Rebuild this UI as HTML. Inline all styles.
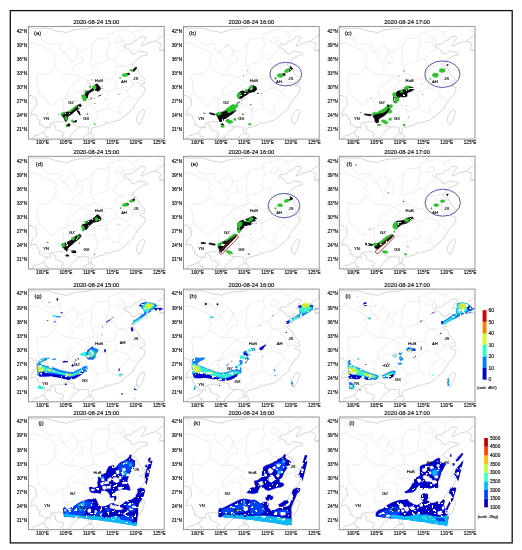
<!DOCTYPE html><html><head><meta charset="utf-8"><title>fig</title><style>
html,body{margin:0;padding:0;background:#fff;}svg{display:block;}
text{font-family:"Liberation Sans",sans-serif;fill:#111;stroke:#111;stroke-width:0.16px;}
</style></head><body>
<svg width="522" height="550" viewBox="0 0 522 550">
<rect width="522" height="550" fill="#fff"/>
<defs>
<clipPath id="dom"><polygon points="0.00,0.00 140.00,0.00 125.00,40.00 107.85,109.46 106.00,109.10 104.00,108.72 102.00,108.35 100.00,107.98 98.00,107.62 96.00,107.27 94.00,106.92 92.00,106.58 90.00,106.25 88.00,105.93 86.00,105.62 84.00,105.31 82.00,105.01 80.00,104.72 78.00,104.43 76.00,104.16 74.00,103.89 72.00,103.63 70.00,103.37 68.00,103.12 66.00,102.89 64.00,102.65 62.00,102.43 60.00,102.21 58.00,102.00 56.00,101.80 54.00,101.61 52.00,101.42 50.00,101.24 48.00,101.07 46.00,100.91 44.00,100.75 42.00,100.60 40.00,100.46 38.00,100.32 36.00,100.20 0.00,100.00"/></clipPath>
<mask id="ms9" maskUnits="userSpaceOnUse" x="-50" y="-50" width="300" height="300"><rect x="-50" y="-50" width="300" height="300" fill="#fff"/><rect x="-50" y="-50" width="300" height="300" fill="#000" filter="url(#spkl9)"/></mask>
<filter id="spkl9" x="-50" y="-50" width="300" height="300" filterUnits="userSpaceOnUse" color-interpolation-filters="sRGB"><feTurbulence type="fractalNoise" baseFrequency="0.28" numOctaves="2" seed="20"/><feColorMatrix type="matrix" values="0 0 0 0 0  0 0 0 0 0  0 0 0 0 0  -1 0 0 0 0.86"/><feComponentTransfer><feFuncA type="discrete" tableValues="0 1"/></feComponentTransfer></filter>
<mask id="ms10" maskUnits="userSpaceOnUse" x="-50" y="-50" width="300" height="300"><rect x="-50" y="-50" width="300" height="300" fill="#fff"/><rect x="-50" y="-50" width="300" height="300" fill="#000" filter="url(#spkl10)"/></mask>
<filter id="spkl10" x="-50" y="-50" width="300" height="300" filterUnits="userSpaceOnUse" color-interpolation-filters="sRGB"><feTurbulence type="fractalNoise" baseFrequency="0.28" numOctaves="2" seed="21"/><feColorMatrix type="matrix" values="0 0 0 0 0  0 0 0 0 0  0 0 0 0 0  -1 0 0 0 0.86"/><feComponentTransfer><feFuncA type="discrete" tableValues="0 1"/></feComponentTransfer></filter>
<mask id="ms11" maskUnits="userSpaceOnUse" x="-50" y="-50" width="300" height="300"><rect x="-50" y="-50" width="300" height="300" fill="#fff"/><rect x="-50" y="-50" width="300" height="300" fill="#000" filter="url(#spkl11)"/></mask>
<filter id="spkl11" x="-50" y="-50" width="300" height="300" filterUnits="userSpaceOnUse" color-interpolation-filters="sRGB"><feTurbulence type="fractalNoise" baseFrequency="0.28" numOctaves="2" seed="22"/><feColorMatrix type="matrix" values="0 0 0 0 0  0 0 0 0 0  0 0 0 0 0  -1 0 0 0 0.86"/><feComponentTransfer><feFuncA type="discrete" tableValues="0 1"/></feComponentTransfer></filter>
<clipPath id="cp"><rect x="0" y="0" width="135.70" height="112.70"/></clipPath>
<filter id="spk0" x="0" y="0" width="522" height="550" filterUnits="userSpaceOnUse" color-interpolation-filters="sRGB"><feTurbulence type="fractalNoise" baseFrequency="0.550" numOctaves="2" seed="3"/><feColorMatrix type="matrix" values="0 0 0 0 0  0 0 0 0 0  0 0 0 0 0  -1 0 0 0 0.800"/><feComponentTransfer><feFuncA type="discrete" tableValues="0 1"/></feComponentTransfer></filter>
<filter id="spk1" x="0" y="0" width="522" height="550" filterUnits="userSpaceOnUse" color-interpolation-filters="sRGB"><feTurbulence type="fractalNoise" baseFrequency="0.320" numOctaves="2" seed="5"/><feColorMatrix type="matrix" values="0 0 0 0 0  0 0 0 0 0  0 0 0 0 0  -1 0 0 0 0.830"/><feComponentTransfer><feFuncA type="discrete" tableValues="0 1"/></feComponentTransfer></filter>
<filter id="spk2" x="0" y="0" width="522" height="550" filterUnits="userSpaceOnUse" color-interpolation-filters="sRGB"><feTurbulence type="fractalNoise" baseFrequency="0.320" numOctaves="2" seed="7"/><feColorMatrix type="matrix" values="0 0 0 0 0  0 0 0 0 0  0 0 0 0 0  -1 0 0 0 0.870"/><feComponentTransfer><feFuncA type="discrete" tableValues="0 1"/></feComponentTransfer></filter>
</defs>
<rect x="10.3" y="10.6" width="501.9" height="532.3" fill="none" stroke="#111" stroke-width="1.3"/>
<g transform="translate(28.50 26.40)">
<g clip-path="url(#cp)">
<g fill="none" stroke-linejoin="round"><g stroke="#d0d0d0" stroke-width="0.9"><path d="M40.17 112.56 L41.57 109.75 L43.91 106.93 L45.78 104.59 L48.11 103.18 L50.45 101.30 L51.62 100.60 L53.72 100.13 L55.59 100.37 L56.99 101.07 L58.86 100.37 L60.26 101.30 L59.56 103.65 L60.26 105.99 L61.66 106.70 L63.06 106.46 L62.83 104.59 L62.59 102.71 L64.46 101.30 L68.20 100.60 L71.00 99.43 L74.27 98.96 L76.14 98.02 L77.54 95.68 L78.24 96.61 L80.35 97.08 L81.75 96.14 L84.08 95.21 L86.89 94.74 L90.16 94.03 L92.02 92.86 L93.89 91.45 L96.23 90.05 L98.10 87.23 L100.90 85.83 L102.77 83.48 L105.10 82.07 L105.57 79.26 L107.44 76.92 L109.31 74.10 L111.18 70.82 L113.51 69.41 L115.38 66.60 L116.31 64.25 L116.78 61.44 L113.98 60.03 L111.18 59.33 L113.51 57.69 L116.31 56.75 L115.38 54.40 L116.31 52.76 L113.98 50.65 L111.64 48.31 L110.24 45.96 L108.84 42.21 L105.57 39.86 L103.70 38.46 L104.64 36.58 L106.97 34.71 L109.31 32.36 L111.64 30.95 L114.91 29.08 L118.65 28.61 L119.12 26.73 L116.78 25.79 L113.51 25.33 L110.71 24.39 L107.91 26.26 L105.57 27.67 L102.77 26.73 L102.30 24.39 L99.50 22.51 L96.70 21.10 L96.23 18.76 L98.56 17.82 L102.30 17.82 L104.17 16.41 L106.50 14.54 L110.24 12.66 L112.11 10.32 L114.91 9.85 L117.72 11.26 L116.31 13.13 L114.91 15.95 L113.51 17.82 L112.58 19.70 L114.91 19.23 L117.25 17.82 L120.52 16.41 L123.79 15.48 L127.53 14.54 L128.93 15.95 L131.26 16.41 L132.66 17.82 L131.73 20.17 L130.80 22.04 L132.66 23.45 L136.40 24.86"/><path d="M107.91 93.80 L108.84 96.14 L110.71 98.49 L111.64 96.61 L113.04 94.74 L114.45 91.45 L114.91 89.11 L116.31 86.30 L116.31 84.42 L114.45 83.01 L112.11 84.42 L110.71 86.30 L108.37 90.05 L107.91 93.80 Z"/><path d="M54.19 113.03 L54.65 111.15 L56.99 109.28 L58.86 107.87 L61.66 107.40 L64.00 107.87 L65.40 109.51 L64.00 112.09 L63.06 113.50"/><path d="M51.62 100.60 L49.52 100.37 L47.65 99.66 L45.31 98.49 L45.54 96.61 L44.84 94.27 L42.04 94.03 L40.17 93.33 L38.77 92.39 L36.90 93.80 L35.03 94.74 L32.70 96.14 L30.83 94.74 L28.96 95.68 L27.09 95.68 L25.22 95.68 L24.06 96.61"/><path d="M24.06 96.61 L22.42 96.38 L21.49 98.02 L21.95 101.77 L19.62 100.83 L19.39 100.37"/><path d="M19.39 100.37 L16.82 101.07 L14.95 100.37 L13.78 98.25 L10.74 98.02 L11.68 94.27 L9.34 92.86 L8.88 90.05 L7.94 88.64 L4.67 87.70 L2.80 89.58 L2.34 87.70 L3.27 85.36 L3.74 83.01 L5.61 81.61 L7.94 79.26 L7.94 75.04 L7.01 72.23 L5.61 71.29 L2.80 68.94 L-0.47 69.41"/><path d="M24.06 96.61 L25.22 98.96 L27.56 99.90 L26.63 102.24 L28.96 104.12 L31.30 104.59 L34.57 105.99 L35.50 107.87 L32.70 109.75 L35.03 112.09 L36.90 113.50"/><path d="M19.39 100.37 L16.82 104.12 L14.48 105.99 L16.35 107.40 L16.82 110.21 L19.62 110.21 L19.15 113.50"/><path d="M14.48 105.99 L11.68 107.40 L8.88 108.81 L5.61 109.28 L3.74 111.62 L2.80 114.44"/><path d="M-0.93 1.17 L0.93 0.94 L4.67 1.88 L11.68 1.88 L17.75 1.64 L22.42 2.34 L26.63 4.22 L31.30 5.16 L35.03 5.39 L37.37 6.57 L42.04 4.69 L46.71 3.28 L51.38 2.58 L56.06 2.58 L60.73 1.88 L63.53 0.47 L64.93 -0.94"/><path d="M127.53 14.54 L130.33 11.72 L133.60 9.85 L136.40 7.50"/><path d="M130.33 23.92 L134.07 23.92 L136.40 24.39"/></g><g stroke="#e5e5e5" stroke-width="0.7"><path d="M7.94 72.69 L7.47 69.41 L9.34 66.13 L10.28 64.72 L11.21 68.47 L14.48 70.35 L15.88 72.69 L18.22 72.23 L19.62 76.45 L22.42 79.26 L26.16 77.85 L28.03 75.04 L30.36 72.23 L33.63 71.29 L35.03 72.23"/><path d="M35.03 72.23 L33.63 75.51 L35.50 77.38 L34.57 79.73 L35.03 82.54 L35.50 85.36"/><path d="M38.77 92.39 L40.17 88.64 L37.37 86.76 L35.50 85.36 L38.30 84.89 L42.04 85.36 L44.84 83.48 L48.11 82.54 L51.38 81.61 L54.19 82.54 L57.46 80.67 L58.86 79.73"/><path d="M58.86 79.73 L57.46 77.38 L58.39 74.10 L56.99 72.23 L57.92 68.94 L56.99 66.13 L54.19 67.54 L52.79 65.19 L50.45 64.72 L46.71 65.66 L43.91 68.00 L41.11 69.88 L38.30 69.41 L35.03 72.23"/><path d="M38.30 69.41 L39.71 64.25 L40.64 61.44 L42.04 59.56 L44.84 59.09 L47.65 55.34 L51.38 52.53 L54.19 51.12 L57.46 53.47"/><path d="M57.46 53.47 L61.19 54.40 L58.39 58.16 L56.99 60.97 L55.12 63.78 L56.99 66.13"/><path d="M58.39 62.85 L63.06 61.44 L66.80 60.97 L71.00 62.85 L74.74 63.31 L78.48 64.72 L79.41 66.13"/><path d="M58.86 79.73 L60.73 78.32 L64.46 79.73 L66.33 82.07 L68.20 84.42 L71.94 85.36 L74.74 83.01 L78.01 83.01 L80.35 81.61"/><path d="M80.35 81.61 L79.41 78.32 L78.48 75.04 L79.41 72.69 L77.54 70.35 L78.94 67.54 L79.41 66.13"/><path d="M68.20 84.42 L67.73 87.23 L70.07 89.58 L67.73 92.39 L66.33 95.21 L64.00 97.08 L62.13 98.96 L60.26 100.83"/><path d="M80.35 81.61 L83.15 83.48 L85.48 85.83 L88.75 85.36 L91.09 86.30 L92.49 88.17 L94.36 91.45"/><path d="M91.09 86.30 L90.16 83.01 L90.62 79.73 L92.96 76.92 L95.76 73.63 L99.03 70.82 L100.43 68.94"/><path d="M100.43 68.94 L102.77 70.82 L105.57 72.23 L109.31 74.10"/><path d="M100.43 68.94 L99.03 66.13 L98.10 64.72 L95.29 63.31 L92.02 62.85 L89.22 61.91"/><path d="M79.41 66.13 L83.15 64.25 L86.42 61.91 L89.22 61.91"/><path d="M98.10 64.72 L101.83 61.44 L104.17 58.62 L105.57 55.81 L109.77 56.28 L112.11 56.28 L113.51 57.69"/><path d="M111.64 56.28 L112.58 53.47 L115.38 54.40"/><path d="M104.17 58.62 L103.70 54.87 L101.83 53.47 L100.43 50.65 L102.77 49.24 L100.90 46.90 L98.10 45.49 L97.16 42.21 L91.56 39.86"/><path d="M89.22 61.91 L87.82 59.09 L88.29 56.28 L85.48 54.40 L83.62 52.06 L86.42 49.71 L87.35 46.90 L86.89 44.09 L88.75 41.27 L91.56 39.86"/><path d="M63.53 47.84 L66.80 46.90 L69.60 48.78 L72.87 49.71 L77.08 52.53 L80.35 52.53 L83.62 52.06"/><path d="M54.19 51.12 L57.46 48.78 L61.66 48.78 L63.53 47.84"/><path d="M54.19 51.12 L49.05 48.78 L44.38 48.31 L39.71 48.31 L42.04 45.96 L44.38 43.62 L44.38 40.80 L46.71 38.46 L49.05 37.05 L53.72 36.11 L54.65 31.42 L51.38 30.02 L49.05 27.67 L49.52 23.92"/><path d="M39.71 48.31 L34.57 46.90 L31.30 44.09 L27.09 41.27 L23.36 42.21 L21.95 45.96 L17.75 48.31 L13.08 47.37 L9.34 46.90 L7.94 51.59 L8.88 56.28 L9.34 60.97 L10.28 64.72"/><path d="M27.09 41.27 L25.69 38.46 L28.03 35.17 L26.63 32.83 L25.22 30.48 L28.03 28.14 L24.76 24.39 L19.62 22.51 L11.68 19.23 L7.01 16.41 L0.00 17.82"/><path d="M0.93 0.94 L6.07 7.03 L12.15 10.32 L14.48 14.07 L18.22 16.88 L22.42 18.29 L26.16 17.82 L29.43 16.88 L32.70 18.29 L30.83 22.51 L33.63 25.33"/><path d="M33.63 25.33 L35.50 26.26 L38.77 28.14 L39.71 31.42 L42.04 34.24 L44.38 36.11 L46.25 33.77 L46.25 31.89 L48.11 29.08 L49.52 23.92 L46.25 21.10 L45.78 18.29 L43.91 17.35 L42.04 19.70 L40.17 22.51 L37.37 24.86 L33.63 25.33"/><path d="M49.52 23.92 L53.72 25.33 L58.39 22.04 L62.59 18.76 L65.86 15.95 L63.53 20.17 L62.59 25.79 L63.06 30.48 L62.59 34.71 L61.66 37.99 L63.53 39.40"/><path d="M63.53 39.40 L65.40 43.15 L65.40 45.02 L63.53 47.84"/><path d="M63.53 39.40 L67.73 37.99 L72.40 36.58 L77.08 35.17 L79.88 32.83"/><path d="M79.88 32.83 L78.01 29.08 L78.94 24.86 L79.88 21.10 L81.75 16.41 L79.41 14.07 L80.81 11.26 L77.54 11.72 L74.74 12.19 L71.00 12.19 L67.27 13.13 L65.86 15.95"/><path d="M79.88 32.83 L82.21 32.36 L85.48 32.83 L86.89 35.64 L88.75 39.40 L91.56 39.86"/><path d="M91.56 39.86 L94.83 38.93 L98.10 39.40 L100.90 37.52 L103.70 38.46"/><path d="M85.48 32.83 L88.29 28.61 L91.09 25.79 L94.83 23.92 L96.70 21.10"/><path d="M80.81 11.26 L79.41 7.97 L85.95 5.63 L88.75 4.22 L92.96 3.75 L95.29 2.34 L98.10 1.88 L99.50 4.22 L103.70 6.10 L106.50 10.32 L105.10 13.13 L104.17 16.41"/><path d="M103.70 6.10 L107.44 5.16 L111.18 3.28 L115.38 2.34 L119.12 0.94 L121.45 -0.47"/><path d="M136.40 7.50 L132.66 4.22 L129.86 1.88 L127.53 -0.47"/><path d="M86.42 15.95 L88.75 13.13 L90.62 9.85 L95.29 11.26 L94.36 13.60 L92.96 15.95 L89.69 16.41 L86.42 15.95"/><path d="M94.36 13.60 L97.16 15.48 L96.23 18.76 L96.70 21.10 L93.43 20.17 L92.96 15.95"/></g></g>
<g transform="translate(-28.50 -26.40)"><mask id="m0" maskUnits="userSpaceOnUse" x="0" y="0" width="522" height="550"><rect width="522" height="550" fill="#fff"/><rect width="522" height="550" fill="#000" filter="url(#spk1)"/></mask><g mask="url(#m0)"><polygon points="61.45,114.38 63.75,113.06 66.05,112.37 69.49,111.79 72.94,109.78 75.24,107.48 77.54,105.18 80.41,104.03 81.45,105.36 79.95,107.66 77.54,109.49 75.24,110.76 73.52,112.25 71.79,114.09 69.49,115.24 67.89,116.51 67.31,118.69 66.74,120.99 65.59,121.56 64.61,119.38 63.52,117.08 62.14,115.93" fill="#0b070b" stroke="#0b070b" stroke-width="0.8" stroke-linejoin="round"/><polygon points="77.54,110.36 78.69,110.93 80.13,113.23 80.53,114.67 79.55,114.78 78.40,112.94 77.43,111.22" fill="#0b070b" stroke="#0b070b" stroke-width="0.8" stroke-linejoin="round"/><ellipse cx="74.90" cy="121.28" rx="2.30" ry="1.21" fill="#0b070b"/><polygon points="66.62,124.72 68.63,123.86 70.07,124.15 69.78,125.87 67.77,126.45 66.62,126.16" fill="#0b070b" stroke="#0b070b" stroke-width="0.8" stroke-linejoin="round"/><ellipse cx="58.69" cy="114.21" rx="0.34" ry="0.34" fill="#0b070b"/><ellipse cx="61.56" cy="116.51" rx="0.23" ry="0.23" fill="#0b070b"/><ellipse cx="66.05" cy="98.86" rx="0.29" ry="0.29" fill="#0b070b"/><ellipse cx="54.70" cy="113.19" rx="0.36" ry="0.36" fill="#0b070b"/><ellipse cx="58.61" cy="114.23" rx="0.29" ry="0.29" fill="#0b070b"/><ellipse cx="49.49" cy="124.52" rx="0.21" ry="0.21" fill="#0b070b"/><ellipse cx="65.78" cy="98.86" rx="0.21" ry="0.21" fill="#0b070b"/><ellipse cx="78.15" cy="113.45" rx="0.21" ry="0.21" fill="#0b070b"/><ellipse cx="79.46" cy="114.10" rx="0.21" ry="0.21" fill="#0b070b"/><polygon points="85.20,92.66 86.92,91.10 88.36,91.22 89.79,90.36 91.23,89.49 92.38,88.34 93.82,87.20 95.54,84.32 97.26,84.03 98.99,86.05 100.71,88.34 99.56,90.36 97.84,91.22 96.11,90.36 94.39,90.07 92.67,90.93 90.94,91.79 89.22,92.94 88.07,94.67 87.49,96.97 88.36,97.83 90.37,98.40 91.52,98.11 90.94,98.98 88.64,98.80 87.21,98.11 86.34,96.97 85.48,95.24" fill="#0b070b" stroke="#0b070b" stroke-width="0.8" stroke-linejoin="round"/><polygon points="81.75,94.38 84.05,95.24 86.34,96.39 86.92,97.83 85.20,98.11 82.90,96.97" fill="#0b070b" stroke="#0b070b" stroke-width="0.8" stroke-linejoin="round"/><ellipse cx="91.23" cy="80.01" rx="0.40" ry="0.40" fill="#0b070b"/><ellipse cx="101.86" cy="86.05" rx="0.34" ry="0.34" fill="#0b070b"/><ellipse cx="102.44" cy="88.63" rx="0.34" ry="0.34" fill="#0b070b"/><ellipse cx="94.97" cy="98.11" rx="0.29" ry="0.29" fill="#0b070b"/><ellipse cx="93.24" cy="98.40" rx="0.23" ry="0.23" fill="#0b070b"/><ellipse cx="94.97" cy="103.29" rx="0.40" ry="0.40" fill="#0b070b"/><ellipse cx="76.57" cy="100.70" rx="0.29" ry="0.29" fill="#0b070b"/><ellipse cx="89.79" cy="83.46" rx="0.34" ry="0.34" fill="#0b070b"/><polyline points="98.13,96.28 101.29,94.95" fill="none" stroke="#0b070b" stroke-width="0.57" stroke-linecap="round"/><ellipse cx="89.96" cy="97.62" rx="0.39" ry="0.39" fill="#0b070b"/><ellipse cx="92.31" cy="98.01" rx="0.33" ry="0.33" fill="#0b070b"/><ellipse cx="94.52" cy="98.40" rx="0.26" ry="0.26" fill="#0b070b"/><ellipse cx="96.48" cy="97.62" rx="0.26" ry="0.26" fill="#0b070b"/><ellipse cx="99.08" cy="95.66" rx="0.39" ry="0.39" fill="#0b070b"/><ellipse cx="100.38" cy="95.27" rx="0.26" ry="0.26" fill="#0b070b"/><ellipse cx="104.94" cy="99.31" rx="0.26" ry="0.26" fill="#0b070b"/><ellipse cx="119.27" cy="94.10" rx="0.33" ry="0.33" fill="#0b070b"/><ellipse cx="120.57" cy="93.71" rx="0.26" ry="0.26" fill="#0b070b"/><ellipse cx="91.92" cy="79.77" rx="0.26" ry="0.26" fill="#0b070b"/><ellipse cx="91.26" cy="83.68" rx="0.26" ry="0.26" fill="#0b070b"/><ellipse cx="102.34" cy="86.67" rx="0.26" ry="0.26" fill="#0b070b"/><ellipse cx="102.99" cy="88.89" rx="0.26" ry="0.26" fill="#0b070b"/><ellipse cx="87.36" cy="81.72" rx="0.20" ry="0.20" fill="#0b070b"/><ellipse cx="105.59" cy="81.72" rx="0.20" ry="0.20" fill="#0b070b"/><polygon points="132.87,69.77 134.82,67.95 136.64,67.16 135.86,69.25 134.43,70.94 133.00,71.59" fill="#0b070b" stroke="#0b070b" stroke-width="0.8" stroke-linejoin="round"/><polygon points="126.61,73.55 129.22,73.16 129.61,74.46 127.92,75.76" fill="#0b070b" stroke="#0b070b" stroke-width="0.8" stroke-linejoin="round"/><ellipse cx="116.84" cy="66.64" rx="0.20" ry="0.20" fill="#0b070b"/><ellipse cx="117.49" cy="94.38" rx="0.26" ry="0.26" fill="#0b070b"/><ellipse cx="119.45" cy="93.98" rx="0.26" ry="0.26" fill="#0b070b"/><ellipse cx="100.56" cy="95.68" rx="0.33" ry="0.33" fill="#0b070b"/><ellipse cx="105.12" cy="98.93" rx="0.26" ry="0.26" fill="#0b070b"/><ellipse cx="98.61" cy="87.21" rx="0.26" ry="0.26" fill="#0b070b"/></g><polygon points="60.59,113.80 62.60,112.37 64.32,112.08 65.47,112.66 63.75,114.09 62.02,115.24 60.87,114.95" fill="#2fc42f" stroke="#2fc42f" stroke-width="0.5" stroke-linejoin="round"/><polygon points="68.63,111.51 70.36,110.07 72.08,108.63 73.80,107.20 75.24,106.05 76.39,105.47 76.97,106.62 75.24,108.06 73.52,109.49 71.79,110.93 69.78,112.08" fill="#2fc42f" stroke="#2fc42f" stroke-width="0.5" stroke-linejoin="round"/><polygon points="64.90,116.39 66.33,116.10 67.20,118.11 66.62,120.41 65.47,120.13 64.78,118.11" fill="#2fc42f" stroke="#2fc42f" stroke-width="0.5" stroke-linejoin="round"/><polygon points="71.51,120.13 73.06,119.72 73.63,121.28 72.66,122.43 71.51,121.85" fill="#2fc42f" stroke="#2fc42f" stroke-width="0.5" stroke-linejoin="round"/><polygon points="65.76,125.01 67.20,124.72 67.48,126.45 66.05,126.74" fill="#2fc42f" stroke="#2fc42f" stroke-width="0.5" stroke-linejoin="round"/><ellipse cx="87.31" cy="114.21" rx="0.69" ry="0.69" fill="#2fc42f"/><ellipse cx="80.87" cy="118.40" rx="0.34" ry="0.34" fill="#2fc42f"/><ellipse cx="87.27" cy="114.10" rx="0.65" ry="0.65" fill="#2fc42f"/><ellipse cx="94.70" cy="124.13" rx="0.65" ry="0.65" fill="#2fc42f"/><ellipse cx="47.54" cy="113.45" rx="0.91" ry="0.39" fill="#2fc42f"/><polygon points="92.67,86.05 94.10,84.90 95.83,85.18 96.11,87.48 94.97,89.49 93.24,89.21" fill="#2fc42f" stroke="#2fc42f" stroke-width="0.5" stroke-linejoin="round"/><polygon points="89.10,86.05 90.37,85.59 91.06,87.20 89.79,87.89" fill="#2fc42f" stroke="#2fc42f" stroke-width="0.5" stroke-linejoin="round"/><polygon points="84.51,90.76 86.06,90.18 87.03,91.79 85.48,92.66" fill="#2fc42f" stroke="#2fc42f" stroke-width="0.5" stroke-linejoin="round"/><polygon points="81.46,95.24 83.47,94.67 85.77,96.39 86.63,98.69 85.48,100.99 83.47,100.99 82.03,98.11" fill="#2fc42f" stroke="#2fc42f" stroke-width="0.5" stroke-linejoin="round"/><polygon points="93.53,86.62 94.97,86.05 95.43,87.77 94.10,88.63" fill="#2fc42f" stroke="#2fc42f" stroke-width="0.5" stroke-linejoin="round"/><ellipse cx="87.36" cy="114.29" rx="0.78" ry="0.78" fill="#2fc42f"/><ellipse cx="94.52" cy="124.06" rx="0.78" ry="0.78" fill="#2fc42f"/><ellipse cx="94.91" cy="103.61" rx="0.52" ry="0.52" fill="#2fc42f"/><ellipse cx="131.17" cy="70.29" rx="1.43" ry="1.30" fill="#2fc42f"/><polygon points="122.05,74.20 124.66,73.16 127.26,73.94 127.92,75.76 125.31,76.80 122.70,76.15" fill="#2fc42f" stroke="#2fc42f" stroke-width="0.5" stroke-linejoin="round"/><ellipse cx="120.10" cy="77.85" rx="0.91" ry="0.91" fill="#2fc42f"/></g>
</g>
<text x="17.70" y="93.70" font-size="4.2" text-anchor="middle">YN</text>
<text x="42.70" y="77.60" font-size="4.2" text-anchor="middle">GZ</text>
<text x="57.70" y="93.80" font-size="4.2" text-anchor="middle">GX</text>
<text x="70.40" y="56.00" font-size="4.2" text-anchor="middle">HuB</text>
<text x="95.50" y="56.90" font-size="4.2" text-anchor="middle">AH</text>
<text x="107.30" y="53.60" font-size="4.2" text-anchor="middle">JS</text>
<text x="5.60" y="8.80" font-size="5.9">(a)</text>
<rect x="0" y="0" width="135.70" height="112.70" fill="none" stroke="#8a8a8a" stroke-width="0.9"/>
<text x="-1.4" y="6.39" font-size="4.7" text-anchor="end">42°N</text>
<text x="-1.4" y="20.46" font-size="4.7" text-anchor="end">39°N</text>
<text x="-1.4" y="34.53" font-size="4.7" text-anchor="end">36°N</text>
<text x="-1.4" y="48.60" font-size="4.7" text-anchor="end">33°N</text>
<text x="-1.4" y="62.67" font-size="4.7" text-anchor="end">30°N</text>
<text x="-1.4" y="76.74" font-size="4.7" text-anchor="end">27°N</text>
<text x="-1.4" y="90.81" font-size="4.7" text-anchor="end">24°N</text>
<text x="-1.4" y="104.88" font-size="4.7" text-anchor="end">21°N</text>
<text x="14.01" y="118.00" font-size="4.7" text-anchor="middle">100°E</text>
<text x="37.37" y="118.00" font-size="4.7" text-anchor="middle">105°E</text>
<text x="60.73" y="118.00" font-size="4.7" text-anchor="middle">110°E</text>
<text x="84.08" y="118.00" font-size="4.7" text-anchor="middle">115°E</text>
<text x="107.44" y="118.00" font-size="4.7" text-anchor="middle">120°E</text>
<text x="130.80" y="118.00" font-size="4.7" text-anchor="middle">125°E</text>
<text x="67.85" y="-2.0" font-size="5.8" text-anchor="middle">2020-08-24 15:00</text>

</g>
<g transform="translate(183.50 26.40)">
<g clip-path="url(#cp)">
<g fill="none" stroke-linejoin="round"><g stroke="#d0d0d0" stroke-width="0.9"><path d="M40.17 112.56 L41.57 109.75 L43.91 106.93 L45.78 104.59 L48.11 103.18 L50.45 101.30 L51.62 100.60 L53.72 100.13 L55.59 100.37 L56.99 101.07 L58.86 100.37 L60.26 101.30 L59.56 103.65 L60.26 105.99 L61.66 106.70 L63.06 106.46 L62.83 104.59 L62.59 102.71 L64.46 101.30 L68.20 100.60 L71.00 99.43 L74.27 98.96 L76.14 98.02 L77.54 95.68 L78.24 96.61 L80.35 97.08 L81.75 96.14 L84.08 95.21 L86.89 94.74 L90.16 94.03 L92.02 92.86 L93.89 91.45 L96.23 90.05 L98.10 87.23 L100.90 85.83 L102.77 83.48 L105.10 82.07 L105.57 79.26 L107.44 76.92 L109.31 74.10 L111.18 70.82 L113.51 69.41 L115.38 66.60 L116.31 64.25 L116.78 61.44 L113.98 60.03 L111.18 59.33 L113.51 57.69 L116.31 56.75 L115.38 54.40 L116.31 52.76 L113.98 50.65 L111.64 48.31 L110.24 45.96 L108.84 42.21 L105.57 39.86 L103.70 38.46 L104.64 36.58 L106.97 34.71 L109.31 32.36 L111.64 30.95 L114.91 29.08 L118.65 28.61 L119.12 26.73 L116.78 25.79 L113.51 25.33 L110.71 24.39 L107.91 26.26 L105.57 27.67 L102.77 26.73 L102.30 24.39 L99.50 22.51 L96.70 21.10 L96.23 18.76 L98.56 17.82 L102.30 17.82 L104.17 16.41 L106.50 14.54 L110.24 12.66 L112.11 10.32 L114.91 9.85 L117.72 11.26 L116.31 13.13 L114.91 15.95 L113.51 17.82 L112.58 19.70 L114.91 19.23 L117.25 17.82 L120.52 16.41 L123.79 15.48 L127.53 14.54 L128.93 15.95 L131.26 16.41 L132.66 17.82 L131.73 20.17 L130.80 22.04 L132.66 23.45 L136.40 24.86"/><path d="M107.91 93.80 L108.84 96.14 L110.71 98.49 L111.64 96.61 L113.04 94.74 L114.45 91.45 L114.91 89.11 L116.31 86.30 L116.31 84.42 L114.45 83.01 L112.11 84.42 L110.71 86.30 L108.37 90.05 L107.91 93.80 Z"/><path d="M54.19 113.03 L54.65 111.15 L56.99 109.28 L58.86 107.87 L61.66 107.40 L64.00 107.87 L65.40 109.51 L64.00 112.09 L63.06 113.50"/><path d="M51.62 100.60 L49.52 100.37 L47.65 99.66 L45.31 98.49 L45.54 96.61 L44.84 94.27 L42.04 94.03 L40.17 93.33 L38.77 92.39 L36.90 93.80 L35.03 94.74 L32.70 96.14 L30.83 94.74 L28.96 95.68 L27.09 95.68 L25.22 95.68 L24.06 96.61"/><path d="M24.06 96.61 L22.42 96.38 L21.49 98.02 L21.95 101.77 L19.62 100.83 L19.39 100.37"/><path d="M19.39 100.37 L16.82 101.07 L14.95 100.37 L13.78 98.25 L10.74 98.02 L11.68 94.27 L9.34 92.86 L8.88 90.05 L7.94 88.64 L4.67 87.70 L2.80 89.58 L2.34 87.70 L3.27 85.36 L3.74 83.01 L5.61 81.61 L7.94 79.26 L7.94 75.04 L7.01 72.23 L5.61 71.29 L2.80 68.94 L-0.47 69.41"/><path d="M24.06 96.61 L25.22 98.96 L27.56 99.90 L26.63 102.24 L28.96 104.12 L31.30 104.59 L34.57 105.99 L35.50 107.87 L32.70 109.75 L35.03 112.09 L36.90 113.50"/><path d="M19.39 100.37 L16.82 104.12 L14.48 105.99 L16.35 107.40 L16.82 110.21 L19.62 110.21 L19.15 113.50"/><path d="M14.48 105.99 L11.68 107.40 L8.88 108.81 L5.61 109.28 L3.74 111.62 L2.80 114.44"/><path d="M-0.93 1.17 L0.93 0.94 L4.67 1.88 L11.68 1.88 L17.75 1.64 L22.42 2.34 L26.63 4.22 L31.30 5.16 L35.03 5.39 L37.37 6.57 L42.04 4.69 L46.71 3.28 L51.38 2.58 L56.06 2.58 L60.73 1.88 L63.53 0.47 L64.93 -0.94"/><path d="M127.53 14.54 L130.33 11.72 L133.60 9.85 L136.40 7.50"/><path d="M130.33 23.92 L134.07 23.92 L136.40 24.39"/></g><g stroke="#e5e5e5" stroke-width="0.7"><path d="M7.94 72.69 L7.47 69.41 L9.34 66.13 L10.28 64.72 L11.21 68.47 L14.48 70.35 L15.88 72.69 L18.22 72.23 L19.62 76.45 L22.42 79.26 L26.16 77.85 L28.03 75.04 L30.36 72.23 L33.63 71.29 L35.03 72.23"/><path d="M35.03 72.23 L33.63 75.51 L35.50 77.38 L34.57 79.73 L35.03 82.54 L35.50 85.36"/><path d="M38.77 92.39 L40.17 88.64 L37.37 86.76 L35.50 85.36 L38.30 84.89 L42.04 85.36 L44.84 83.48 L48.11 82.54 L51.38 81.61 L54.19 82.54 L57.46 80.67 L58.86 79.73"/><path d="M58.86 79.73 L57.46 77.38 L58.39 74.10 L56.99 72.23 L57.92 68.94 L56.99 66.13 L54.19 67.54 L52.79 65.19 L50.45 64.72 L46.71 65.66 L43.91 68.00 L41.11 69.88 L38.30 69.41 L35.03 72.23"/><path d="M38.30 69.41 L39.71 64.25 L40.64 61.44 L42.04 59.56 L44.84 59.09 L47.65 55.34 L51.38 52.53 L54.19 51.12 L57.46 53.47"/><path d="M57.46 53.47 L61.19 54.40 L58.39 58.16 L56.99 60.97 L55.12 63.78 L56.99 66.13"/><path d="M58.39 62.85 L63.06 61.44 L66.80 60.97 L71.00 62.85 L74.74 63.31 L78.48 64.72 L79.41 66.13"/><path d="M58.86 79.73 L60.73 78.32 L64.46 79.73 L66.33 82.07 L68.20 84.42 L71.94 85.36 L74.74 83.01 L78.01 83.01 L80.35 81.61"/><path d="M80.35 81.61 L79.41 78.32 L78.48 75.04 L79.41 72.69 L77.54 70.35 L78.94 67.54 L79.41 66.13"/><path d="M68.20 84.42 L67.73 87.23 L70.07 89.58 L67.73 92.39 L66.33 95.21 L64.00 97.08 L62.13 98.96 L60.26 100.83"/><path d="M80.35 81.61 L83.15 83.48 L85.48 85.83 L88.75 85.36 L91.09 86.30 L92.49 88.17 L94.36 91.45"/><path d="M91.09 86.30 L90.16 83.01 L90.62 79.73 L92.96 76.92 L95.76 73.63 L99.03 70.82 L100.43 68.94"/><path d="M100.43 68.94 L102.77 70.82 L105.57 72.23 L109.31 74.10"/><path d="M100.43 68.94 L99.03 66.13 L98.10 64.72 L95.29 63.31 L92.02 62.85 L89.22 61.91"/><path d="M79.41 66.13 L83.15 64.25 L86.42 61.91 L89.22 61.91"/><path d="M98.10 64.72 L101.83 61.44 L104.17 58.62 L105.57 55.81 L109.77 56.28 L112.11 56.28 L113.51 57.69"/><path d="M111.64 56.28 L112.58 53.47 L115.38 54.40"/><path d="M104.17 58.62 L103.70 54.87 L101.83 53.47 L100.43 50.65 L102.77 49.24 L100.90 46.90 L98.10 45.49 L97.16 42.21 L91.56 39.86"/><path d="M89.22 61.91 L87.82 59.09 L88.29 56.28 L85.48 54.40 L83.62 52.06 L86.42 49.71 L87.35 46.90 L86.89 44.09 L88.75 41.27 L91.56 39.86"/><path d="M63.53 47.84 L66.80 46.90 L69.60 48.78 L72.87 49.71 L77.08 52.53 L80.35 52.53 L83.62 52.06"/><path d="M54.19 51.12 L57.46 48.78 L61.66 48.78 L63.53 47.84"/><path d="M54.19 51.12 L49.05 48.78 L44.38 48.31 L39.71 48.31 L42.04 45.96 L44.38 43.62 L44.38 40.80 L46.71 38.46 L49.05 37.05 L53.72 36.11 L54.65 31.42 L51.38 30.02 L49.05 27.67 L49.52 23.92"/><path d="M39.71 48.31 L34.57 46.90 L31.30 44.09 L27.09 41.27 L23.36 42.21 L21.95 45.96 L17.75 48.31 L13.08 47.37 L9.34 46.90 L7.94 51.59 L8.88 56.28 L9.34 60.97 L10.28 64.72"/><path d="M27.09 41.27 L25.69 38.46 L28.03 35.17 L26.63 32.83 L25.22 30.48 L28.03 28.14 L24.76 24.39 L19.62 22.51 L11.68 19.23 L7.01 16.41 L0.00 17.82"/><path d="M0.93 0.94 L6.07 7.03 L12.15 10.32 L14.48 14.07 L18.22 16.88 L22.42 18.29 L26.16 17.82 L29.43 16.88 L32.70 18.29 L30.83 22.51 L33.63 25.33"/><path d="M33.63 25.33 L35.50 26.26 L38.77 28.14 L39.71 31.42 L42.04 34.24 L44.38 36.11 L46.25 33.77 L46.25 31.89 L48.11 29.08 L49.52 23.92 L46.25 21.10 L45.78 18.29 L43.91 17.35 L42.04 19.70 L40.17 22.51 L37.37 24.86 L33.63 25.33"/><path d="M49.52 23.92 L53.72 25.33 L58.39 22.04 L62.59 18.76 L65.86 15.95 L63.53 20.17 L62.59 25.79 L63.06 30.48 L62.59 34.71 L61.66 37.99 L63.53 39.40"/><path d="M63.53 39.40 L65.40 43.15 L65.40 45.02 L63.53 47.84"/><path d="M63.53 39.40 L67.73 37.99 L72.40 36.58 L77.08 35.17 L79.88 32.83"/><path d="M79.88 32.83 L78.01 29.08 L78.94 24.86 L79.88 21.10 L81.75 16.41 L79.41 14.07 L80.81 11.26 L77.54 11.72 L74.74 12.19 L71.00 12.19 L67.27 13.13 L65.86 15.95"/><path d="M79.88 32.83 L82.21 32.36 L85.48 32.83 L86.89 35.64 L88.75 39.40 L91.56 39.86"/><path d="M91.56 39.86 L94.83 38.93 L98.10 39.40 L100.90 37.52 L103.70 38.46"/><path d="M85.48 32.83 L88.29 28.61 L91.09 25.79 L94.83 23.92 L96.70 21.10"/><path d="M80.81 11.26 L79.41 7.97 L85.95 5.63 L88.75 4.22 L92.96 3.75 L95.29 2.34 L98.10 1.88 L99.50 4.22 L103.70 6.10 L106.50 10.32 L105.10 13.13 L104.17 16.41"/><path d="M103.70 6.10 L107.44 5.16 L111.18 3.28 L115.38 2.34 L119.12 0.94 L121.45 -0.47"/><path d="M136.40 7.50 L132.66 4.22 L129.86 1.88 L127.53 -0.47"/><path d="M86.42 15.95 L88.75 13.13 L90.62 9.85 L95.29 11.26 L94.36 13.60 L92.96 15.95 L89.69 16.41 L86.42 15.95"/><path d="M94.36 13.60 L97.16 15.48 L96.23 18.76 L96.70 21.10 L93.43 20.17 L92.96 15.95"/></g></g>
<g transform="translate(-183.50 -26.40)"><mask id="m1" maskUnits="userSpaceOnUse" x="0" y="0" width="522" height="550"><rect width="522" height="550" fill="#fff"/><rect width="522" height="550" fill="#000" filter="url(#spk1)"/></mask><g mask="url(#m1)"><ellipse cx="226.25" cy="45.93" rx="0.33" ry="0.33" fill="#0b070b"/><ellipse cx="247.22" cy="70.94" rx="0.33" ry="0.33" fill="#0b070b"/><ellipse cx="243.57" cy="76.15" rx="0.33" ry="0.33" fill="#0b070b"/><ellipse cx="251.66" cy="104.47" rx="0.26" ry="0.26" fill="#0b070b"/><ellipse cx="252.59" cy="108.44" rx="0.26" ry="0.26" fill="#0b070b"/><polygon points="237.80,94.10 240.40,91.49 243.01,90.84 245.61,92.15 246.92,90.84 249.52,88.24 250.82,86.28 253.43,85.63 256.03,86.93 256.69,89.54 254.73,91.49 251.48,92.15 248.87,92.80 246.92,94.75 244.31,96.05 242.36,98.01 239.75,98.66 237.80,97.36" fill="#0b070b" stroke="#0b070b" stroke-width="0.8" stroke-linejoin="round"/><ellipse cx="257.99" cy="93.19" rx="1.04" ry="0.52" fill="#0b070b"/><ellipse cx="261.25" cy="93.45" rx="0.52" ry="0.39" fill="#0b070b"/><ellipse cx="239.10" cy="102.57" rx="0.52" ry="0.52" fill="#0b070b"/><ellipse cx="238.19" cy="101.79" rx="0.33" ry="0.33" fill="#0b070b"/><ellipse cx="250.17" cy="104.91" rx="0.52" ry="0.52" fill="#0b070b"/><ellipse cx="251.21" cy="104.39" rx="0.33" ry="0.33" fill="#0b070b"/><ellipse cx="252.78" cy="108.43" rx="0.26" ry="0.26" fill="#0b070b"/><ellipse cx="245.61" cy="112.34" rx="0.26" ry="0.26" fill="#0b070b"/><ellipse cx="239.10" cy="112.99" rx="0.26" ry="0.26" fill="#0b070b"/><ellipse cx="235.84" cy="114.94" rx="0.26" ry="0.26" fill="#0b070b"/><ellipse cx="246.92" cy="83.03" rx="0.26" ry="0.26" fill="#0b070b"/><ellipse cx="247.57" cy="98.01" rx="0.26" ry="0.26" fill="#0b070b"/><ellipse cx="243.66" cy="75.86" rx="0.26" ry="0.26" fill="#0b070b"/><ellipse cx="247.57" cy="70.65" rx="0.26" ry="0.26" fill="#0b070b"/><polygon points="216.22,114.10 218.82,112.80 222.08,112.15 224.69,111.49 227.29,109.54 229.90,106.93 232.50,104.98 234.46,105.63 235.11,108.24 233.15,110.84 230.55,112.80 228.59,115.40 226.64,117.36 224.69,119.31 222.08,121.26 220.13,121.92 218.82,119.31 217.52,116.70" fill="#0b070b" stroke="#0b070b" stroke-width="0.8" stroke-linejoin="round"/><polygon points="226.51,119.96 228.59,119.70 228.85,121.79 227.03,122.05" fill="#0b070b" stroke="#0b070b" stroke-width="0.8" stroke-linejoin="round"/><polygon points="221.04,124.13 223.38,123.61 223.64,125.17 221.56,125.43" fill="#0b070b" stroke="#0b070b" stroke-width="0.8" stroke-linejoin="round"/><polygon points="209.70,112.80 212.96,113.45 215.31,114.23 214.92,115.01 212.31,114.49 209.70,113.71" fill="#0b070b" stroke="#0b070b" stroke-width="0.8" stroke-linejoin="round"/><ellipse cx="204.49" cy="113.19" rx="1.30" ry="0.39" fill="#0b070b"/><ellipse cx="237.45" cy="103.03" rx="1.04" ry="0.52" fill="#0b070b"/><polygon points="288.41,70.28 289.99,68.56 290.66,66.32 291.45,68.03 293.03,68.56 291.32,69.62 289.60,71.60" fill="#0b070b" stroke="#0b070b" stroke-width="0.8" stroke-linejoin="round"/><polygon points="282.46,73.85 284.84,73.59 285.10,75.17 282.99,75.70" fill="#0b070b" stroke="#0b070b" stroke-width="0.8" stroke-linejoin="round"/><polygon points="220.21,113.64 224.12,112.34 228.03,111.43 231.93,110.12 234.54,109.08 235.84,110.64 233.24,113.25 229.33,115.85 225.42,118.46 221.51,120.15 218.91,118.20" fill="#0b070b" stroke="#0b070b" stroke-width="0.8" stroke-linejoin="round"/><ellipse cx="239.75" cy="101.92" rx="0.39" ry="0.39" fill="#0b070b"/><ellipse cx="241.70" cy="100.74" rx="0.39" ry="0.39" fill="#0b070b"/><ellipse cx="243.66" cy="99.70" rx="0.39" ry="0.39" fill="#0b070b"/><ellipse cx="245.22" cy="98.66" rx="0.33" ry="0.33" fill="#0b070b"/><ellipse cx="241.05" cy="103.22" rx="0.26" ry="0.26" fill="#0b070b"/></g><polygon points="236.89,94.75 238.45,92.80 241.05,92.80 240.40,96.05 239.10,98.01 237.41,97.36" fill="#2fc42f" stroke="#2fc42f" stroke-width="0.5" stroke-linejoin="round"/><polygon points="249.13,86.67 251.48,85.37 253.04,86.28 252.13,88.89 249.91,89.28" fill="#2fc42f" stroke="#2fc42f" stroke-width="0.5" stroke-linejoin="round"/><polygon points="244.96,89.54 247.57,89.28 247.57,91.49 245.22,91.62" fill="#2fc42f" stroke="#2fc42f" stroke-width="0.5" stroke-linejoin="round"/><ellipse cx="243.01" cy="114.29" rx="1.04" ry="0.91" fill="#2fc42f"/><ellipse cx="249.52" cy="124.06" rx="1.30" ry="1.04" fill="#2fc42f"/><ellipse cx="234.80" cy="119.50" rx="1.04" ry="1.30" fill="#2fc42f"/><polygon points="215.83,113.71 218.17,112.41 221.43,112.15 220.78,114.49 218.17,115.40" fill="#2fc42f" stroke="#2fc42f" stroke-width="0.5" stroke-linejoin="round"/><polygon points="224.03,110.84 227.29,108.24 230.55,105.63 233.15,104.59 232.50,106.28 229.25,108.24 226.64,110.58" fill="#2fc42f" stroke="#2fc42f" stroke-width="0.5" stroke-linejoin="round"/><polygon points="232.24,108.24 234.46,107.59 235.37,109.54 233.80,111.49 232.50,110.58" fill="#2fc42f" stroke="#2fc42f" stroke-width="0.5" stroke-linejoin="round"/><polygon points="225.99,120.61 228.59,119.70 231.85,120.61 233.15,122.31 230.55,123.61 227.29,122.57" fill="#2fc42f" stroke="#2fc42f" stroke-width="0.5" stroke-linejoin="round"/><ellipse cx="222.73" cy="126.21" rx="1.82" ry="1.56" fill="#2fc42f"/><ellipse cx="234.85" cy="119.31" rx="1.30" ry="1.30" fill="#2fc42f"/><ellipse cx="243.18" cy="114.10" rx="0.65" ry="0.65" fill="#2fc42f"/><ellipse cx="249.70" cy="124.52" rx="1.30" ry="1.04" fill="#2fc42f"/><ellipse cx="203.58" cy="112.93" rx="0.78" ry="0.33" fill="#2fc42f"/><polygon points="284.31,70.94 286.43,69.09 288.67,68.56 289.33,70.28 287.75,72.53 285.37,72.93" fill="#2fc42f" stroke="#2fc42f" stroke-width="0.5" stroke-linejoin="round"/><polygon points="276.78,75.17 279.02,73.59 282.06,73.85 283.39,75.57 281.67,77.55 278.76,77.29" fill="#2fc42f" stroke="#2fc42f" stroke-width="0.5" stroke-linejoin="round"/><ellipse cx="275.59" cy="78.34" rx="1.06" ry="1.32" fill="#2fc42f"/><polygon points="227.38,109.08 230.63,106.48 233.89,104.91 237.15,104.13 238.19,105.82 235.84,108.43 232.59,111.03 229.33,112.99 227.38,112.34" fill="#2fc42f" stroke="#2fc42f" stroke-width="0.5" stroke-linejoin="round"/></g>
</g>
<text x="17.70" y="93.70" font-size="4.2" text-anchor="middle">YN</text>
<text x="42.70" y="77.60" font-size="4.2" text-anchor="middle">GZ</text>
<text x="57.70" y="93.80" font-size="4.2" text-anchor="middle">GX</text>
<text x="70.40" y="56.00" font-size="4.2" text-anchor="middle">HuB</text>
<text x="95.50" y="56.90" font-size="4.2" text-anchor="middle">AH</text>
<text x="107.30" y="53.60" font-size="4.2" text-anchor="middle">JS</text>
<text x="5.60" y="8.80" font-size="5.9">(b)</text>
<rect x="0" y="0" width="135.70" height="112.70" fill="none" stroke="#8a8a8a" stroke-width="0.9"/>
<text x="-1.4" y="6.39" font-size="4.7" text-anchor="end">42°N</text>
<text x="-1.4" y="20.46" font-size="4.7" text-anchor="end">39°N</text>
<text x="-1.4" y="34.53" font-size="4.7" text-anchor="end">36°N</text>
<text x="-1.4" y="48.60" font-size="4.7" text-anchor="end">33°N</text>
<text x="-1.4" y="62.67" font-size="4.7" text-anchor="end">30°N</text>
<text x="-1.4" y="76.74" font-size="4.7" text-anchor="end">27°N</text>
<text x="-1.4" y="90.81" font-size="4.7" text-anchor="end">24°N</text>
<text x="-1.4" y="104.88" font-size="4.7" text-anchor="end">21°N</text>
<text x="14.01" y="118.00" font-size="4.7" text-anchor="middle">100°E</text>
<text x="37.37" y="118.00" font-size="4.7" text-anchor="middle">105°E</text>
<text x="60.73" y="118.00" font-size="4.7" text-anchor="middle">110°E</text>
<text x="84.08" y="118.00" font-size="4.7" text-anchor="middle">115°E</text>
<text x="107.44" y="118.00" font-size="4.7" text-anchor="middle">120°E</text>
<text x="130.80" y="118.00" font-size="4.7" text-anchor="middle">125°E</text>
<text x="67.85" y="-2.0" font-size="5.8" text-anchor="middle">2020-08-24 16:00</text>

</g>
<g transform="translate(339.30 26.40)">
<g clip-path="url(#cp)">
<g fill="none" stroke-linejoin="round"><g stroke="#d0d0d0" stroke-width="0.9"><path d="M40.17 112.56 L41.57 109.75 L43.91 106.93 L45.78 104.59 L48.11 103.18 L50.45 101.30 L51.62 100.60 L53.72 100.13 L55.59 100.37 L56.99 101.07 L58.86 100.37 L60.26 101.30 L59.56 103.65 L60.26 105.99 L61.66 106.70 L63.06 106.46 L62.83 104.59 L62.59 102.71 L64.46 101.30 L68.20 100.60 L71.00 99.43 L74.27 98.96 L76.14 98.02 L77.54 95.68 L78.24 96.61 L80.35 97.08 L81.75 96.14 L84.08 95.21 L86.89 94.74 L90.16 94.03 L92.02 92.86 L93.89 91.45 L96.23 90.05 L98.10 87.23 L100.90 85.83 L102.77 83.48 L105.10 82.07 L105.57 79.26 L107.44 76.92 L109.31 74.10 L111.18 70.82 L113.51 69.41 L115.38 66.60 L116.31 64.25 L116.78 61.44 L113.98 60.03 L111.18 59.33 L113.51 57.69 L116.31 56.75 L115.38 54.40 L116.31 52.76 L113.98 50.65 L111.64 48.31 L110.24 45.96 L108.84 42.21 L105.57 39.86 L103.70 38.46 L104.64 36.58 L106.97 34.71 L109.31 32.36 L111.64 30.95 L114.91 29.08 L118.65 28.61 L119.12 26.73 L116.78 25.79 L113.51 25.33 L110.71 24.39 L107.91 26.26 L105.57 27.67 L102.77 26.73 L102.30 24.39 L99.50 22.51 L96.70 21.10 L96.23 18.76 L98.56 17.82 L102.30 17.82 L104.17 16.41 L106.50 14.54 L110.24 12.66 L112.11 10.32 L114.91 9.85 L117.72 11.26 L116.31 13.13 L114.91 15.95 L113.51 17.82 L112.58 19.70 L114.91 19.23 L117.25 17.82 L120.52 16.41 L123.79 15.48 L127.53 14.54 L128.93 15.95 L131.26 16.41 L132.66 17.82 L131.73 20.17 L130.80 22.04 L132.66 23.45 L136.40 24.86"/><path d="M107.91 93.80 L108.84 96.14 L110.71 98.49 L111.64 96.61 L113.04 94.74 L114.45 91.45 L114.91 89.11 L116.31 86.30 L116.31 84.42 L114.45 83.01 L112.11 84.42 L110.71 86.30 L108.37 90.05 L107.91 93.80 Z"/><path d="M54.19 113.03 L54.65 111.15 L56.99 109.28 L58.86 107.87 L61.66 107.40 L64.00 107.87 L65.40 109.51 L64.00 112.09 L63.06 113.50"/><path d="M51.62 100.60 L49.52 100.37 L47.65 99.66 L45.31 98.49 L45.54 96.61 L44.84 94.27 L42.04 94.03 L40.17 93.33 L38.77 92.39 L36.90 93.80 L35.03 94.74 L32.70 96.14 L30.83 94.74 L28.96 95.68 L27.09 95.68 L25.22 95.68 L24.06 96.61"/><path d="M24.06 96.61 L22.42 96.38 L21.49 98.02 L21.95 101.77 L19.62 100.83 L19.39 100.37"/><path d="M19.39 100.37 L16.82 101.07 L14.95 100.37 L13.78 98.25 L10.74 98.02 L11.68 94.27 L9.34 92.86 L8.88 90.05 L7.94 88.64 L4.67 87.70 L2.80 89.58 L2.34 87.70 L3.27 85.36 L3.74 83.01 L5.61 81.61 L7.94 79.26 L7.94 75.04 L7.01 72.23 L5.61 71.29 L2.80 68.94 L-0.47 69.41"/><path d="M24.06 96.61 L25.22 98.96 L27.56 99.90 L26.63 102.24 L28.96 104.12 L31.30 104.59 L34.57 105.99 L35.50 107.87 L32.70 109.75 L35.03 112.09 L36.90 113.50"/><path d="M19.39 100.37 L16.82 104.12 L14.48 105.99 L16.35 107.40 L16.82 110.21 L19.62 110.21 L19.15 113.50"/><path d="M14.48 105.99 L11.68 107.40 L8.88 108.81 L5.61 109.28 L3.74 111.62 L2.80 114.44"/><path d="M-0.93 1.17 L0.93 0.94 L4.67 1.88 L11.68 1.88 L17.75 1.64 L22.42 2.34 L26.63 4.22 L31.30 5.16 L35.03 5.39 L37.37 6.57 L42.04 4.69 L46.71 3.28 L51.38 2.58 L56.06 2.58 L60.73 1.88 L63.53 0.47 L64.93 -0.94"/><path d="M127.53 14.54 L130.33 11.72 L133.60 9.85 L136.40 7.50"/><path d="M130.33 23.92 L134.07 23.92 L136.40 24.39"/></g><g stroke="#e5e5e5" stroke-width="0.7"><path d="M7.94 72.69 L7.47 69.41 L9.34 66.13 L10.28 64.72 L11.21 68.47 L14.48 70.35 L15.88 72.69 L18.22 72.23 L19.62 76.45 L22.42 79.26 L26.16 77.85 L28.03 75.04 L30.36 72.23 L33.63 71.29 L35.03 72.23"/><path d="M35.03 72.23 L33.63 75.51 L35.50 77.38 L34.57 79.73 L35.03 82.54 L35.50 85.36"/><path d="M38.77 92.39 L40.17 88.64 L37.37 86.76 L35.50 85.36 L38.30 84.89 L42.04 85.36 L44.84 83.48 L48.11 82.54 L51.38 81.61 L54.19 82.54 L57.46 80.67 L58.86 79.73"/><path d="M58.86 79.73 L57.46 77.38 L58.39 74.10 L56.99 72.23 L57.92 68.94 L56.99 66.13 L54.19 67.54 L52.79 65.19 L50.45 64.72 L46.71 65.66 L43.91 68.00 L41.11 69.88 L38.30 69.41 L35.03 72.23"/><path d="M38.30 69.41 L39.71 64.25 L40.64 61.44 L42.04 59.56 L44.84 59.09 L47.65 55.34 L51.38 52.53 L54.19 51.12 L57.46 53.47"/><path d="M57.46 53.47 L61.19 54.40 L58.39 58.16 L56.99 60.97 L55.12 63.78 L56.99 66.13"/><path d="M58.39 62.85 L63.06 61.44 L66.80 60.97 L71.00 62.85 L74.74 63.31 L78.48 64.72 L79.41 66.13"/><path d="M58.86 79.73 L60.73 78.32 L64.46 79.73 L66.33 82.07 L68.20 84.42 L71.94 85.36 L74.74 83.01 L78.01 83.01 L80.35 81.61"/><path d="M80.35 81.61 L79.41 78.32 L78.48 75.04 L79.41 72.69 L77.54 70.35 L78.94 67.54 L79.41 66.13"/><path d="M68.20 84.42 L67.73 87.23 L70.07 89.58 L67.73 92.39 L66.33 95.21 L64.00 97.08 L62.13 98.96 L60.26 100.83"/><path d="M80.35 81.61 L83.15 83.48 L85.48 85.83 L88.75 85.36 L91.09 86.30 L92.49 88.17 L94.36 91.45"/><path d="M91.09 86.30 L90.16 83.01 L90.62 79.73 L92.96 76.92 L95.76 73.63 L99.03 70.82 L100.43 68.94"/><path d="M100.43 68.94 L102.77 70.82 L105.57 72.23 L109.31 74.10"/><path d="M100.43 68.94 L99.03 66.13 L98.10 64.72 L95.29 63.31 L92.02 62.85 L89.22 61.91"/><path d="M79.41 66.13 L83.15 64.25 L86.42 61.91 L89.22 61.91"/><path d="M98.10 64.72 L101.83 61.44 L104.17 58.62 L105.57 55.81 L109.77 56.28 L112.11 56.28 L113.51 57.69"/><path d="M111.64 56.28 L112.58 53.47 L115.38 54.40"/><path d="M104.17 58.62 L103.70 54.87 L101.83 53.47 L100.43 50.65 L102.77 49.24 L100.90 46.90 L98.10 45.49 L97.16 42.21 L91.56 39.86"/><path d="M89.22 61.91 L87.82 59.09 L88.29 56.28 L85.48 54.40 L83.62 52.06 L86.42 49.71 L87.35 46.90 L86.89 44.09 L88.75 41.27 L91.56 39.86"/><path d="M63.53 47.84 L66.80 46.90 L69.60 48.78 L72.87 49.71 L77.08 52.53 L80.35 52.53 L83.62 52.06"/><path d="M54.19 51.12 L57.46 48.78 L61.66 48.78 L63.53 47.84"/><path d="M54.19 51.12 L49.05 48.78 L44.38 48.31 L39.71 48.31 L42.04 45.96 L44.38 43.62 L44.38 40.80 L46.71 38.46 L49.05 37.05 L53.72 36.11 L54.65 31.42 L51.38 30.02 L49.05 27.67 L49.52 23.92"/><path d="M39.71 48.31 L34.57 46.90 L31.30 44.09 L27.09 41.27 L23.36 42.21 L21.95 45.96 L17.75 48.31 L13.08 47.37 L9.34 46.90 L7.94 51.59 L8.88 56.28 L9.34 60.97 L10.28 64.72"/><path d="M27.09 41.27 L25.69 38.46 L28.03 35.17 L26.63 32.83 L25.22 30.48 L28.03 28.14 L24.76 24.39 L19.62 22.51 L11.68 19.23 L7.01 16.41 L0.00 17.82"/><path d="M0.93 0.94 L6.07 7.03 L12.15 10.32 L14.48 14.07 L18.22 16.88 L22.42 18.29 L26.16 17.82 L29.43 16.88 L32.70 18.29 L30.83 22.51 L33.63 25.33"/><path d="M33.63 25.33 L35.50 26.26 L38.77 28.14 L39.71 31.42 L42.04 34.24 L44.38 36.11 L46.25 33.77 L46.25 31.89 L48.11 29.08 L49.52 23.92 L46.25 21.10 L45.78 18.29 L43.91 17.35 L42.04 19.70 L40.17 22.51 L37.37 24.86 L33.63 25.33"/><path d="M49.52 23.92 L53.72 25.33 L58.39 22.04 L62.59 18.76 L65.86 15.95 L63.53 20.17 L62.59 25.79 L63.06 30.48 L62.59 34.71 L61.66 37.99 L63.53 39.40"/><path d="M63.53 39.40 L65.40 43.15 L65.40 45.02 L63.53 47.84"/><path d="M63.53 39.40 L67.73 37.99 L72.40 36.58 L77.08 35.17 L79.88 32.83"/><path d="M79.88 32.83 L78.01 29.08 L78.94 24.86 L79.88 21.10 L81.75 16.41 L79.41 14.07 L80.81 11.26 L77.54 11.72 L74.74 12.19 L71.00 12.19 L67.27 13.13 L65.86 15.95"/><path d="M79.88 32.83 L82.21 32.36 L85.48 32.83 L86.89 35.64 L88.75 39.40 L91.56 39.86"/><path d="M91.56 39.86 L94.83 38.93 L98.10 39.40 L100.90 37.52 L103.70 38.46"/><path d="M85.48 32.83 L88.29 28.61 L91.09 25.79 L94.83 23.92 L96.70 21.10"/><path d="M80.81 11.26 L79.41 7.97 L85.95 5.63 L88.75 4.22 L92.96 3.75 L95.29 2.34 L98.10 1.88 L99.50 4.22 L103.70 6.10 L106.50 10.32 L105.10 13.13 L104.17 16.41"/><path d="M103.70 6.10 L107.44 5.16 L111.18 3.28 L115.38 2.34 L119.12 0.94 L121.45 -0.47"/><path d="M136.40 7.50 L132.66 4.22 L129.86 1.88 L127.53 -0.47"/><path d="M86.42 15.95 L88.75 13.13 L90.62 9.85 L95.29 11.26 L94.36 13.60 L92.96 15.95 L89.69 16.41 L86.42 15.95"/><path d="M94.36 13.60 L97.16 15.48 L96.23 18.76 L96.70 21.10 L93.43 20.17 L92.96 15.95"/></g></g>
<g transform="translate(-339.30 -26.40)"><mask id="m2" maskUnits="userSpaceOnUse" x="0" y="0" width="522" height="550"><rect width="522" height="550" fill="#fff"/><rect width="522" height="550" fill="#000" filter="url(#spk1)"/></mask><g mask="url(#m2)"><ellipse cx="354.37" cy="37.72" rx="0.26" ry="0.26" fill="#0b070b"/><ellipse cx="388.24" cy="62.21" rx="0.33" ry="0.33" fill="#0b070b"/><ellipse cx="403.48" cy="70.94" rx="0.39" ry="0.39" fill="#0b070b"/><ellipse cx="398.92" cy="76.15" rx="0.33" ry="0.33" fill="#0b070b"/><ellipse cx="406.09" cy="79.41" rx="0.33" ry="0.33" fill="#0b070b"/><ellipse cx="422.63" cy="94.38" rx="0.33" ry="0.33" fill="#0b070b"/><ellipse cx="408.30" cy="117.17" rx="0.39" ry="0.39" fill="#0b070b"/><polyline points="368.00,114.34 372.14,114.90" fill="none" stroke="#0b070b" stroke-width="0.83" stroke-linecap="round"/><polygon points="364.40,113.92 367.66,114.31 370.92,115.22 370.26,115.87 367.01,115.22 364.40,114.57" fill="#0b070b" stroke="#0b070b" stroke-width="0.8" stroke-linejoin="round"/><ellipse cx="367.66" cy="98.93" rx="0.26" ry="0.26" fill="#0b070b"/><ellipse cx="370.92" cy="98.67" rx="0.39" ry="0.39" fill="#0b070b"/><polygon points="393.71,95.03 396.32,92.42 400.23,91.12 404.13,90.47 407.00,89.82 407.00,96.33 403.48,96.98 400.23,96.59 398.27,98.28 396.32,100.89 394.36,102.84 393.71,100.24" fill="#0b070b" stroke="#0b070b" stroke-width="0.8" stroke-linejoin="round"/><polygon points="395.00,91.92 397.61,91.26 400.86,90.61 404.12,89.31 406.72,88.01 409.33,86.70 411.93,87.36 414.54,88.66 412.59,90.61 409.33,91.92 406.72,92.57 404.12,94.52 401.51,95.82 398.91,95.43 396.30,94.52 395.00,94.13" fill="#0b070b" stroke="#0b070b" stroke-width="0.8" stroke-linejoin="round"/><ellipse cx="404.12" cy="71.07" rx="0.39" ry="0.39" fill="#0b070b"/><ellipse cx="403.60" cy="70.16" rx="0.26" ry="0.26" fill="#0b070b"/><ellipse cx="398.91" cy="76.28" rx="0.26" ry="0.26" fill="#0b070b"/><ellipse cx="406.07" cy="105.59" rx="0.39" ry="0.39" fill="#0b070b"/><ellipse cx="406.72" cy="109.50" rx="0.26" ry="0.26" fill="#0b070b"/><ellipse cx="423.01" cy="94.52" rx="0.26" ry="0.26" fill="#0b070b"/><polygon points="446.85,64.69 448.15,64.69 447.50,65.99" fill="#0b070b" stroke="#0b070b" stroke-width="0.8" stroke-linejoin="round"/></g><polygon points="372.14,113.24 374.21,112.21 376.97,112.55 379.72,110.83 382.48,109.45 385.24,107.38 388.00,105.31 390.76,104.62 392.83,105.31 392.14,107.03 390.07,108.41 391.79,110.83 392.14,112.55 390.07,113.24 388.00,112.90 385.93,114.28 383.86,116.00 381.79,117.03 379.03,118.07 376.28,118.76 374.21,118.07 372.83,116.00" fill="#2fc42f" stroke="#2fc42f" stroke-width="0.5" stroke-linejoin="round"/><polygon points="373.52,115.66 376.28,114.62 379.72,113.93 383.17,113.24 385.24,112.21 386.62,110.83 387.66,109.45 388.69,108.07 389.03,109.45 388.00,111.17 386.62,113.24 384.55,115.31 381.79,117.03 379.72,118.07 378.34,119.79 378.69,122.21 376.97,122.90 375.24,121.86 374.90,119.45 373.86,117.38" fill="#0b070c" stroke="#0b070c" stroke-width="0.8" stroke-linejoin="round"/><polygon points="387.52,104.83 388.69,105.10 388.55,106.48 387.66,106.34" fill="#0b070c" stroke="#0b070c" stroke-width="0.8" stroke-linejoin="round"/><polygon points="381.45,120.14 383.86,119.79 386.97,121.17 388.34,122.90 386.62,123.93 383.86,123.24 381.79,121.86" fill="#2fc42f" stroke="#2fc42f" stroke-width="0.5" stroke-linejoin="round"/><ellipse cx="390.21" cy="119.10" rx="1.66" ry="1.72" fill="#2fc42f"/><ellipse cx="379.03" cy="124.97" rx="2.07" ry="1.03" fill="#2fc42f"/><ellipse cx="404.13" cy="124.99" rx="1.30" ry="1.30" fill="#2fc42f"/><ellipse cx="360.49" cy="112.61" rx="0.78" ry="0.52" fill="#2fc42f"/><polygon points="392.41,93.72 394.36,92.68 396.32,93.72 395.67,96.07 393.06,96.33" fill="#2fc42f" stroke="#2fc42f" stroke-width="0.5" stroke-linejoin="round"/><polygon points="395.02,98.28 398.27,97.37 398.92,100.24 396.97,102.84 395.02,103.49" fill="#2fc42f" stroke="#2fc42f" stroke-width="0.5" stroke-linejoin="round"/><polygon points="404.13,87.21 407.00,86.56 407.00,89.56 404.79,89.82" fill="#2fc42f" stroke="#2fc42f" stroke-width="0.5" stroke-linejoin="round"/><polygon points="404.77,88.01 406.07,86.05 408.68,85.79 409.07,88.01 406.72,89.70" fill="#2fc42f" stroke="#2fc42f" stroke-width="0.5" stroke-linejoin="round"/><polygon points="395.00,95.17 396.95,96.48 397.61,99.08 396.30,102.34 395.00,102.99" fill="#2fc42f" stroke="#2fc42f" stroke-width="0.5" stroke-linejoin="round"/><polygon points="400.21,90.61 402.56,90.22 402.82,92.31 400.47,92.57" fill="#2fc42f" stroke="#2fc42f" stroke-width="0.5" stroke-linejoin="round"/><ellipse cx="398.26" cy="114.06" rx="0.39" ry="0.39" fill="#2fc42f"/><ellipse cx="421.70" cy="83.84" rx="0.52" ry="0.52" fill="#2fc42f"/><ellipse cx="442.16" cy="70.42" rx="3.13" ry="2.21" fill="#2fc42f"/><polygon points="432.00,74.85 434.34,73.03 437.47,73.29 438.77,75.37 436.69,77.46 433.30,76.93" fill="#2fc42f" stroke="#2fc42f" stroke-width="0.5" stroke-linejoin="round"/><ellipse cx="430.17" cy="78.89" rx="0.78" ry="0.78" fill="#2fc42f"/></g>
</g>
<text x="17.70" y="93.70" font-size="4.2" text-anchor="middle">YN</text>
<text x="42.70" y="77.60" font-size="4.2" text-anchor="middle">GZ</text>
<text x="57.70" y="93.80" font-size="4.2" text-anchor="middle">GX</text>
<text x="70.40" y="56.00" font-size="4.2" text-anchor="middle">HuB</text>
<text x="95.50" y="56.90" font-size="4.2" text-anchor="middle">AH</text>
<text x="107.30" y="53.60" font-size="4.2" text-anchor="middle">JS</text>
<text x="5.60" y="8.80" font-size="5.9">(c)</text>
<rect x="0" y="0" width="135.70" height="112.70" fill="none" stroke="#8a8a8a" stroke-width="0.9"/>
<text x="-1.4" y="6.39" font-size="4.7" text-anchor="end">42°N</text>
<text x="-1.4" y="20.46" font-size="4.7" text-anchor="end">39°N</text>
<text x="-1.4" y="34.53" font-size="4.7" text-anchor="end">36°N</text>
<text x="-1.4" y="48.60" font-size="4.7" text-anchor="end">33°N</text>
<text x="-1.4" y="62.67" font-size="4.7" text-anchor="end">30°N</text>
<text x="-1.4" y="76.74" font-size="4.7" text-anchor="end">27°N</text>
<text x="-1.4" y="90.81" font-size="4.7" text-anchor="end">24°N</text>
<text x="-1.4" y="104.88" font-size="4.7" text-anchor="end">21°N</text>
<text x="14.01" y="118.00" font-size="4.7" text-anchor="middle">100°E</text>
<text x="37.37" y="118.00" font-size="4.7" text-anchor="middle">105°E</text>
<text x="60.73" y="118.00" font-size="4.7" text-anchor="middle">110°E</text>
<text x="84.08" y="118.00" font-size="4.7" text-anchor="middle">115°E</text>
<text x="107.44" y="118.00" font-size="4.7" text-anchor="middle">120°E</text>
<text x="130.80" y="118.00" font-size="4.7" text-anchor="middle">125°E</text>
<text x="67.85" y="-2.0" font-size="5.8" text-anchor="middle">2020-08-24 17:00</text>

</g>
<g transform="translate(28.50 156.30)">
<g clip-path="url(#cp)">
<g fill="none" stroke-linejoin="round"><g stroke="#d0d0d0" stroke-width="0.9"><path d="M40.17 112.56 L41.57 109.75 L43.91 106.93 L45.78 104.59 L48.11 103.18 L50.45 101.30 L51.62 100.60 L53.72 100.13 L55.59 100.37 L56.99 101.07 L58.86 100.37 L60.26 101.30 L59.56 103.65 L60.26 105.99 L61.66 106.70 L63.06 106.46 L62.83 104.59 L62.59 102.71 L64.46 101.30 L68.20 100.60 L71.00 99.43 L74.27 98.96 L76.14 98.02 L77.54 95.68 L78.24 96.61 L80.35 97.08 L81.75 96.14 L84.08 95.21 L86.89 94.74 L90.16 94.03 L92.02 92.86 L93.89 91.45 L96.23 90.05 L98.10 87.23 L100.90 85.83 L102.77 83.48 L105.10 82.07 L105.57 79.26 L107.44 76.92 L109.31 74.10 L111.18 70.82 L113.51 69.41 L115.38 66.60 L116.31 64.25 L116.78 61.44 L113.98 60.03 L111.18 59.33 L113.51 57.69 L116.31 56.75 L115.38 54.40 L116.31 52.76 L113.98 50.65 L111.64 48.31 L110.24 45.96 L108.84 42.21 L105.57 39.86 L103.70 38.46 L104.64 36.58 L106.97 34.71 L109.31 32.36 L111.64 30.95 L114.91 29.08 L118.65 28.61 L119.12 26.73 L116.78 25.79 L113.51 25.33 L110.71 24.39 L107.91 26.26 L105.57 27.67 L102.77 26.73 L102.30 24.39 L99.50 22.51 L96.70 21.10 L96.23 18.76 L98.56 17.82 L102.30 17.82 L104.17 16.41 L106.50 14.54 L110.24 12.66 L112.11 10.32 L114.91 9.85 L117.72 11.26 L116.31 13.13 L114.91 15.95 L113.51 17.82 L112.58 19.70 L114.91 19.23 L117.25 17.82 L120.52 16.41 L123.79 15.48 L127.53 14.54 L128.93 15.95 L131.26 16.41 L132.66 17.82 L131.73 20.17 L130.80 22.04 L132.66 23.45 L136.40 24.86"/><path d="M107.91 93.80 L108.84 96.14 L110.71 98.49 L111.64 96.61 L113.04 94.74 L114.45 91.45 L114.91 89.11 L116.31 86.30 L116.31 84.42 L114.45 83.01 L112.11 84.42 L110.71 86.30 L108.37 90.05 L107.91 93.80 Z"/><path d="M54.19 113.03 L54.65 111.15 L56.99 109.28 L58.86 107.87 L61.66 107.40 L64.00 107.87 L65.40 109.51 L64.00 112.09 L63.06 113.50"/><path d="M51.62 100.60 L49.52 100.37 L47.65 99.66 L45.31 98.49 L45.54 96.61 L44.84 94.27 L42.04 94.03 L40.17 93.33 L38.77 92.39 L36.90 93.80 L35.03 94.74 L32.70 96.14 L30.83 94.74 L28.96 95.68 L27.09 95.68 L25.22 95.68 L24.06 96.61"/><path d="M24.06 96.61 L22.42 96.38 L21.49 98.02 L21.95 101.77 L19.62 100.83 L19.39 100.37"/><path d="M19.39 100.37 L16.82 101.07 L14.95 100.37 L13.78 98.25 L10.74 98.02 L11.68 94.27 L9.34 92.86 L8.88 90.05 L7.94 88.64 L4.67 87.70 L2.80 89.58 L2.34 87.70 L3.27 85.36 L3.74 83.01 L5.61 81.61 L7.94 79.26 L7.94 75.04 L7.01 72.23 L5.61 71.29 L2.80 68.94 L-0.47 69.41"/><path d="M24.06 96.61 L25.22 98.96 L27.56 99.90 L26.63 102.24 L28.96 104.12 L31.30 104.59 L34.57 105.99 L35.50 107.87 L32.70 109.75 L35.03 112.09 L36.90 113.50"/><path d="M19.39 100.37 L16.82 104.12 L14.48 105.99 L16.35 107.40 L16.82 110.21 L19.62 110.21 L19.15 113.50"/><path d="M14.48 105.99 L11.68 107.40 L8.88 108.81 L5.61 109.28 L3.74 111.62 L2.80 114.44"/><path d="M-0.93 1.17 L0.93 0.94 L4.67 1.88 L11.68 1.88 L17.75 1.64 L22.42 2.34 L26.63 4.22 L31.30 5.16 L35.03 5.39 L37.37 6.57 L42.04 4.69 L46.71 3.28 L51.38 2.58 L56.06 2.58 L60.73 1.88 L63.53 0.47 L64.93 -0.94"/><path d="M127.53 14.54 L130.33 11.72 L133.60 9.85 L136.40 7.50"/><path d="M130.33 23.92 L134.07 23.92 L136.40 24.39"/></g><g stroke="#e5e5e5" stroke-width="0.7"><path d="M7.94 72.69 L7.47 69.41 L9.34 66.13 L10.28 64.72 L11.21 68.47 L14.48 70.35 L15.88 72.69 L18.22 72.23 L19.62 76.45 L22.42 79.26 L26.16 77.85 L28.03 75.04 L30.36 72.23 L33.63 71.29 L35.03 72.23"/><path d="M35.03 72.23 L33.63 75.51 L35.50 77.38 L34.57 79.73 L35.03 82.54 L35.50 85.36"/><path d="M38.77 92.39 L40.17 88.64 L37.37 86.76 L35.50 85.36 L38.30 84.89 L42.04 85.36 L44.84 83.48 L48.11 82.54 L51.38 81.61 L54.19 82.54 L57.46 80.67 L58.86 79.73"/><path d="M58.86 79.73 L57.46 77.38 L58.39 74.10 L56.99 72.23 L57.92 68.94 L56.99 66.13 L54.19 67.54 L52.79 65.19 L50.45 64.72 L46.71 65.66 L43.91 68.00 L41.11 69.88 L38.30 69.41 L35.03 72.23"/><path d="M38.30 69.41 L39.71 64.25 L40.64 61.44 L42.04 59.56 L44.84 59.09 L47.65 55.34 L51.38 52.53 L54.19 51.12 L57.46 53.47"/><path d="M57.46 53.47 L61.19 54.40 L58.39 58.16 L56.99 60.97 L55.12 63.78 L56.99 66.13"/><path d="M58.39 62.85 L63.06 61.44 L66.80 60.97 L71.00 62.85 L74.74 63.31 L78.48 64.72 L79.41 66.13"/><path d="M58.86 79.73 L60.73 78.32 L64.46 79.73 L66.33 82.07 L68.20 84.42 L71.94 85.36 L74.74 83.01 L78.01 83.01 L80.35 81.61"/><path d="M80.35 81.61 L79.41 78.32 L78.48 75.04 L79.41 72.69 L77.54 70.35 L78.94 67.54 L79.41 66.13"/><path d="M68.20 84.42 L67.73 87.23 L70.07 89.58 L67.73 92.39 L66.33 95.21 L64.00 97.08 L62.13 98.96 L60.26 100.83"/><path d="M80.35 81.61 L83.15 83.48 L85.48 85.83 L88.75 85.36 L91.09 86.30 L92.49 88.17 L94.36 91.45"/><path d="M91.09 86.30 L90.16 83.01 L90.62 79.73 L92.96 76.92 L95.76 73.63 L99.03 70.82 L100.43 68.94"/><path d="M100.43 68.94 L102.77 70.82 L105.57 72.23 L109.31 74.10"/><path d="M100.43 68.94 L99.03 66.13 L98.10 64.72 L95.29 63.31 L92.02 62.85 L89.22 61.91"/><path d="M79.41 66.13 L83.15 64.25 L86.42 61.91 L89.22 61.91"/><path d="M98.10 64.72 L101.83 61.44 L104.17 58.62 L105.57 55.81 L109.77 56.28 L112.11 56.28 L113.51 57.69"/><path d="M111.64 56.28 L112.58 53.47 L115.38 54.40"/><path d="M104.17 58.62 L103.70 54.87 L101.83 53.47 L100.43 50.65 L102.77 49.24 L100.90 46.90 L98.10 45.49 L97.16 42.21 L91.56 39.86"/><path d="M89.22 61.91 L87.82 59.09 L88.29 56.28 L85.48 54.40 L83.62 52.06 L86.42 49.71 L87.35 46.90 L86.89 44.09 L88.75 41.27 L91.56 39.86"/><path d="M63.53 47.84 L66.80 46.90 L69.60 48.78 L72.87 49.71 L77.08 52.53 L80.35 52.53 L83.62 52.06"/><path d="M54.19 51.12 L57.46 48.78 L61.66 48.78 L63.53 47.84"/><path d="M54.19 51.12 L49.05 48.78 L44.38 48.31 L39.71 48.31 L42.04 45.96 L44.38 43.62 L44.38 40.80 L46.71 38.46 L49.05 37.05 L53.72 36.11 L54.65 31.42 L51.38 30.02 L49.05 27.67 L49.52 23.92"/><path d="M39.71 48.31 L34.57 46.90 L31.30 44.09 L27.09 41.27 L23.36 42.21 L21.95 45.96 L17.75 48.31 L13.08 47.37 L9.34 46.90 L7.94 51.59 L8.88 56.28 L9.34 60.97 L10.28 64.72"/><path d="M27.09 41.27 L25.69 38.46 L28.03 35.17 L26.63 32.83 L25.22 30.48 L28.03 28.14 L24.76 24.39 L19.62 22.51 L11.68 19.23 L7.01 16.41 L0.00 17.82"/><path d="M0.93 0.94 L6.07 7.03 L12.15 10.32 L14.48 14.07 L18.22 16.88 L22.42 18.29 L26.16 17.82 L29.43 16.88 L32.70 18.29 L30.83 22.51 L33.63 25.33"/><path d="M33.63 25.33 L35.50 26.26 L38.77 28.14 L39.71 31.42 L42.04 34.24 L44.38 36.11 L46.25 33.77 L46.25 31.89 L48.11 29.08 L49.52 23.92 L46.25 21.10 L45.78 18.29 L43.91 17.35 L42.04 19.70 L40.17 22.51 L37.37 24.86 L33.63 25.33"/><path d="M49.52 23.92 L53.72 25.33 L58.39 22.04 L62.59 18.76 L65.86 15.95 L63.53 20.17 L62.59 25.79 L63.06 30.48 L62.59 34.71 L61.66 37.99 L63.53 39.40"/><path d="M63.53 39.40 L65.40 43.15 L65.40 45.02 L63.53 47.84"/><path d="M63.53 39.40 L67.73 37.99 L72.40 36.58 L77.08 35.17 L79.88 32.83"/><path d="M79.88 32.83 L78.01 29.08 L78.94 24.86 L79.88 21.10 L81.75 16.41 L79.41 14.07 L80.81 11.26 L77.54 11.72 L74.74 12.19 L71.00 12.19 L67.27 13.13 L65.86 15.95"/><path d="M79.88 32.83 L82.21 32.36 L85.48 32.83 L86.89 35.64 L88.75 39.40 L91.56 39.86"/><path d="M91.56 39.86 L94.83 38.93 L98.10 39.40 L100.90 37.52 L103.70 38.46"/><path d="M85.48 32.83 L88.29 28.61 L91.09 25.79 L94.83 23.92 L96.70 21.10"/><path d="M80.81 11.26 L79.41 7.97 L85.95 5.63 L88.75 4.22 L92.96 3.75 L95.29 2.34 L98.10 1.88 L99.50 4.22 L103.70 6.10 L106.50 10.32 L105.10 13.13 L104.17 16.41"/><path d="M103.70 6.10 L107.44 5.16 L111.18 3.28 L115.38 2.34 L119.12 0.94 L121.45 -0.47"/><path d="M136.40 7.50 L132.66 4.22 L129.86 1.88 L127.53 -0.47"/><path d="M86.42 15.95 L88.75 13.13 L90.62 9.85 L95.29 11.26 L94.36 13.60 L92.96 15.95 L89.69 16.41 L86.42 15.95"/><path d="M94.36 13.60 L97.16 15.48 L96.23 18.76 L96.70 21.10 L93.43 20.17 L92.96 15.95"/></g></g>
<g transform="translate(-28.50 -156.30)"><mask id="m3" maskUnits="userSpaceOnUse" x="0" y="0" width="522" height="550"><rect width="522" height="550" fill="#fff"/><rect width="522" height="550" fill="#000" filter="url(#spk1)"/></mask><g mask="url(#m3)"><polygon points="61.87,244.31 65.13,243.01 68.38,241.70 71.64,239.75 74.25,237.15 77.50,235.19 80.11,234.54 81.15,235.84 79.46,238.45 76.85,240.40 74.25,242.36 72.29,244.31 69.69,246.26 67.73,248.22 67.08,250.82 65.78,251.48 64.48,248.87 62.52,246.92" fill="#0b070b" stroke="#0b070b" stroke-width="0.8" stroke-linejoin="round"/><ellipse cx="73.85" cy="251.74" rx="2.61" ry="1.56" fill="#0b070b"/><ellipse cx="67.34" cy="255.38" rx="1.82" ry="1.17" fill="#0b070b"/><ellipse cx="54.70" cy="242.62" rx="0.52" ry="0.52" fill="#0b070b"/><ellipse cx="58.61" cy="243.92" rx="0.39" ry="0.39" fill="#0b070b"/><ellipse cx="49.49" cy="254.08" rx="0.26" ry="0.26" fill="#0b070b"/><ellipse cx="79.46" cy="243.01" rx="0.52" ry="0.52" fill="#0b070b"/><ellipse cx="65.78" cy="228.03" rx="0.26" ry="0.26" fill="#0b070b"/><ellipse cx="76.85" cy="230.63" rx="0.26" ry="0.26" fill="#0b070b"/><polygon points="81.72,226.26 83.68,223.01 86.28,221.70 89.54,220.40 92.80,219.10 95.40,216.49 97.36,214.54 99.96,216.49 101.26,219.10 99.31,221.05 96.05,221.70 93.45,222.36 90.84,224.31 88.24,226.92 86.28,229.52 83.68,229.52" fill="#0b070b" stroke="#0b070b" stroke-width="0.8" stroke-linejoin="round"/><ellipse cx="90.84" cy="214.15" rx="0.33" ry="0.33" fill="#0b070b"/><ellipse cx="92.80" cy="214.54" rx="0.26" ry="0.26" fill="#0b070b"/><ellipse cx="101.92" cy="215.84" rx="0.39" ry="0.39" fill="#0b070b"/><ellipse cx="104.52" cy="211.67" rx="0.26" ry="0.26" fill="#0b070b"/><ellipse cx="101.26" cy="225.61" rx="0.39" ry="0.39" fill="#0b070b"/><ellipse cx="98.01" cy="226.26" rx="0.26" ry="0.26" fill="#0b070b"/><ellipse cx="94.10" cy="228.22" rx="0.26" ry="0.26" fill="#0b070b"/><ellipse cx="105.17" cy="229.52" rx="0.39" ry="0.39" fill="#0b070b"/><ellipse cx="94.75" cy="234.08" rx="0.39" ry="0.39" fill="#0b070b"/><ellipse cx="96.70" cy="235.38" rx="0.26" ry="0.26" fill="#0b070b"/><ellipse cx="96.05" cy="237.99" rx="0.26" ry="0.26" fill="#0b070b"/><ellipse cx="118.20" cy="224.31" rx="0.39" ry="0.39" fill="#0b070b"/><ellipse cx="120.15" cy="223.92" rx="0.26" ry="0.26" fill="#0b070b"/><ellipse cx="87.59" cy="244.50" rx="0.26" ry="0.26" fill="#0b070b"/><ellipse cx="103.22" cy="214.54" rx="0.26" ry="0.26" fill="#0b070b"/><polygon points="124.71,203.86 127.32,203.21 128.88,204.38 127.32,205.68" fill="#0b070b" stroke="#0b070b" stroke-width="0.8" stroke-linejoin="round"/><polygon points="132.27,200.21 133.83,198.26 135.13,197.87 134.48,200.21 133.18,201.51" fill="#0b070b" stroke="#0b070b" stroke-width="0.8" stroke-linejoin="round"/></g><polygon points="61.61,243.92 64.48,243.01 65.13,246.26 62.91,247.31" fill="#2fc42f" stroke="#2fc42f" stroke-width="0.5" stroke-linejoin="round"/><polygon points="70.99,238.19 73.59,236.89 75.16,238.45 72.94,240.40" fill="#2fc42f" stroke="#2fc42f" stroke-width="0.5" stroke-linejoin="round"/><polygon points="76.85,235.84 79.07,235.32 79.46,237.41 77.50,237.93" fill="#2fc42f" stroke="#2fc42f" stroke-width="0.5" stroke-linejoin="round"/><ellipse cx="71.77" cy="250.95" rx="0.91" ry="1.04" fill="#2fc42f"/><ellipse cx="66.43" cy="256.03" rx="0.65" ry="0.52" fill="#2fc42f"/><ellipse cx="47.54" cy="242.36" rx="1.04" ry="0.52" fill="#2fc42f"/><ellipse cx="94.44" cy="254.08" rx="1.04" ry="0.65" fill="#2fc42f"/><polygon points="94.75,218.45 96.70,217.15 98.66,219.10 97.36,221.05 95.40,220.79" fill="#2fc42f" stroke="#2fc42f" stroke-width="0.5" stroke-linejoin="round"/><polygon points="84.33,221.44 86.93,221.05 87.59,223.01 84.98,223.40" fill="#2fc42f" stroke="#2fc42f" stroke-width="0.5" stroke-linejoin="round"/><polygon points="81.72,226.26 83.68,225.61 84.59,228.87 83.29,231.48 81.98,230.17" fill="#2fc42f" stroke="#2fc42f" stroke-width="0.5" stroke-linejoin="round"/><polygon points="122.11,204.77 124.06,203.47 127.32,203.47 127.97,205.42 125.36,206.46 122.76,206.07" fill="#2fc42f" stroke="#2fc42f" stroke-width="0.5" stroke-linejoin="round"/><polygon points="129.27,200.86 131.23,199.56 133.18,199.95 132.27,202.16 129.92,202.16" fill="#2fc42f" stroke="#2fc42f" stroke-width="0.5" stroke-linejoin="round"/><ellipse cx="120.80" cy="208.03" rx="0.78" ry="0.91" fill="#2fc42f"/></g>
</g>
<text x="17.70" y="93.70" font-size="4.2" text-anchor="middle">YN</text>
<text x="43.50" y="78.10" font-size="4.2" text-anchor="middle">GZ</text>
<text x="58.10" y="94.40" font-size="4.2" text-anchor="middle">GX</text>
<text x="70.40" y="56.00" font-size="4.2" text-anchor="middle">HuB</text>
<text x="95.70" y="57.30" font-size="4.2" text-anchor="middle">AH</text>
<text x="107.50" y="53.30" font-size="4.2" text-anchor="middle">JS</text>
<text x="7.20" y="10.20" font-size="5.9">(d)</text>
<rect x="0" y="0" width="135.70" height="112.70" fill="none" stroke="#8a8a8a" stroke-width="0.9"/>
<text x="-1.4" y="6.39" font-size="4.7" text-anchor="end">42°N</text>
<text x="-1.4" y="20.46" font-size="4.7" text-anchor="end">39°N</text>
<text x="-1.4" y="34.53" font-size="4.7" text-anchor="end">36°N</text>
<text x="-1.4" y="48.60" font-size="4.7" text-anchor="end">33°N</text>
<text x="-1.4" y="62.67" font-size="4.7" text-anchor="end">30°N</text>
<text x="-1.4" y="76.74" font-size="4.7" text-anchor="end">27°N</text>
<text x="-1.4" y="90.81" font-size="4.7" text-anchor="end">24°N</text>
<text x="-1.4" y="104.88" font-size="4.7" text-anchor="end">21°N</text>
<text x="14.01" y="118.00" font-size="4.7" text-anchor="middle">100°E</text>
<text x="37.37" y="118.00" font-size="4.7" text-anchor="middle">105°E</text>
<text x="60.73" y="118.00" font-size="4.7" text-anchor="middle">110°E</text>
<text x="84.08" y="118.00" font-size="4.7" text-anchor="middle">115°E</text>
<text x="107.44" y="118.00" font-size="4.7" text-anchor="middle">120°E</text>
<text x="130.80" y="118.00" font-size="4.7" text-anchor="middle">125°E</text>
<text x="67.85" y="-2.0" font-size="5.8" text-anchor="middle">2020-08-24 15:00</text>

</g>
<g transform="translate(183.50 156.30)">
<g clip-path="url(#cp)">
<g fill="none" stroke-linejoin="round"><g stroke="#d0d0d0" stroke-width="0.9"><path d="M40.17 112.56 L41.57 109.75 L43.91 106.93 L45.78 104.59 L48.11 103.18 L50.45 101.30 L51.62 100.60 L53.72 100.13 L55.59 100.37 L56.99 101.07 L58.86 100.37 L60.26 101.30 L59.56 103.65 L60.26 105.99 L61.66 106.70 L63.06 106.46 L62.83 104.59 L62.59 102.71 L64.46 101.30 L68.20 100.60 L71.00 99.43 L74.27 98.96 L76.14 98.02 L77.54 95.68 L78.24 96.61 L80.35 97.08 L81.75 96.14 L84.08 95.21 L86.89 94.74 L90.16 94.03 L92.02 92.86 L93.89 91.45 L96.23 90.05 L98.10 87.23 L100.90 85.83 L102.77 83.48 L105.10 82.07 L105.57 79.26 L107.44 76.92 L109.31 74.10 L111.18 70.82 L113.51 69.41 L115.38 66.60 L116.31 64.25 L116.78 61.44 L113.98 60.03 L111.18 59.33 L113.51 57.69 L116.31 56.75 L115.38 54.40 L116.31 52.76 L113.98 50.65 L111.64 48.31 L110.24 45.96 L108.84 42.21 L105.57 39.86 L103.70 38.46 L104.64 36.58 L106.97 34.71 L109.31 32.36 L111.64 30.95 L114.91 29.08 L118.65 28.61 L119.12 26.73 L116.78 25.79 L113.51 25.33 L110.71 24.39 L107.91 26.26 L105.57 27.67 L102.77 26.73 L102.30 24.39 L99.50 22.51 L96.70 21.10 L96.23 18.76 L98.56 17.82 L102.30 17.82 L104.17 16.41 L106.50 14.54 L110.24 12.66 L112.11 10.32 L114.91 9.85 L117.72 11.26 L116.31 13.13 L114.91 15.95 L113.51 17.82 L112.58 19.70 L114.91 19.23 L117.25 17.82 L120.52 16.41 L123.79 15.48 L127.53 14.54 L128.93 15.95 L131.26 16.41 L132.66 17.82 L131.73 20.17 L130.80 22.04 L132.66 23.45 L136.40 24.86"/><path d="M107.91 93.80 L108.84 96.14 L110.71 98.49 L111.64 96.61 L113.04 94.74 L114.45 91.45 L114.91 89.11 L116.31 86.30 L116.31 84.42 L114.45 83.01 L112.11 84.42 L110.71 86.30 L108.37 90.05 L107.91 93.80 Z"/><path d="M54.19 113.03 L54.65 111.15 L56.99 109.28 L58.86 107.87 L61.66 107.40 L64.00 107.87 L65.40 109.51 L64.00 112.09 L63.06 113.50"/><path d="M51.62 100.60 L49.52 100.37 L47.65 99.66 L45.31 98.49 L45.54 96.61 L44.84 94.27 L42.04 94.03 L40.17 93.33 L38.77 92.39 L36.90 93.80 L35.03 94.74 L32.70 96.14 L30.83 94.74 L28.96 95.68 L27.09 95.68 L25.22 95.68 L24.06 96.61"/><path d="M24.06 96.61 L22.42 96.38 L21.49 98.02 L21.95 101.77 L19.62 100.83 L19.39 100.37"/><path d="M19.39 100.37 L16.82 101.07 L14.95 100.37 L13.78 98.25 L10.74 98.02 L11.68 94.27 L9.34 92.86 L8.88 90.05 L7.94 88.64 L4.67 87.70 L2.80 89.58 L2.34 87.70 L3.27 85.36 L3.74 83.01 L5.61 81.61 L7.94 79.26 L7.94 75.04 L7.01 72.23 L5.61 71.29 L2.80 68.94 L-0.47 69.41"/><path d="M24.06 96.61 L25.22 98.96 L27.56 99.90 L26.63 102.24 L28.96 104.12 L31.30 104.59 L34.57 105.99 L35.50 107.87 L32.70 109.75 L35.03 112.09 L36.90 113.50"/><path d="M19.39 100.37 L16.82 104.12 L14.48 105.99 L16.35 107.40 L16.82 110.21 L19.62 110.21 L19.15 113.50"/><path d="M14.48 105.99 L11.68 107.40 L8.88 108.81 L5.61 109.28 L3.74 111.62 L2.80 114.44"/><path d="M-0.93 1.17 L0.93 0.94 L4.67 1.88 L11.68 1.88 L17.75 1.64 L22.42 2.34 L26.63 4.22 L31.30 5.16 L35.03 5.39 L37.37 6.57 L42.04 4.69 L46.71 3.28 L51.38 2.58 L56.06 2.58 L60.73 1.88 L63.53 0.47 L64.93 -0.94"/><path d="M127.53 14.54 L130.33 11.72 L133.60 9.85 L136.40 7.50"/><path d="M130.33 23.92 L134.07 23.92 L136.40 24.39"/></g><g stroke="#e5e5e5" stroke-width="0.7"><path d="M7.94 72.69 L7.47 69.41 L9.34 66.13 L10.28 64.72 L11.21 68.47 L14.48 70.35 L15.88 72.69 L18.22 72.23 L19.62 76.45 L22.42 79.26 L26.16 77.85 L28.03 75.04 L30.36 72.23 L33.63 71.29 L35.03 72.23"/><path d="M35.03 72.23 L33.63 75.51 L35.50 77.38 L34.57 79.73 L35.03 82.54 L35.50 85.36"/><path d="M38.77 92.39 L40.17 88.64 L37.37 86.76 L35.50 85.36 L38.30 84.89 L42.04 85.36 L44.84 83.48 L48.11 82.54 L51.38 81.61 L54.19 82.54 L57.46 80.67 L58.86 79.73"/><path d="M58.86 79.73 L57.46 77.38 L58.39 74.10 L56.99 72.23 L57.92 68.94 L56.99 66.13 L54.19 67.54 L52.79 65.19 L50.45 64.72 L46.71 65.66 L43.91 68.00 L41.11 69.88 L38.30 69.41 L35.03 72.23"/><path d="M38.30 69.41 L39.71 64.25 L40.64 61.44 L42.04 59.56 L44.84 59.09 L47.65 55.34 L51.38 52.53 L54.19 51.12 L57.46 53.47"/><path d="M57.46 53.47 L61.19 54.40 L58.39 58.16 L56.99 60.97 L55.12 63.78 L56.99 66.13"/><path d="M58.39 62.85 L63.06 61.44 L66.80 60.97 L71.00 62.85 L74.74 63.31 L78.48 64.72 L79.41 66.13"/><path d="M58.86 79.73 L60.73 78.32 L64.46 79.73 L66.33 82.07 L68.20 84.42 L71.94 85.36 L74.74 83.01 L78.01 83.01 L80.35 81.61"/><path d="M80.35 81.61 L79.41 78.32 L78.48 75.04 L79.41 72.69 L77.54 70.35 L78.94 67.54 L79.41 66.13"/><path d="M68.20 84.42 L67.73 87.23 L70.07 89.58 L67.73 92.39 L66.33 95.21 L64.00 97.08 L62.13 98.96 L60.26 100.83"/><path d="M80.35 81.61 L83.15 83.48 L85.48 85.83 L88.75 85.36 L91.09 86.30 L92.49 88.17 L94.36 91.45"/><path d="M91.09 86.30 L90.16 83.01 L90.62 79.73 L92.96 76.92 L95.76 73.63 L99.03 70.82 L100.43 68.94"/><path d="M100.43 68.94 L102.77 70.82 L105.57 72.23 L109.31 74.10"/><path d="M100.43 68.94 L99.03 66.13 L98.10 64.72 L95.29 63.31 L92.02 62.85 L89.22 61.91"/><path d="M79.41 66.13 L83.15 64.25 L86.42 61.91 L89.22 61.91"/><path d="M98.10 64.72 L101.83 61.44 L104.17 58.62 L105.57 55.81 L109.77 56.28 L112.11 56.28 L113.51 57.69"/><path d="M111.64 56.28 L112.58 53.47 L115.38 54.40"/><path d="M104.17 58.62 L103.70 54.87 L101.83 53.47 L100.43 50.65 L102.77 49.24 L100.90 46.90 L98.10 45.49 L97.16 42.21 L91.56 39.86"/><path d="M89.22 61.91 L87.82 59.09 L88.29 56.28 L85.48 54.40 L83.62 52.06 L86.42 49.71 L87.35 46.90 L86.89 44.09 L88.75 41.27 L91.56 39.86"/><path d="M63.53 47.84 L66.80 46.90 L69.60 48.78 L72.87 49.71 L77.08 52.53 L80.35 52.53 L83.62 52.06"/><path d="M54.19 51.12 L57.46 48.78 L61.66 48.78 L63.53 47.84"/><path d="M54.19 51.12 L49.05 48.78 L44.38 48.31 L39.71 48.31 L42.04 45.96 L44.38 43.62 L44.38 40.80 L46.71 38.46 L49.05 37.05 L53.72 36.11 L54.65 31.42 L51.38 30.02 L49.05 27.67 L49.52 23.92"/><path d="M39.71 48.31 L34.57 46.90 L31.30 44.09 L27.09 41.27 L23.36 42.21 L21.95 45.96 L17.75 48.31 L13.08 47.37 L9.34 46.90 L7.94 51.59 L8.88 56.28 L9.34 60.97 L10.28 64.72"/><path d="M27.09 41.27 L25.69 38.46 L28.03 35.17 L26.63 32.83 L25.22 30.48 L28.03 28.14 L24.76 24.39 L19.62 22.51 L11.68 19.23 L7.01 16.41 L0.00 17.82"/><path d="M0.93 0.94 L6.07 7.03 L12.15 10.32 L14.48 14.07 L18.22 16.88 L22.42 18.29 L26.16 17.82 L29.43 16.88 L32.70 18.29 L30.83 22.51 L33.63 25.33"/><path d="M33.63 25.33 L35.50 26.26 L38.77 28.14 L39.71 31.42 L42.04 34.24 L44.38 36.11 L46.25 33.77 L46.25 31.89 L48.11 29.08 L49.52 23.92 L46.25 21.10 L45.78 18.29 L43.91 17.35 L42.04 19.70 L40.17 22.51 L37.37 24.86 L33.63 25.33"/><path d="M49.52 23.92 L53.72 25.33 L58.39 22.04 L62.59 18.76 L65.86 15.95 L63.53 20.17 L62.59 25.79 L63.06 30.48 L62.59 34.71 L61.66 37.99 L63.53 39.40"/><path d="M63.53 39.40 L65.40 43.15 L65.40 45.02 L63.53 47.84"/><path d="M63.53 39.40 L67.73 37.99 L72.40 36.58 L77.08 35.17 L79.88 32.83"/><path d="M79.88 32.83 L78.01 29.08 L78.94 24.86 L79.88 21.10 L81.75 16.41 L79.41 14.07 L80.81 11.26 L77.54 11.72 L74.74 12.19 L71.00 12.19 L67.27 13.13 L65.86 15.95"/><path d="M79.88 32.83 L82.21 32.36 L85.48 32.83 L86.89 35.64 L88.75 39.40 L91.56 39.86"/><path d="M91.56 39.86 L94.83 38.93 L98.10 39.40 L100.90 37.52 L103.70 38.46"/><path d="M85.48 32.83 L88.29 28.61 L91.09 25.79 L94.83 23.92 L96.70 21.10"/><path d="M80.81 11.26 L79.41 7.97 L85.95 5.63 L88.75 4.22 L92.96 3.75 L95.29 2.34 L98.10 1.88 L99.50 4.22 L103.70 6.10 L106.50 10.32 L105.10 13.13 L104.17 16.41"/><path d="M103.70 6.10 L107.44 5.16 L111.18 3.28 L115.38 2.34 L119.12 0.94 L121.45 -0.47"/><path d="M136.40 7.50 L132.66 4.22 L129.86 1.88 L127.53 -0.47"/><path d="M86.42 15.95 L88.75 13.13 L90.62 9.85 L95.29 11.26 L94.36 13.60 L92.96 15.95 L89.69 16.41 L86.42 15.95"/><path d="M94.36 13.60 L97.16 15.48 L96.23 18.76 L96.70 21.10 L93.43 20.17 L92.96 15.95"/></g></g>
<g transform="translate(-183.50 -156.30)"><mask id="m4" maskUnits="userSpaceOnUse" x="0" y="0" width="522" height="550"><rect width="522" height="550" fill="#fff"/><rect width="522" height="550" fill="#000" filter="url(#spk1)"/></mask><g mask="url(#m4)"><polygon points="218.17,244.31 220.78,243.01 224.69,241.05 227.94,239.10 231.20,236.49 234.46,234.54 236.67,234.80 235.76,237.15 233.15,239.75 230.55,242.36 227.94,244.96 225.34,247.57 223.38,250.17 221.43,252.13 219.74,251.48 219.21,248.87 218.17,246.92" fill="#0b070b" stroke="#0b070b" stroke-width="0.8" stroke-linejoin="round"/><polygon points="201.24,242.62 203.84,242.62 205.80,243.14 204.49,243.66 201.24,243.40" fill="#0b070b" stroke="#0b070b" stroke-width="0.8" stroke-linejoin="round"/><polygon points="209.05,243.01 212.31,243.40 215.31,244.31 214.92,245.22 211.92,244.70 209.05,243.92" fill="#0b070b" stroke="#0b070b" stroke-width="0.8" stroke-linejoin="round"/><ellipse cx="233.80" cy="244.31" rx="0.26" ry="0.26" fill="#0b070b"/><ellipse cx="238.36" cy="243.66" rx="0.26" ry="0.26" fill="#0b070b"/><ellipse cx="245.53" cy="242.36" rx="0.26" ry="0.26" fill="#0b070b"/><ellipse cx="239.02" cy="246.00" rx="0.26" ry="0.26" fill="#0b070b"/><polygon points="237.71,225.42 240.32,222.82 243.57,221.51 246.83,220.86 249.44,220.21 251.00,219.56 251.00,225.42 248.13,224.77 245.53,226.07 243.57,227.38 241.62,229.33 239.67,231.28 237.71,230.63" fill="#0b070b" stroke="#0b070b" stroke-width="0.8" stroke-linejoin="round"/><polygon points="237.82,223.01 240.42,221.05 243.03,220.40 245.63,219.75 248.24,218.45 250.84,217.15 253.45,216.49 256.05,217.80 256.70,219.75 254.10,221.05 250.84,221.70 248.24,223.01 245.63,224.96 243.03,226.92 240.42,228.22 238.47,227.57" fill="#0b070b" stroke="#0b070b" stroke-width="0.8" stroke-linejoin="round"/><ellipse cx="249.54" cy="223.01" rx="0.52" ry="0.39" fill="#0b070b"/><ellipse cx="252.80" cy="223.40" rx="0.52" ry="0.39" fill="#0b070b"/><ellipse cx="256.05" cy="223.01" rx="0.52" ry="0.39" fill="#0b070b"/><ellipse cx="259.31" cy="222.62" rx="0.39" ry="0.39" fill="#0b070b"/><ellipse cx="261.26" cy="223.66" rx="0.26" ry="0.26" fill="#0b070b"/><ellipse cx="246.93" cy="228.22" rx="0.26" ry="0.26" fill="#0b070b"/><ellipse cx="250.19" cy="234.08" rx="0.39" ry="0.39" fill="#0b070b"/><ellipse cx="243.68" cy="206.07" rx="0.26" ry="0.26" fill="#0b070b"/><ellipse cx="246.93" cy="200.86" rx="0.26" ry="0.26" fill="#0b070b"/><ellipse cx="252.80" cy="237.99" rx="0.26" ry="0.26" fill="#0b070b"/><ellipse cx="237.82" cy="243.20" rx="0.26" ry="0.26" fill="#0b070b"/><ellipse cx="245.63" cy="242.55" rx="0.26" ry="0.26" fill="#0b070b"/><ellipse cx="239.77" cy="244.50" rx="0.26" ry="0.26" fill="#0b070b"/><polygon points="288.80,199.49 290.24,198.22 290.66,196.54 291.50,197.80 293.02,198.64 291.08,199.66 289.82,200.33" fill="#0b070b" stroke="#0b070b" stroke-width="0.8" stroke-linejoin="round"/></g><polygon points="217.52,243.92 220.13,242.62 222.08,242.10 223.38,243.01 220.78,244.70 218.82,246.26 217.91,246.00" fill="#2fc42f" stroke="#2fc42f" stroke-width="0.5" stroke-linejoin="round"/><polygon points="224.69,240.40 227.94,238.45 231.20,235.84 234.46,234.28 236.41,234.54 235.11,235.84 231.85,237.41 228.59,239.75 225.99,241.31" fill="#2fc42f" stroke="#2fc42f" stroke-width="0.5" stroke-linejoin="round"/><polygon points="225.99,251.48 228.59,250.43 231.85,251.74 232.50,253.82 229.90,254.08 227.03,253.04" fill="#2fc42f" stroke="#2fc42f" stroke-width="0.5" stroke-linejoin="round"/><ellipse cx="248.79" cy="254.08" rx="1.30" ry="0.91" fill="#2fc42f"/><polygon points="237.06,224.12 239.02,223.08 240.58,224.77 239.67,227.38 237.45,227.77" fill="#2fc42f" stroke="#2fc42f" stroke-width="0.5" stroke-linejoin="round"/><polygon points="244.23,221.51 246.83,220.47 250.09,219.95 251.00,221.51 248.79,222.16" fill="#2fc42f" stroke="#2fc42f" stroke-width="0.5" stroke-linejoin="round"/><polygon points="237.71,229.98 239.28,229.33 240.32,231.28 239.28,233.24 237.97,232.59" fill="#2fc42f" stroke="#2fc42f" stroke-width="0.5" stroke-linejoin="round"/><polygon points="237.56,223.66 239.77,221.70 242.38,222.36 241.72,225.61 239.77,227.57 238.08,226.92" fill="#2fc42f" stroke="#2fc42f" stroke-width="0.5" stroke-linejoin="round"/><polygon points="248.89,218.45 250.84,217.15 253.19,218.19 252.15,220.40 249.54,220.40" fill="#2fc42f" stroke="#2fc42f" stroke-width="0.5" stroke-linejoin="round"/><polygon points="238.08,229.13 239.77,228.61 240.16,231.48 238.60,232.78" fill="#2fc42f" stroke="#2fc42f" stroke-width="0.5" stroke-linejoin="round"/><ellipse cx="275.49" cy="208.34" rx="0.93" ry="1.18" fill="#2fc42f"/><polygon points="277.17,204.97 278.86,203.70 281.39,203.70 282.65,204.97 281.81,206.65 279.28,206.65 277.59,206.06" fill="#2fc42f" stroke="#2fc42f" stroke-width="0.5" stroke-linejoin="round"/><polygon points="284.08,200.75 285.60,199.32 287.71,199.07 289.14,199.91 288.30,202.02 286.02,202.44 284.34,202.02" fill="#2fc42f" stroke="#2fc42f" stroke-width="0.5" stroke-linejoin="round"/></g>
</g>
<text x="17.70" y="93.70" font-size="4.2" text-anchor="middle">YN</text>
<text x="43.50" y="78.10" font-size="4.2" text-anchor="middle">GZ</text>
<text x="58.10" y="94.40" font-size="4.2" text-anchor="middle">GX</text>
<text x="70.40" y="56.00" font-size="4.2" text-anchor="middle">HuB</text>
<text x="95.70" y="57.30" font-size="4.2" text-anchor="middle">AH</text>
<text x="107.50" y="53.30" font-size="4.2" text-anchor="middle">JS</text>
<text x="7.20" y="10.20" font-size="5.9">(e)</text>
<rect x="0" y="0" width="135.70" height="112.70" fill="none" stroke="#8a8a8a" stroke-width="0.9"/>
<text x="-1.4" y="6.39" font-size="4.7" text-anchor="end">42°N</text>
<text x="-1.4" y="20.46" font-size="4.7" text-anchor="end">39°N</text>
<text x="-1.4" y="34.53" font-size="4.7" text-anchor="end">36°N</text>
<text x="-1.4" y="48.60" font-size="4.7" text-anchor="end">33°N</text>
<text x="-1.4" y="62.67" font-size="4.7" text-anchor="end">30°N</text>
<text x="-1.4" y="76.74" font-size="4.7" text-anchor="end">27°N</text>
<text x="-1.4" y="90.81" font-size="4.7" text-anchor="end">24°N</text>
<text x="-1.4" y="104.88" font-size="4.7" text-anchor="end">21°N</text>
<text x="14.01" y="118.00" font-size="4.7" text-anchor="middle">100°E</text>
<text x="37.37" y="118.00" font-size="4.7" text-anchor="middle">105°E</text>
<text x="60.73" y="118.00" font-size="4.7" text-anchor="middle">110°E</text>
<text x="84.08" y="118.00" font-size="4.7" text-anchor="middle">115°E</text>
<text x="107.44" y="118.00" font-size="4.7" text-anchor="middle">120°E</text>
<text x="130.80" y="118.00" font-size="4.7" text-anchor="middle">125°E</text>
<text x="67.85" y="-2.0" font-size="5.8" text-anchor="middle">2020-08-24 16:00</text>

</g>
<g transform="translate(339.30 156.30)">
<g clip-path="url(#cp)">
<g fill="none" stroke-linejoin="round"><g stroke="#d0d0d0" stroke-width="0.9"><path d="M40.17 112.56 L41.57 109.75 L43.91 106.93 L45.78 104.59 L48.11 103.18 L50.45 101.30 L51.62 100.60 L53.72 100.13 L55.59 100.37 L56.99 101.07 L58.86 100.37 L60.26 101.30 L59.56 103.65 L60.26 105.99 L61.66 106.70 L63.06 106.46 L62.83 104.59 L62.59 102.71 L64.46 101.30 L68.20 100.60 L71.00 99.43 L74.27 98.96 L76.14 98.02 L77.54 95.68 L78.24 96.61 L80.35 97.08 L81.75 96.14 L84.08 95.21 L86.89 94.74 L90.16 94.03 L92.02 92.86 L93.89 91.45 L96.23 90.05 L98.10 87.23 L100.90 85.83 L102.77 83.48 L105.10 82.07 L105.57 79.26 L107.44 76.92 L109.31 74.10 L111.18 70.82 L113.51 69.41 L115.38 66.60 L116.31 64.25 L116.78 61.44 L113.98 60.03 L111.18 59.33 L113.51 57.69 L116.31 56.75 L115.38 54.40 L116.31 52.76 L113.98 50.65 L111.64 48.31 L110.24 45.96 L108.84 42.21 L105.57 39.86 L103.70 38.46 L104.64 36.58 L106.97 34.71 L109.31 32.36 L111.64 30.95 L114.91 29.08 L118.65 28.61 L119.12 26.73 L116.78 25.79 L113.51 25.33 L110.71 24.39 L107.91 26.26 L105.57 27.67 L102.77 26.73 L102.30 24.39 L99.50 22.51 L96.70 21.10 L96.23 18.76 L98.56 17.82 L102.30 17.82 L104.17 16.41 L106.50 14.54 L110.24 12.66 L112.11 10.32 L114.91 9.85 L117.72 11.26 L116.31 13.13 L114.91 15.95 L113.51 17.82 L112.58 19.70 L114.91 19.23 L117.25 17.82 L120.52 16.41 L123.79 15.48 L127.53 14.54 L128.93 15.95 L131.26 16.41 L132.66 17.82 L131.73 20.17 L130.80 22.04 L132.66 23.45 L136.40 24.86"/><path d="M107.91 93.80 L108.84 96.14 L110.71 98.49 L111.64 96.61 L113.04 94.74 L114.45 91.45 L114.91 89.11 L116.31 86.30 L116.31 84.42 L114.45 83.01 L112.11 84.42 L110.71 86.30 L108.37 90.05 L107.91 93.80 Z"/><path d="M54.19 113.03 L54.65 111.15 L56.99 109.28 L58.86 107.87 L61.66 107.40 L64.00 107.87 L65.40 109.51 L64.00 112.09 L63.06 113.50"/><path d="M51.62 100.60 L49.52 100.37 L47.65 99.66 L45.31 98.49 L45.54 96.61 L44.84 94.27 L42.04 94.03 L40.17 93.33 L38.77 92.39 L36.90 93.80 L35.03 94.74 L32.70 96.14 L30.83 94.74 L28.96 95.68 L27.09 95.68 L25.22 95.68 L24.06 96.61"/><path d="M24.06 96.61 L22.42 96.38 L21.49 98.02 L21.95 101.77 L19.62 100.83 L19.39 100.37"/><path d="M19.39 100.37 L16.82 101.07 L14.95 100.37 L13.78 98.25 L10.74 98.02 L11.68 94.27 L9.34 92.86 L8.88 90.05 L7.94 88.64 L4.67 87.70 L2.80 89.58 L2.34 87.70 L3.27 85.36 L3.74 83.01 L5.61 81.61 L7.94 79.26 L7.94 75.04 L7.01 72.23 L5.61 71.29 L2.80 68.94 L-0.47 69.41"/><path d="M24.06 96.61 L25.22 98.96 L27.56 99.90 L26.63 102.24 L28.96 104.12 L31.30 104.59 L34.57 105.99 L35.50 107.87 L32.70 109.75 L35.03 112.09 L36.90 113.50"/><path d="M19.39 100.37 L16.82 104.12 L14.48 105.99 L16.35 107.40 L16.82 110.21 L19.62 110.21 L19.15 113.50"/><path d="M14.48 105.99 L11.68 107.40 L8.88 108.81 L5.61 109.28 L3.74 111.62 L2.80 114.44"/><path d="M-0.93 1.17 L0.93 0.94 L4.67 1.88 L11.68 1.88 L17.75 1.64 L22.42 2.34 L26.63 4.22 L31.30 5.16 L35.03 5.39 L37.37 6.57 L42.04 4.69 L46.71 3.28 L51.38 2.58 L56.06 2.58 L60.73 1.88 L63.53 0.47 L64.93 -0.94"/><path d="M127.53 14.54 L130.33 11.72 L133.60 9.85 L136.40 7.50"/><path d="M130.33 23.92 L134.07 23.92 L136.40 24.39"/></g><g stroke="#e5e5e5" stroke-width="0.7"><path d="M7.94 72.69 L7.47 69.41 L9.34 66.13 L10.28 64.72 L11.21 68.47 L14.48 70.35 L15.88 72.69 L18.22 72.23 L19.62 76.45 L22.42 79.26 L26.16 77.85 L28.03 75.04 L30.36 72.23 L33.63 71.29 L35.03 72.23"/><path d="M35.03 72.23 L33.63 75.51 L35.50 77.38 L34.57 79.73 L35.03 82.54 L35.50 85.36"/><path d="M38.77 92.39 L40.17 88.64 L37.37 86.76 L35.50 85.36 L38.30 84.89 L42.04 85.36 L44.84 83.48 L48.11 82.54 L51.38 81.61 L54.19 82.54 L57.46 80.67 L58.86 79.73"/><path d="M58.86 79.73 L57.46 77.38 L58.39 74.10 L56.99 72.23 L57.92 68.94 L56.99 66.13 L54.19 67.54 L52.79 65.19 L50.45 64.72 L46.71 65.66 L43.91 68.00 L41.11 69.88 L38.30 69.41 L35.03 72.23"/><path d="M38.30 69.41 L39.71 64.25 L40.64 61.44 L42.04 59.56 L44.84 59.09 L47.65 55.34 L51.38 52.53 L54.19 51.12 L57.46 53.47"/><path d="M57.46 53.47 L61.19 54.40 L58.39 58.16 L56.99 60.97 L55.12 63.78 L56.99 66.13"/><path d="M58.39 62.85 L63.06 61.44 L66.80 60.97 L71.00 62.85 L74.74 63.31 L78.48 64.72 L79.41 66.13"/><path d="M58.86 79.73 L60.73 78.32 L64.46 79.73 L66.33 82.07 L68.20 84.42 L71.94 85.36 L74.74 83.01 L78.01 83.01 L80.35 81.61"/><path d="M80.35 81.61 L79.41 78.32 L78.48 75.04 L79.41 72.69 L77.54 70.35 L78.94 67.54 L79.41 66.13"/><path d="M68.20 84.42 L67.73 87.23 L70.07 89.58 L67.73 92.39 L66.33 95.21 L64.00 97.08 L62.13 98.96 L60.26 100.83"/><path d="M80.35 81.61 L83.15 83.48 L85.48 85.83 L88.75 85.36 L91.09 86.30 L92.49 88.17 L94.36 91.45"/><path d="M91.09 86.30 L90.16 83.01 L90.62 79.73 L92.96 76.92 L95.76 73.63 L99.03 70.82 L100.43 68.94"/><path d="M100.43 68.94 L102.77 70.82 L105.57 72.23 L109.31 74.10"/><path d="M100.43 68.94 L99.03 66.13 L98.10 64.72 L95.29 63.31 L92.02 62.85 L89.22 61.91"/><path d="M79.41 66.13 L83.15 64.25 L86.42 61.91 L89.22 61.91"/><path d="M98.10 64.72 L101.83 61.44 L104.17 58.62 L105.57 55.81 L109.77 56.28 L112.11 56.28 L113.51 57.69"/><path d="M111.64 56.28 L112.58 53.47 L115.38 54.40"/><path d="M104.17 58.62 L103.70 54.87 L101.83 53.47 L100.43 50.65 L102.77 49.24 L100.90 46.90 L98.10 45.49 L97.16 42.21 L91.56 39.86"/><path d="M89.22 61.91 L87.82 59.09 L88.29 56.28 L85.48 54.40 L83.62 52.06 L86.42 49.71 L87.35 46.90 L86.89 44.09 L88.75 41.27 L91.56 39.86"/><path d="M63.53 47.84 L66.80 46.90 L69.60 48.78 L72.87 49.71 L77.08 52.53 L80.35 52.53 L83.62 52.06"/><path d="M54.19 51.12 L57.46 48.78 L61.66 48.78 L63.53 47.84"/><path d="M54.19 51.12 L49.05 48.78 L44.38 48.31 L39.71 48.31 L42.04 45.96 L44.38 43.62 L44.38 40.80 L46.71 38.46 L49.05 37.05 L53.72 36.11 L54.65 31.42 L51.38 30.02 L49.05 27.67 L49.52 23.92"/><path d="M39.71 48.31 L34.57 46.90 L31.30 44.09 L27.09 41.27 L23.36 42.21 L21.95 45.96 L17.75 48.31 L13.08 47.37 L9.34 46.90 L7.94 51.59 L8.88 56.28 L9.34 60.97 L10.28 64.72"/><path d="M27.09 41.27 L25.69 38.46 L28.03 35.17 L26.63 32.83 L25.22 30.48 L28.03 28.14 L24.76 24.39 L19.62 22.51 L11.68 19.23 L7.01 16.41 L0.00 17.82"/><path d="M0.93 0.94 L6.07 7.03 L12.15 10.32 L14.48 14.07 L18.22 16.88 L22.42 18.29 L26.16 17.82 L29.43 16.88 L32.70 18.29 L30.83 22.51 L33.63 25.33"/><path d="M33.63 25.33 L35.50 26.26 L38.77 28.14 L39.71 31.42 L42.04 34.24 L44.38 36.11 L46.25 33.77 L46.25 31.89 L48.11 29.08 L49.52 23.92 L46.25 21.10 L45.78 18.29 L43.91 17.35 L42.04 19.70 L40.17 22.51 L37.37 24.86 L33.63 25.33"/><path d="M49.52 23.92 L53.72 25.33 L58.39 22.04 L62.59 18.76 L65.86 15.95 L63.53 20.17 L62.59 25.79 L63.06 30.48 L62.59 34.71 L61.66 37.99 L63.53 39.40"/><path d="M63.53 39.40 L65.40 43.15 L65.40 45.02 L63.53 47.84"/><path d="M63.53 39.40 L67.73 37.99 L72.40 36.58 L77.08 35.17 L79.88 32.83"/><path d="M79.88 32.83 L78.01 29.08 L78.94 24.86 L79.88 21.10 L81.75 16.41 L79.41 14.07 L80.81 11.26 L77.54 11.72 L74.74 12.19 L71.00 12.19 L67.27 13.13 L65.86 15.95"/><path d="M79.88 32.83 L82.21 32.36 L85.48 32.83 L86.89 35.64 L88.75 39.40 L91.56 39.86"/><path d="M91.56 39.86 L94.83 38.93 L98.10 39.40 L100.90 37.52 L103.70 38.46"/><path d="M85.48 32.83 L88.29 28.61 L91.09 25.79 L94.83 23.92 L96.70 21.10"/><path d="M80.81 11.26 L79.41 7.97 L85.95 5.63 L88.75 4.22 L92.96 3.75 L95.29 2.34 L98.10 1.88 L99.50 4.22 L103.70 6.10 L106.50 10.32 L105.10 13.13 L104.17 16.41"/><path d="M103.70 6.10 L107.44 5.16 L111.18 3.28 L115.38 2.34 L119.12 0.94 L121.45 -0.47"/><path d="M136.40 7.50 L132.66 4.22 L129.86 1.88 L127.53 -0.47"/><path d="M86.42 15.95 L88.75 13.13 L90.62 9.85 L95.29 11.26 L94.36 13.60 L92.96 15.95 L89.69 16.41 L86.42 15.95"/><path d="M94.36 13.60 L97.16 15.48 L96.23 18.76 L96.70 21.10 L93.43 20.17 L92.96 15.95"/></g></g>
<g transform="translate(-339.30 -156.30)"><mask id="m5" maskUnits="userSpaceOnUse" x="0" y="0" width="522" height="550"><rect width="522" height="550" fill="#fff"/><rect width="522" height="550" fill="#000" filter="url(#spk1)"/></mask><g mask="url(#m5)"><polygon points="374.33,245.17 376.93,243.87 379.54,242.57 382.80,240.61 386.05,238.01 389.31,236.05 391.92,235.01 393.22,236.05 391.26,238.01 388.66,240.61 386.05,242.57 383.45,244.52 380.84,246.48 378.89,248.43 376.93,249.08 374.98,247.78" fill="#0b070b" stroke="#0b070b" stroke-width="0.8" stroke-linejoin="round"/><polygon points="365.21,243.61 367.82,243.61 371.07,244.13 373.03,244.52 372.38,245.43 369.12,245.17 365.86,244.65" fill="#0b070b" stroke="#0b070b" stroke-width="0.8" stroke-linejoin="round"/><ellipse cx="378.24" cy="255.59" rx="0.26" ry="0.26" fill="#0b070b"/><ellipse cx="360.26" cy="249.08" rx="0.26" ry="0.26" fill="#0b070b"/><ellipse cx="406.25" cy="235.40" rx="0.26" ry="0.26" fill="#0b070b"/><ellipse cx="406.25" cy="239.31" rx="0.26" ry="0.26" fill="#0b070b"/><ellipse cx="407.55" cy="246.48" rx="0.39" ry="0.39" fill="#0b070b"/><ellipse cx="408.20" cy="247.78" rx="0.26" ry="0.26" fill="#0b070b"/><ellipse cx="367.82" cy="228.89" rx="0.20" ry="0.20" fill="#0b070b"/><ellipse cx="370.42" cy="228.24" rx="0.20" ry="0.20" fill="#0b070b"/><ellipse cx="372.38" cy="228.63" rx="0.20" ry="0.20" fill="#0b070b"/><ellipse cx="408.20" cy="215.86" rx="0.26" ry="0.26" fill="#0b070b"/><ellipse cx="412.76" cy="216.51" rx="0.26" ry="0.26" fill="#0b070b"/><ellipse cx="414.06" cy="219.77" rx="0.26" ry="0.26" fill="#0b070b"/><polygon points="393.22,224.98 395.17,222.38 397.78,221.07 400.38,221.07 402.99,220.42 405.59,219.12 408.20,217.82 411.46,217.16 413.41,218.08 412.11,219.77 409.50,221.07 406.90,223.03 404.29,223.68 401.69,224.33 399.73,225.63 397.78,227.59 395.82,228.24 393.87,227.59" fill="#0b070b" stroke="#0b070b" stroke-width="0.8" stroke-linejoin="round"/><polygon points="446.47,194.23 448.16,194.23 447.38,195.79" fill="#0b070b" stroke="#0b070b" stroke-width="0.8" stroke-linejoin="round"/><ellipse cx="446.73" cy="199.31" rx="0.26" ry="0.26" fill="#0b070b"/><ellipse cx="356.00" cy="165.10" rx="0.60" ry="0.60" fill="#0b070b"/><ellipse cx="388.20" cy="192.70" rx="0.50" ry="0.50" fill="#0b070b"/><ellipse cx="403.60" cy="201.30" rx="0.60" ry="0.60" fill="#0b070b"/><ellipse cx="369.80" cy="229.50" rx="0.40" ry="0.40" fill="#0b070b"/></g><polygon points="379.54,241.92 382.80,239.31 386.05,236.70 389.31,235.01 391.92,234.49 391.26,236.05 388.01,238.01 384.75,240.61 381.49,243.22 379.54,244.13" fill="#2fc42f" stroke="#2fc42f" stroke-width="0.5" stroke-linejoin="round"/><polygon points="373.03,243.87 374.98,242.83 377.20,243.61 376.67,245.82 374.07,246.21" fill="#2fc42f" stroke="#2fc42f" stroke-width="0.5" stroke-linejoin="round"/><polygon points="382.15,251.43 384.75,250.38 387.62,251.43 388.01,252.99 385.40,253.25 382.80,252.73" fill="#2fc42f" stroke="#2fc42f" stroke-width="0.5" stroke-linejoin="round"/><ellipse cx="405.59" cy="254.29" rx="1.17" ry="1.17" fill="#2fc42f"/><polygon points="392.57,225.63 394.13,223.03 395.82,221.46 397.78,222.38 397.13,225.63 397.78,228.24 395.17,229.54 393.22,228.24" fill="#2fc42f" stroke="#2fc42f" stroke-width="0.5" stroke-linejoin="round"/><polygon points="404.29,219.77 406.90,218.47 409.50,219.12 408.20,221.72 405.59,222.38" fill="#2fc42f" stroke="#2fc42f" stroke-width="0.5" stroke-linejoin="round"/><ellipse cx="394.13" cy="231.49" rx="0.78" ry="1.17" fill="#2fc42f"/><polygon points="439.83,201.00 442.17,199.70 444.78,200.22 444.13,202.31 441.52,202.83" fill="#2fc42f" stroke="#2fc42f" stroke-width="0.5" stroke-linejoin="round"/><polygon points="433.44,204.91 435.66,203.61 438.52,204.13 438.26,206.21 435.01,206.74" fill="#2fc42f" stroke="#2fc42f" stroke-width="0.5" stroke-linejoin="round"/><ellipse cx="431.36" cy="208.43" rx="0.78" ry="1.17" fill="#2fc42f"/></g>
</g>
<text x="17.70" y="93.70" font-size="4.2" text-anchor="middle">YN</text>
<text x="43.50" y="78.10" font-size="4.2" text-anchor="middle">GZ</text>
<text x="58.10" y="94.40" font-size="4.2" text-anchor="middle">GX</text>
<text x="70.40" y="56.00" font-size="4.2" text-anchor="middle">HuB</text>
<text x="95.70" y="57.30" font-size="4.2" text-anchor="middle">AH</text>
<text x="107.50" y="53.30" font-size="4.2" text-anchor="middle">JS</text>
<text x="7.20" y="10.20" font-size="5.9">(f)</text>
<rect x="0" y="0" width="135.70" height="112.70" fill="none" stroke="#8a8a8a" stroke-width="0.9"/>
<text x="-1.4" y="6.39" font-size="4.7" text-anchor="end">42°N</text>
<text x="-1.4" y="20.46" font-size="4.7" text-anchor="end">39°N</text>
<text x="-1.4" y="34.53" font-size="4.7" text-anchor="end">36°N</text>
<text x="-1.4" y="48.60" font-size="4.7" text-anchor="end">33°N</text>
<text x="-1.4" y="62.67" font-size="4.7" text-anchor="end">30°N</text>
<text x="-1.4" y="76.74" font-size="4.7" text-anchor="end">27°N</text>
<text x="-1.4" y="90.81" font-size="4.7" text-anchor="end">24°N</text>
<text x="-1.4" y="104.88" font-size="4.7" text-anchor="end">21°N</text>
<text x="14.01" y="118.00" font-size="4.7" text-anchor="middle">100°E</text>
<text x="37.37" y="118.00" font-size="4.7" text-anchor="middle">105°E</text>
<text x="60.73" y="118.00" font-size="4.7" text-anchor="middle">110°E</text>
<text x="84.08" y="118.00" font-size="4.7" text-anchor="middle">115°E</text>
<text x="107.44" y="118.00" font-size="4.7" text-anchor="middle">120°E</text>
<text x="130.80" y="118.00" font-size="4.7" text-anchor="middle">125°E</text>
<text x="67.85" y="-2.0" font-size="5.8" text-anchor="middle">2020-08-24 17:00</text>

</g>
<g transform="translate(28.50 289.10)">
<g clip-path="url(#cp)">
<g fill="none" stroke-linejoin="round"><g stroke="#d0d0d0" stroke-width="0.9"><path d="M40.17 112.56 L41.57 109.75 L43.91 106.93 L45.78 104.59 L48.11 103.18 L50.45 101.30 L51.62 100.60 L53.72 100.13 L55.59 100.37 L56.99 101.07 L58.86 100.37 L60.26 101.30 L59.56 103.65 L60.26 105.99 L61.66 106.70 L63.06 106.46 L62.83 104.59 L62.59 102.71 L64.46 101.30 L68.20 100.60 L71.00 99.43 L74.27 98.96 L76.14 98.02 L77.54 95.68 L78.24 96.61 L80.35 97.08 L81.75 96.14 L84.08 95.21 L86.89 94.74 L90.16 94.03 L92.02 92.86 L93.89 91.45 L96.23 90.05 L98.10 87.23 L100.90 85.83 L102.77 83.48 L105.10 82.07 L105.57 79.26 L107.44 76.92 L109.31 74.10 L111.18 70.82 L113.51 69.41 L115.38 66.60 L116.31 64.25 L116.78 61.44 L113.98 60.03 L111.18 59.33 L113.51 57.69 L116.31 56.75 L115.38 54.40 L116.31 52.76 L113.98 50.65 L111.64 48.31 L110.24 45.96 L108.84 42.21 L105.57 39.86 L103.70 38.46 L104.64 36.58 L106.97 34.71 L109.31 32.36 L111.64 30.95 L114.91 29.08 L118.65 28.61 L119.12 26.73 L116.78 25.79 L113.51 25.33 L110.71 24.39 L107.91 26.26 L105.57 27.67 L102.77 26.73 L102.30 24.39 L99.50 22.51 L96.70 21.10 L96.23 18.76 L98.56 17.82 L102.30 17.82 L104.17 16.41 L106.50 14.54 L110.24 12.66 L112.11 10.32 L114.91 9.85 L117.72 11.26 L116.31 13.13 L114.91 15.95 L113.51 17.82 L112.58 19.70 L114.91 19.23 L117.25 17.82 L120.52 16.41 L123.79 15.48 L127.53 14.54 L128.93 15.95 L131.26 16.41 L132.66 17.82 L131.73 20.17 L130.80 22.04 L132.66 23.45 L136.40 24.86"/><path d="M107.91 93.80 L108.84 96.14 L110.71 98.49 L111.64 96.61 L113.04 94.74 L114.45 91.45 L114.91 89.11 L116.31 86.30 L116.31 84.42 L114.45 83.01 L112.11 84.42 L110.71 86.30 L108.37 90.05 L107.91 93.80 Z"/><path d="M54.19 113.03 L54.65 111.15 L56.99 109.28 L58.86 107.87 L61.66 107.40 L64.00 107.87 L65.40 109.51 L64.00 112.09 L63.06 113.50"/><path d="M51.62 100.60 L49.52 100.37 L47.65 99.66 L45.31 98.49 L45.54 96.61 L44.84 94.27 L42.04 94.03 L40.17 93.33 L38.77 92.39 L36.90 93.80 L35.03 94.74 L32.70 96.14 L30.83 94.74 L28.96 95.68 L27.09 95.68 L25.22 95.68 L24.06 96.61"/><path d="M24.06 96.61 L22.42 96.38 L21.49 98.02 L21.95 101.77 L19.62 100.83 L19.39 100.37"/><path d="M19.39 100.37 L16.82 101.07 L14.95 100.37 L13.78 98.25 L10.74 98.02 L11.68 94.27 L9.34 92.86 L8.88 90.05 L7.94 88.64 L4.67 87.70 L2.80 89.58 L2.34 87.70 L3.27 85.36 L3.74 83.01 L5.61 81.61 L7.94 79.26 L7.94 75.04 L7.01 72.23 L5.61 71.29 L2.80 68.94 L-0.47 69.41"/><path d="M24.06 96.61 L25.22 98.96 L27.56 99.90 L26.63 102.24 L28.96 104.12 L31.30 104.59 L34.57 105.99 L35.50 107.87 L32.70 109.75 L35.03 112.09 L36.90 113.50"/><path d="M19.39 100.37 L16.82 104.12 L14.48 105.99 L16.35 107.40 L16.82 110.21 L19.62 110.21 L19.15 113.50"/><path d="M14.48 105.99 L11.68 107.40 L8.88 108.81 L5.61 109.28 L3.74 111.62 L2.80 114.44"/><path d="M-0.93 1.17 L0.93 0.94 L4.67 1.88 L11.68 1.88 L17.75 1.64 L22.42 2.34 L26.63 4.22 L31.30 5.16 L35.03 5.39 L37.37 6.57 L42.04 4.69 L46.71 3.28 L51.38 2.58 L56.06 2.58 L60.73 1.88 L63.53 0.47 L64.93 -0.94"/><path d="M127.53 14.54 L130.33 11.72 L133.60 9.85 L136.40 7.50"/><path d="M130.33 23.92 L134.07 23.92 L136.40 24.39"/></g><g stroke="#e5e5e5" stroke-width="0.7"><path d="M7.94 72.69 L7.47 69.41 L9.34 66.13 L10.28 64.72 L11.21 68.47 L14.48 70.35 L15.88 72.69 L18.22 72.23 L19.62 76.45 L22.42 79.26 L26.16 77.85 L28.03 75.04 L30.36 72.23 L33.63 71.29 L35.03 72.23"/><path d="M35.03 72.23 L33.63 75.51 L35.50 77.38 L34.57 79.73 L35.03 82.54 L35.50 85.36"/><path d="M38.77 92.39 L40.17 88.64 L37.37 86.76 L35.50 85.36 L38.30 84.89 L42.04 85.36 L44.84 83.48 L48.11 82.54 L51.38 81.61 L54.19 82.54 L57.46 80.67 L58.86 79.73"/><path d="M58.86 79.73 L57.46 77.38 L58.39 74.10 L56.99 72.23 L57.92 68.94 L56.99 66.13 L54.19 67.54 L52.79 65.19 L50.45 64.72 L46.71 65.66 L43.91 68.00 L41.11 69.88 L38.30 69.41 L35.03 72.23"/><path d="M38.30 69.41 L39.71 64.25 L40.64 61.44 L42.04 59.56 L44.84 59.09 L47.65 55.34 L51.38 52.53 L54.19 51.12 L57.46 53.47"/><path d="M57.46 53.47 L61.19 54.40 L58.39 58.16 L56.99 60.97 L55.12 63.78 L56.99 66.13"/><path d="M58.39 62.85 L63.06 61.44 L66.80 60.97 L71.00 62.85 L74.74 63.31 L78.48 64.72 L79.41 66.13"/><path d="M58.86 79.73 L60.73 78.32 L64.46 79.73 L66.33 82.07 L68.20 84.42 L71.94 85.36 L74.74 83.01 L78.01 83.01 L80.35 81.61"/><path d="M80.35 81.61 L79.41 78.32 L78.48 75.04 L79.41 72.69 L77.54 70.35 L78.94 67.54 L79.41 66.13"/><path d="M68.20 84.42 L67.73 87.23 L70.07 89.58 L67.73 92.39 L66.33 95.21 L64.00 97.08 L62.13 98.96 L60.26 100.83"/><path d="M80.35 81.61 L83.15 83.48 L85.48 85.83 L88.75 85.36 L91.09 86.30 L92.49 88.17 L94.36 91.45"/><path d="M91.09 86.30 L90.16 83.01 L90.62 79.73 L92.96 76.92 L95.76 73.63 L99.03 70.82 L100.43 68.94"/><path d="M100.43 68.94 L102.77 70.82 L105.57 72.23 L109.31 74.10"/><path d="M100.43 68.94 L99.03 66.13 L98.10 64.72 L95.29 63.31 L92.02 62.85 L89.22 61.91"/><path d="M79.41 66.13 L83.15 64.25 L86.42 61.91 L89.22 61.91"/><path d="M98.10 64.72 L101.83 61.44 L104.17 58.62 L105.57 55.81 L109.77 56.28 L112.11 56.28 L113.51 57.69"/><path d="M111.64 56.28 L112.58 53.47 L115.38 54.40"/><path d="M104.17 58.62 L103.70 54.87 L101.83 53.47 L100.43 50.65 L102.77 49.24 L100.90 46.90 L98.10 45.49 L97.16 42.21 L91.56 39.86"/><path d="M89.22 61.91 L87.82 59.09 L88.29 56.28 L85.48 54.40 L83.62 52.06 L86.42 49.71 L87.35 46.90 L86.89 44.09 L88.75 41.27 L91.56 39.86"/><path d="M63.53 47.84 L66.80 46.90 L69.60 48.78 L72.87 49.71 L77.08 52.53 L80.35 52.53 L83.62 52.06"/><path d="M54.19 51.12 L57.46 48.78 L61.66 48.78 L63.53 47.84"/><path d="M54.19 51.12 L49.05 48.78 L44.38 48.31 L39.71 48.31 L42.04 45.96 L44.38 43.62 L44.38 40.80 L46.71 38.46 L49.05 37.05 L53.72 36.11 L54.65 31.42 L51.38 30.02 L49.05 27.67 L49.52 23.92"/><path d="M39.71 48.31 L34.57 46.90 L31.30 44.09 L27.09 41.27 L23.36 42.21 L21.95 45.96 L17.75 48.31 L13.08 47.37 L9.34 46.90 L7.94 51.59 L8.88 56.28 L9.34 60.97 L10.28 64.72"/><path d="M27.09 41.27 L25.69 38.46 L28.03 35.17 L26.63 32.83 L25.22 30.48 L28.03 28.14 L24.76 24.39 L19.62 22.51 L11.68 19.23 L7.01 16.41 L0.00 17.82"/><path d="M0.93 0.94 L6.07 7.03 L12.15 10.32 L14.48 14.07 L18.22 16.88 L22.42 18.29 L26.16 17.82 L29.43 16.88 L32.70 18.29 L30.83 22.51 L33.63 25.33"/><path d="M33.63 25.33 L35.50 26.26 L38.77 28.14 L39.71 31.42 L42.04 34.24 L44.38 36.11 L46.25 33.77 L46.25 31.89 L48.11 29.08 L49.52 23.92 L46.25 21.10 L45.78 18.29 L43.91 17.35 L42.04 19.70 L40.17 22.51 L37.37 24.86 L33.63 25.33"/><path d="M49.52 23.92 L53.72 25.33 L58.39 22.04 L62.59 18.76 L65.86 15.95 L63.53 20.17 L62.59 25.79 L63.06 30.48 L62.59 34.71 L61.66 37.99 L63.53 39.40"/><path d="M63.53 39.40 L65.40 43.15 L65.40 45.02 L63.53 47.84"/><path d="M63.53 39.40 L67.73 37.99 L72.40 36.58 L77.08 35.17 L79.88 32.83"/><path d="M79.88 32.83 L78.01 29.08 L78.94 24.86 L79.88 21.10 L81.75 16.41 L79.41 14.07 L80.81 11.26 L77.54 11.72 L74.74 12.19 L71.00 12.19 L67.27 13.13 L65.86 15.95"/><path d="M79.88 32.83 L82.21 32.36 L85.48 32.83 L86.89 35.64 L88.75 39.40 L91.56 39.86"/><path d="M91.56 39.86 L94.83 38.93 L98.10 39.40 L100.90 37.52 L103.70 38.46"/><path d="M85.48 32.83 L88.29 28.61 L91.09 25.79 L94.83 23.92 L96.70 21.10"/><path d="M80.81 11.26 L79.41 7.97 L85.95 5.63 L88.75 4.22 L92.96 3.75 L95.29 2.34 L98.10 1.88 L99.50 4.22 L103.70 6.10 L106.50 10.32 L105.10 13.13 L104.17 16.41"/><path d="M103.70 6.10 L107.44 5.16 L111.18 3.28 L115.38 2.34 L119.12 0.94 L121.45 -0.47"/><path d="M136.40 7.50 L132.66 4.22 L129.86 1.88 L127.53 -0.47"/><path d="M86.42 15.95 L88.75 13.13 L90.62 9.85 L95.29 11.26 L94.36 13.60 L92.96 15.95 L89.69 16.41 L86.42 15.95"/><path d="M94.36 13.60 L97.16 15.48 L96.23 18.76 L96.70 21.10 L93.43 20.17 L92.96 15.95"/></g></g>
<g transform="translate(-28.50 -289.10)"><mask id="m6" maskUnits="userSpaceOnUse" x="0" y="0" width="522" height="550"><rect width="522" height="550" fill="#fff"/><rect width="522" height="550" fill="#000" filter="url(#spk2)"/></mask><g mask="url(#m6)"><polygon points="37.12,363.24 39.72,362.59 42.33,364.54 44.93,365.84 48.84,366.49 54.05,367.80 59.26,369.75 64.48,371.05 69.69,372.36 74.90,371.05 79.46,369.10 82.71,367.15 85.32,365.84 87.27,366.49 86.62,369.10 84.02,371.05 81.41,373.66 77.50,376.26 73.59,378.22 69.69,379.52 65.78,379.13 61.87,377.57 57.96,376.92 54.05,376.26 50.15,375.61 46.24,376.00 42.33,376.26 39.07,376.26 37.38,374.96" fill="#1480f8" stroke="#1480f8" stroke-width="0.3" stroke-linejoin="round"/><polygon points="37.77,364.54 41.03,365.19 43.63,366.49 47.54,367.80 52.75,369.75 57.96,371.70 63.17,373.01 68.38,374.31 73.59,373.66 78.80,371.05 82.71,368.45 85.32,367.15 84.02,369.75 80.11,372.36 74.90,375.22 69.69,376.26 64.48,374.96 59.26,373.66 54.05,372.62 48.84,371.70 43.63,371.05 38.42,371.05" fill="#34f0d0" stroke="#34f0d0" stroke-width="0.3" stroke-linejoin="round"/><polygon points="37.77,366.49 41.03,367.15 44.28,369.10 42.33,371.70 38.42,371.70" fill="#ccf438" stroke="#ccf438" stroke-width="0.3" stroke-linejoin="round"/><polygon points="47.54,369.10 50.80,369.75 50.15,371.31 47.54,370.79" fill="#ccf438" stroke="#ccf438" stroke-width="0.3" stroke-linejoin="round"/><polygon points="67.08,373.92 70.99,374.44 70.34,375.74 67.08,375.22" fill="#ccf438" stroke="#ccf438" stroke-width="0.3" stroke-linejoin="round"/><polygon points="38.42,373.01 43.63,372.36 48.84,373.66 54.05,374.31 59.26,374.96 64.48,376.26 69.69,377.57 74.90,376.26 79.46,373.66 82.71,371.05 84.02,372.36 80.11,375.61 74.90,378.61 69.69,379.91 65.13,379.13 60.57,377.83 55.36,376.92 50.15,376.26 44.93,376.52 39.72,376.52" fill="#0000cc" stroke="#0000cc" stroke-width="0.3" stroke-linejoin="round"/><ellipse cx="77.24" cy="373.14" rx="0.78" ry="0.52" fill="#ff8800"/><polygon points="38.42,360.63 42.33,358.68 47.54,357.38 49.49,358.03 46.24,359.98 42.33,361.93 39.07,362.59" fill="#1480f8" stroke="#1480f8" stroke-width="0.3" stroke-linejoin="round"/><polygon points="39.07,360.89 42.33,359.33 44.93,358.81 42.98,360.63 39.72,361.67" fill="#34f0d0" stroke="#34f0d0" stroke-width="0.3" stroke-linejoin="round"/><polygon points="52.10,359.07 56.01,358.55 55.62,359.59 52.49,359.98" fill="#1480f8" stroke="#1480f8" stroke-width="0.3" stroke-linejoin="round"/><polygon points="63.17,361.28 68.38,360.89 68.12,361.93 63.43,362.20" fill="#0000cc" stroke="#0000cc" stroke-width="0.3" stroke-linejoin="round"/><polygon points="71.64,363.89 73.85,363.24 73.59,366.10 71.77,366.49" fill="#0000cc" stroke="#0000cc" stroke-width="0.3" stroke-linejoin="round"/><polygon points="75.55,359.07 78.54,358.55 78.28,359.85 75.68,360.11" fill="#0000cc" stroke="#0000cc" stroke-width="0.3" stroke-linejoin="round"/><polygon points="80.11,354.12 84.02,352.16 89.23,351.51 93.13,348.91 96.00,347.61 96.00,358.03 91.83,359.33 87.92,358.03 84.02,356.07" fill="#34f0d0" stroke="#34f0d0" stroke-width="0.3" stroke-linejoin="round"/><polygon points="86.62,352.82 90.53,351.77 93.13,353.08 90.53,355.42 87.27,355.16" fill="#ccf438" stroke="#ccf438" stroke-width="0.3" stroke-linejoin="round"/><polygon points="87.92,357.38 93.13,357.77 93.79,359.33 88.57,359.33" fill="#0000cc" stroke="#0000cc" stroke-width="0.3" stroke-linejoin="round"/><polygon points="37.77,386.03 40.38,386.03 44.93,387.99 41.03,389.29 38.16,389.03" fill="#34f0d0" stroke="#34f0d0" stroke-width="0.3" stroke-linejoin="round"/><ellipse cx="65.78" cy="384.34" rx="1.30" ry="0.78" fill="#0000cc"/><ellipse cx="37.77" cy="380.17" rx="0.39" ry="0.39" fill="#1480f8"/><polygon points="138.99,305.28 141.59,303.33 145.50,302.03 150.71,302.68 155.27,303.98 157.23,305.28 155.92,307.24 153.32,308.54 150.71,311.80 148.11,313.10 145.50,315.05 142.90,317.01 138.99,319.61 135.08,322.22 131.82,324.43 130.13,323.52 133.13,320.92 137.69,318.31 141.59,315.05 144.20,312.45 143.55,309.84 140.94,307.24" fill="#1480f8" stroke="#1480f8" stroke-width="0.3" stroke-linejoin="round"/><polygon points="142.90,304.63 148.11,303.07 153.32,303.98 154.62,305.93 151.36,308.54 148.11,311.15 144.85,311.80 142.90,308.54" fill="#34f0d0" stroke="#34f0d0" stroke-width="0.3" stroke-linejoin="round"/><polygon points="132.48,322.61 136.38,320.26 140.29,317.92 140.94,318.96 137.03,321.57 133.52,323.65" fill="#34f0d0" stroke="#34f0d0" stroke-width="0.3" stroke-linejoin="round"/><polygon points="145.50,303.98 150.71,303.59 153.32,305.28 150.71,307.89 147.46,309.19 145.50,307.24" fill="#ccf438" stroke="#ccf438" stroke-width="0.3" stroke-linejoin="round"/><polygon points="138.99,304.63 143.94,303.33 144.20,304.37 139.64,305.93" fill="#0000cc" stroke="#0000cc" stroke-width="0.3" stroke-linejoin="round"/><polygon points="153.32,308.54 158.53,307.89 163.09,308.54 161.13,310.10 155.92,310.49" fill="#0000cc" stroke="#0000cc" stroke-width="0.3" stroke-linejoin="round"/><polygon points="130.91,327.82 132.74,327.43 133.13,331.34 131.43,331.34" fill="#0000cc" stroke="#0000cc" stroke-width="0.3" stroke-linejoin="round"/><polyline points="106.16,323.13 113.59,317.01" fill="none" stroke="#0000cc" stroke-width="0.52" stroke-linecap="round"/><ellipse cx="102.25" cy="326.78" rx="0.39" ry="0.39" fill="#0000cc"/><ellipse cx="101.86" cy="334.59" rx="0.39" ry="0.39" fill="#0000cc"/><ellipse cx="118.80" cy="369.75" rx="0.78" ry="1.30" fill="#0000cc"/><ellipse cx="120.10" cy="375.22" rx="1.56" ry="1.17" fill="#34f0d0"/><ellipse cx="119.71" cy="375.48" rx="0.78" ry="0.65" fill="#ccf438"/><ellipse cx="122.05" cy="374.31" rx="0.65" ry="0.52" fill="#0000cc"/><ellipse cx="137.03" cy="385.38" rx="0.65" ry="0.78" fill="#34f0d0"/><polygon points="133.13,389.29 135.73,387.99 137.69,388.64 135.08,389.94" fill="#0000cc" stroke="#0000cc" stroke-width="0.3" stroke-linejoin="round"/><ellipse cx="122.05" cy="393.85" rx="0.65" ry="1.04" fill="#0000cc"/><ellipse cx="134.43" cy="398.41" rx="0.52" ry="0.52" fill="#34f0d0"/><ellipse cx="105.12" cy="350.86" rx="0.78" ry="1.56" fill="#0000cc"/><ellipse cx="96.65" cy="350.21" rx="0.65" ry="0.65" fill="#34f0d0"/><ellipse cx="128.57" cy="369.10" rx="0.39" ry="0.39" fill="#34f0d0"/><polygon points="86.70,350.61 89.96,348.01 92.57,346.70 95.17,348.66 98.43,349.31 97.78,351.92 95.17,354.52 94.52,357.78 91.92,359.08 88.66,359.08 87.36,356.48 86.05,353.87" fill="#1480f8" stroke="#1480f8" stroke-width="0.3" stroke-linejoin="round"/><polygon points="88.01,352.57 91.26,350.61 94.52,351.26 95.17,353.87 92.57,356.48 89.31,356.48" fill="#34f0d0" stroke="#34f0d0" stroke-width="0.3" stroke-linejoin="round"/><ellipse cx="91.26" cy="356.08" rx="1.30" ry="0.91" fill="#ccf438"/><ellipse cx="88.27" cy="358.43" rx="1.04" ry="0.65" fill="#0000cc"/><ellipse cx="91.92" cy="347.36" rx="0.78" ry="0.65" fill="#0000cc"/><polyline points="104.55,349.31 105.33,351.92" fill="none" stroke="#0000cc" stroke-width="0.65" stroke-linecap="round"/><polygon points="80.19,354.13 84.75,353.61 84.49,354.91 80.58,355.17" fill="#34f0d0" stroke="#34f0d0" stroke-width="0.3" stroke-linejoin="round"/><polyline points="73.03,365.59 74.07,361.95" fill="none" stroke="#0000cc" stroke-width="0.78" stroke-linecap="round"/><polyline points="75.63,360.12 78.24,359.08" fill="none" stroke="#0000cc" stroke-width="0.65" stroke-linecap="round"/><polyline points="62.61,362.34 67.82,361.43" fill="none" stroke="#0000cc" stroke-width="0.52" stroke-linecap="round"/><polygon points="81.49,368.20 84.75,366.25 87.36,367.55 86.70,371.46 84.10,372.11 81.89,370.80" fill="#1480f8" stroke="#1480f8" stroke-width="0.3" stroke-linejoin="round"/><ellipse cx="85.40" cy="368.46" rx="0.78" ry="0.78" fill="#34f0d0"/><polyline points="106.25,321.56 110.15,320.00" fill="none" stroke="#0000cc" stroke-width="0.65" stroke-linecap="round"/><ellipse cx="102.34" cy="327.16" rx="0.39" ry="0.39" fill="#0000cc"/><ellipse cx="101.95" cy="334.98" rx="0.39" ry="0.39" fill="#0000cc"/><ellipse cx="119.53" cy="369.50" rx="0.52" ry="0.78" fill="#0000cc"/><ellipse cx="120.57" cy="374.45" rx="1.56" ry="1.04" fill="#34f0d0"/><ellipse cx="57.31" cy="299.42" rx="0.78" ry="1.30" fill="#0000cc"/><ellipse cx="49.49" cy="302.29" rx="1.04" ry="0.52" fill="#1480f8"/><ellipse cx="61.61" cy="312.71" rx="1.04" ry="0.65" fill="#0000cc"/><ellipse cx="54.05" cy="315.70" rx="1.82" ry="1.43" fill="#34f0d0"/><ellipse cx="58.22" cy="316.75" rx="2.87" ry="0.65" fill="#1480f8"/><ellipse cx="54.70" cy="321.83" rx="1.30" ry="0.78" fill="#1480f8"/><ellipse cx="47.54" cy="320.52" rx="1.04" ry="0.39" fill="#0000cc"/><ellipse cx="59.00" cy="303.98" rx="0.39" ry="0.39" fill="#0000cc"/></g></g>
</g>
<text x="16.40" y="96.20" font-size="4.2" text-anchor="middle">YN</text>
<text x="48.40" y="77.20" font-size="4.2" text-anchor="middle">GZ</text>
<text x="56.40" y="92.80" font-size="4.2" text-anchor="middle">GX</text>
<text x="70.60" y="55.80" font-size="4.2" text-anchor="middle">HuB</text>
<text x="94.20" y="55.20" font-size="4.2" text-anchor="middle">AH</text>
<text x="107.40" y="51.30" font-size="4.2" text-anchor="middle">JS</text>
<text x="6.10" y="9.30" font-size="5.9">(g)</text>
<rect x="0" y="0" width="135.70" height="112.70" fill="none" stroke="#8a8a8a" stroke-width="0.9"/>
<text x="-1.4" y="6.39" font-size="4.7" text-anchor="end">42°N</text>
<text x="-1.4" y="20.46" font-size="4.7" text-anchor="end">39°N</text>
<text x="-1.4" y="34.53" font-size="4.7" text-anchor="end">36°N</text>
<text x="-1.4" y="48.60" font-size="4.7" text-anchor="end">33°N</text>
<text x="-1.4" y="62.67" font-size="4.7" text-anchor="end">30°N</text>
<text x="-1.4" y="76.74" font-size="4.7" text-anchor="end">27°N</text>
<text x="-1.4" y="90.81" font-size="4.7" text-anchor="end">24°N</text>
<text x="-1.4" y="104.88" font-size="4.7" text-anchor="end">21°N</text>
<text x="14.01" y="118.00" font-size="4.7" text-anchor="middle">100°E</text>
<text x="37.37" y="118.00" font-size="4.7" text-anchor="middle">105°E</text>
<text x="60.73" y="118.00" font-size="4.7" text-anchor="middle">110°E</text>
<text x="84.08" y="118.00" font-size="4.7" text-anchor="middle">115°E</text>
<text x="107.44" y="118.00" font-size="4.7" text-anchor="middle">120°E</text>
<text x="130.80" y="118.00" font-size="4.7" text-anchor="middle">125°E</text>
<text x="67.85" y="-2.0" font-size="5.8" text-anchor="middle">2020-08-24 15:00</text>

</g>
<g transform="translate(183.50 289.10)">
<g clip-path="url(#cp)">
<g fill="none" stroke-linejoin="round"><g stroke="#d0d0d0" stroke-width="0.9"><path d="M40.17 112.56 L41.57 109.75 L43.91 106.93 L45.78 104.59 L48.11 103.18 L50.45 101.30 L51.62 100.60 L53.72 100.13 L55.59 100.37 L56.99 101.07 L58.86 100.37 L60.26 101.30 L59.56 103.65 L60.26 105.99 L61.66 106.70 L63.06 106.46 L62.83 104.59 L62.59 102.71 L64.46 101.30 L68.20 100.60 L71.00 99.43 L74.27 98.96 L76.14 98.02 L77.54 95.68 L78.24 96.61 L80.35 97.08 L81.75 96.14 L84.08 95.21 L86.89 94.74 L90.16 94.03 L92.02 92.86 L93.89 91.45 L96.23 90.05 L98.10 87.23 L100.90 85.83 L102.77 83.48 L105.10 82.07 L105.57 79.26 L107.44 76.92 L109.31 74.10 L111.18 70.82 L113.51 69.41 L115.38 66.60 L116.31 64.25 L116.78 61.44 L113.98 60.03 L111.18 59.33 L113.51 57.69 L116.31 56.75 L115.38 54.40 L116.31 52.76 L113.98 50.65 L111.64 48.31 L110.24 45.96 L108.84 42.21 L105.57 39.86 L103.70 38.46 L104.64 36.58 L106.97 34.71 L109.31 32.36 L111.64 30.95 L114.91 29.08 L118.65 28.61 L119.12 26.73 L116.78 25.79 L113.51 25.33 L110.71 24.39 L107.91 26.26 L105.57 27.67 L102.77 26.73 L102.30 24.39 L99.50 22.51 L96.70 21.10 L96.23 18.76 L98.56 17.82 L102.30 17.82 L104.17 16.41 L106.50 14.54 L110.24 12.66 L112.11 10.32 L114.91 9.85 L117.72 11.26 L116.31 13.13 L114.91 15.95 L113.51 17.82 L112.58 19.70 L114.91 19.23 L117.25 17.82 L120.52 16.41 L123.79 15.48 L127.53 14.54 L128.93 15.95 L131.26 16.41 L132.66 17.82 L131.73 20.17 L130.80 22.04 L132.66 23.45 L136.40 24.86"/><path d="M107.91 93.80 L108.84 96.14 L110.71 98.49 L111.64 96.61 L113.04 94.74 L114.45 91.45 L114.91 89.11 L116.31 86.30 L116.31 84.42 L114.45 83.01 L112.11 84.42 L110.71 86.30 L108.37 90.05 L107.91 93.80 Z"/><path d="M54.19 113.03 L54.65 111.15 L56.99 109.28 L58.86 107.87 L61.66 107.40 L64.00 107.87 L65.40 109.51 L64.00 112.09 L63.06 113.50"/><path d="M51.62 100.60 L49.52 100.37 L47.65 99.66 L45.31 98.49 L45.54 96.61 L44.84 94.27 L42.04 94.03 L40.17 93.33 L38.77 92.39 L36.90 93.80 L35.03 94.74 L32.70 96.14 L30.83 94.74 L28.96 95.68 L27.09 95.68 L25.22 95.68 L24.06 96.61"/><path d="M24.06 96.61 L22.42 96.38 L21.49 98.02 L21.95 101.77 L19.62 100.83 L19.39 100.37"/><path d="M19.39 100.37 L16.82 101.07 L14.95 100.37 L13.78 98.25 L10.74 98.02 L11.68 94.27 L9.34 92.86 L8.88 90.05 L7.94 88.64 L4.67 87.70 L2.80 89.58 L2.34 87.70 L3.27 85.36 L3.74 83.01 L5.61 81.61 L7.94 79.26 L7.94 75.04 L7.01 72.23 L5.61 71.29 L2.80 68.94 L-0.47 69.41"/><path d="M24.06 96.61 L25.22 98.96 L27.56 99.90 L26.63 102.24 L28.96 104.12 L31.30 104.59 L34.57 105.99 L35.50 107.87 L32.70 109.75 L35.03 112.09 L36.90 113.50"/><path d="M19.39 100.37 L16.82 104.12 L14.48 105.99 L16.35 107.40 L16.82 110.21 L19.62 110.21 L19.15 113.50"/><path d="M14.48 105.99 L11.68 107.40 L8.88 108.81 L5.61 109.28 L3.74 111.62 L2.80 114.44"/><path d="M-0.93 1.17 L0.93 0.94 L4.67 1.88 L11.68 1.88 L17.75 1.64 L22.42 2.34 L26.63 4.22 L31.30 5.16 L35.03 5.39 L37.37 6.57 L42.04 4.69 L46.71 3.28 L51.38 2.58 L56.06 2.58 L60.73 1.88 L63.53 0.47 L64.93 -0.94"/><path d="M127.53 14.54 L130.33 11.72 L133.60 9.85 L136.40 7.50"/><path d="M130.33 23.92 L134.07 23.92 L136.40 24.39"/></g><g stroke="#e5e5e5" stroke-width="0.7"><path d="M7.94 72.69 L7.47 69.41 L9.34 66.13 L10.28 64.72 L11.21 68.47 L14.48 70.35 L15.88 72.69 L18.22 72.23 L19.62 76.45 L22.42 79.26 L26.16 77.85 L28.03 75.04 L30.36 72.23 L33.63 71.29 L35.03 72.23"/><path d="M35.03 72.23 L33.63 75.51 L35.50 77.38 L34.57 79.73 L35.03 82.54 L35.50 85.36"/><path d="M38.77 92.39 L40.17 88.64 L37.37 86.76 L35.50 85.36 L38.30 84.89 L42.04 85.36 L44.84 83.48 L48.11 82.54 L51.38 81.61 L54.19 82.54 L57.46 80.67 L58.86 79.73"/><path d="M58.86 79.73 L57.46 77.38 L58.39 74.10 L56.99 72.23 L57.92 68.94 L56.99 66.13 L54.19 67.54 L52.79 65.19 L50.45 64.72 L46.71 65.66 L43.91 68.00 L41.11 69.88 L38.30 69.41 L35.03 72.23"/><path d="M38.30 69.41 L39.71 64.25 L40.64 61.44 L42.04 59.56 L44.84 59.09 L47.65 55.34 L51.38 52.53 L54.19 51.12 L57.46 53.47"/><path d="M57.46 53.47 L61.19 54.40 L58.39 58.16 L56.99 60.97 L55.12 63.78 L56.99 66.13"/><path d="M58.39 62.85 L63.06 61.44 L66.80 60.97 L71.00 62.85 L74.74 63.31 L78.48 64.72 L79.41 66.13"/><path d="M58.86 79.73 L60.73 78.32 L64.46 79.73 L66.33 82.07 L68.20 84.42 L71.94 85.36 L74.74 83.01 L78.01 83.01 L80.35 81.61"/><path d="M80.35 81.61 L79.41 78.32 L78.48 75.04 L79.41 72.69 L77.54 70.35 L78.94 67.54 L79.41 66.13"/><path d="M68.20 84.42 L67.73 87.23 L70.07 89.58 L67.73 92.39 L66.33 95.21 L64.00 97.08 L62.13 98.96 L60.26 100.83"/><path d="M80.35 81.61 L83.15 83.48 L85.48 85.83 L88.75 85.36 L91.09 86.30 L92.49 88.17 L94.36 91.45"/><path d="M91.09 86.30 L90.16 83.01 L90.62 79.73 L92.96 76.92 L95.76 73.63 L99.03 70.82 L100.43 68.94"/><path d="M100.43 68.94 L102.77 70.82 L105.57 72.23 L109.31 74.10"/><path d="M100.43 68.94 L99.03 66.13 L98.10 64.72 L95.29 63.31 L92.02 62.85 L89.22 61.91"/><path d="M79.41 66.13 L83.15 64.25 L86.42 61.91 L89.22 61.91"/><path d="M98.10 64.72 L101.83 61.44 L104.17 58.62 L105.57 55.81 L109.77 56.28 L112.11 56.28 L113.51 57.69"/><path d="M111.64 56.28 L112.58 53.47 L115.38 54.40"/><path d="M104.17 58.62 L103.70 54.87 L101.83 53.47 L100.43 50.65 L102.77 49.24 L100.90 46.90 L98.10 45.49 L97.16 42.21 L91.56 39.86"/><path d="M89.22 61.91 L87.82 59.09 L88.29 56.28 L85.48 54.40 L83.62 52.06 L86.42 49.71 L87.35 46.90 L86.89 44.09 L88.75 41.27 L91.56 39.86"/><path d="M63.53 47.84 L66.80 46.90 L69.60 48.78 L72.87 49.71 L77.08 52.53 L80.35 52.53 L83.62 52.06"/><path d="M54.19 51.12 L57.46 48.78 L61.66 48.78 L63.53 47.84"/><path d="M54.19 51.12 L49.05 48.78 L44.38 48.31 L39.71 48.31 L42.04 45.96 L44.38 43.62 L44.38 40.80 L46.71 38.46 L49.05 37.05 L53.72 36.11 L54.65 31.42 L51.38 30.02 L49.05 27.67 L49.52 23.92"/><path d="M39.71 48.31 L34.57 46.90 L31.30 44.09 L27.09 41.27 L23.36 42.21 L21.95 45.96 L17.75 48.31 L13.08 47.37 L9.34 46.90 L7.94 51.59 L8.88 56.28 L9.34 60.97 L10.28 64.72"/><path d="M27.09 41.27 L25.69 38.46 L28.03 35.17 L26.63 32.83 L25.22 30.48 L28.03 28.14 L24.76 24.39 L19.62 22.51 L11.68 19.23 L7.01 16.41 L0.00 17.82"/><path d="M0.93 0.94 L6.07 7.03 L12.15 10.32 L14.48 14.07 L18.22 16.88 L22.42 18.29 L26.16 17.82 L29.43 16.88 L32.70 18.29 L30.83 22.51 L33.63 25.33"/><path d="M33.63 25.33 L35.50 26.26 L38.77 28.14 L39.71 31.42 L42.04 34.24 L44.38 36.11 L46.25 33.77 L46.25 31.89 L48.11 29.08 L49.52 23.92 L46.25 21.10 L45.78 18.29 L43.91 17.35 L42.04 19.70 L40.17 22.51 L37.37 24.86 L33.63 25.33"/><path d="M49.52 23.92 L53.72 25.33 L58.39 22.04 L62.59 18.76 L65.86 15.95 L63.53 20.17 L62.59 25.79 L63.06 30.48 L62.59 34.71 L61.66 37.99 L63.53 39.40"/><path d="M63.53 39.40 L65.40 43.15 L65.40 45.02 L63.53 47.84"/><path d="M63.53 39.40 L67.73 37.99 L72.40 36.58 L77.08 35.17 L79.88 32.83"/><path d="M79.88 32.83 L78.01 29.08 L78.94 24.86 L79.88 21.10 L81.75 16.41 L79.41 14.07 L80.81 11.26 L77.54 11.72 L74.74 12.19 L71.00 12.19 L67.27 13.13 L65.86 15.95"/><path d="M79.88 32.83 L82.21 32.36 L85.48 32.83 L86.89 35.64 L88.75 39.40 L91.56 39.86"/><path d="M91.56 39.86 L94.83 38.93 L98.10 39.40 L100.90 37.52 L103.70 38.46"/><path d="M85.48 32.83 L88.29 28.61 L91.09 25.79 L94.83 23.92 L96.70 21.10"/><path d="M80.81 11.26 L79.41 7.97 L85.95 5.63 L88.75 4.22 L92.96 3.75 L95.29 2.34 L98.10 1.88 L99.50 4.22 L103.70 6.10 L106.50 10.32 L105.10 13.13 L104.17 16.41"/><path d="M103.70 6.10 L107.44 5.16 L111.18 3.28 L115.38 2.34 L119.12 0.94 L121.45 -0.47"/><path d="M136.40 7.50 L132.66 4.22 L129.86 1.88 L127.53 -0.47"/><path d="M86.42 15.95 L88.75 13.13 L90.62 9.85 L95.29 11.26 L94.36 13.60 L92.96 15.95 L89.69 16.41 L86.42 15.95"/><path d="M94.36 13.60 L97.16 15.48 L96.23 18.76 L96.70 21.10 L93.43 20.17 L92.96 15.95"/></g></g>
<g transform="translate(-183.50 -289.10)"><mask id="m7" maskUnits="userSpaceOnUse" x="0" y="0" width="522" height="550"><rect width="522" height="550" fill="#fff"/><rect width="522" height="550" fill="#000" filter="url(#spk2)"/></mask><g mask="url(#m7)"><polygon points="192.38,359.33 196.03,357.38 199.93,358.03 203.84,357.38 205.15,358.68 201.24,360.63 197.33,363.24 199.93,365.84 205.15,367.80 210.36,369.75 215.57,371.70 220.78,373.01 225.99,372.36 229.90,371.05 233.80,369.75 237.71,369.10 240.32,370.40 239.02,373.66 235.11,376.26 231.20,378.87 227.29,380.17 223.38,380.43 219.48,379.91 215.57,378.87 211.66,378.22 207.75,377.57 203.84,377.31 199.93,377.57 196.03,378.22 193.42,377.57 192.38,373.66" fill="#1480f8" stroke="#1480f8" stroke-width="0.3" stroke-linejoin="round"/><polygon points="192.77,363.24 196.03,364.54 199.93,366.49 205.15,368.45 210.36,370.40 215.57,372.36 220.78,373.92 225.99,373.66 229.90,372.36 235.11,371.05 239.02,371.70 237.71,373.66 232.50,375.61 227.29,377.31 222.08,377.57 216.87,376.26 211.66,375.22 206.45,374.31 201.24,373.66 196.03,373.01 192.90,372.36" fill="#34f0d0" stroke="#34f0d0" stroke-width="0.3" stroke-linejoin="round"/><polygon points="192.90,364.54 196.03,365.84 199.28,367.80 200.59,370.40 197.33,372.36 193.16,371.70" fill="#ccf438" stroke="#ccf438" stroke-width="0.3" stroke-linejoin="round"/><polygon points="209.05,371.70 212.96,372.62 212.31,373.92 209.05,373.40" fill="#ccf438" stroke="#ccf438" stroke-width="0.3" stroke-linejoin="round"/><polygon points="193.42,373.66 198.63,373.01 203.84,373.66 209.05,374.96 214.26,376.92 219.48,378.87 224.69,379.13 229.90,377.57 235.11,374.96 237.71,374.31 236.41,376.92 231.20,379.52 225.99,380.82 220.78,380.43 215.57,379.52 210.36,378.61 205.15,377.83 199.93,378.22 194.72,377.83" fill="#0000cc" stroke="#0000cc" stroke-width="0.3" stroke-linejoin="round"/><ellipse cx="233.28" cy="373.40" rx="0.78" ry="0.52" fill="#ff8800"/><polyline points="226.64,365.84 228.33,363.89" fill="none" stroke="#0000cc" stroke-width="0.78" stroke-linecap="round"/><ellipse cx="231.85" cy="361.28" rx="0.52" ry="0.52" fill="#0000cc"/><ellipse cx="219.48" cy="385.38" rx="0.52" ry="0.52" fill="#0000cc"/><polygon points="193.68,386.43 196.03,386.03 196.68,389.03 194.07,389.55" fill="#34f0d0" stroke="#34f0d0" stroke-width="0.3" stroke-linejoin="round"/><ellipse cx="194.46" cy="389.03" rx="0.65" ry="0.52" fill="#0000cc"/><ellipse cx="203.84" cy="358.03" rx="0.52" ry="0.52" fill="#1480f8"/><ellipse cx="219.48" cy="359.98" rx="0.39" ry="0.39" fill="#0000cc"/><polygon points="242.61,352.80 245.21,350.84 247.16,351.49 246.51,354.10 243.91,354.75" fill="#1480f8" stroke="#1480f8" stroke-width="0.3" stroke-linejoin="round"/><polygon points="240.00,356.05 243.26,355.40 244.56,358.01 241.95,359.31 240.00,358.92" fill="#34f0d0" stroke="#34f0d0" stroke-width="0.3" stroke-linejoin="round"/><polygon points="243.91,353.45 245.86,352.41 246.51,354.75 244.56,355.40" fill="#0000cc" stroke="#0000cc" stroke-width="0.3" stroke-linejoin="round"/><polygon points="245.21,358.01 247.82,356.70 249.12,359.31 247.16,361.26 245.47,360.61" fill="#1480f8" stroke="#1480f8" stroke-width="0.3" stroke-linejoin="round"/><polygon points="247.82,349.54 250.42,348.89 251.72,350.84 249.12,351.89" fill="#34f0d0" stroke="#34f0d0" stroke-width="0.3" stroke-linejoin="round"/><polygon points="251.07,348.24 254.33,347.98 255.37,350.19 252.38,350.84" fill="#1480f8" stroke="#1480f8" stroke-width="0.3" stroke-linejoin="round"/><polygon points="240.00,361.26 241.95,360.61 242.61,363.87 240.65,364.91 240.00,364.13" fill="#1480f8" stroke="#1480f8" stroke-width="0.3" stroke-linejoin="round"/><polygon points="248.08,354.10 249.77,353.45 250.16,355.79 248.47,356.05" fill="#34f0d0" stroke="#34f0d0" stroke-width="0.3" stroke-linejoin="round"/><ellipse cx="245.86" cy="362.31" rx="0.65" ry="0.91" fill="#0000cc"/><ellipse cx="253.03" cy="349.54" rx="0.78" ry="0.78" fill="#ccf438"/><polygon points="259.28,348.24 261.49,346.67 263.45,345.63 265.40,344.59 266.05,345.37 264.10,346.93 262.80,349.54 260.19,350.19" fill="#0000cc" stroke="#0000cc" stroke-width="0.3" stroke-linejoin="round"/><ellipse cx="286.25" cy="332.34" rx="0.52" ry="0.52" fill="#0000cc"/><ellipse cx="274.52" cy="370.12" rx="0.78" ry="0.65" fill="#0000cc"/><ellipse cx="275.43" cy="375.59" rx="1.04" ry="0.65" fill="#34f0d0"/><ellipse cx="274.65" cy="375.85" rx="0.52" ry="0.39" fill="#1480f8"/><polygon points="291.07,382.11 292.37,381.85 293.41,385.36 291.85,385.75" fill="#1480f8" stroke="#1480f8" stroke-width="0.3" stroke-linejoin="round"/><ellipse cx="262.80" cy="356.70" rx="0.39" ry="0.39" fill="#0000cc"/><polygon points="240.00,367.78 241.04,367.52 241.30,372.99 240.00,373.25" fill="#1480f8" stroke="#1480f8" stroke-width="0.3" stroke-linejoin="round"/><polygon points="298.55,305.93 301.15,305.28 302.46,307.89 310.92,305.28 314.18,306.59 312.23,310.49 308.32,312.45 304.41,315.05 300.50,317.01 296.59,318.31 292.69,320.26 290.08,322.22 287.48,323.52 285.91,322.61 288.78,320.00 292.69,317.66 296.59,315.70 299.85,313.75 299.46,309.84" fill="#1480f8" stroke="#1480f8" stroke-width="0.3" stroke-linejoin="round"/><polygon points="299.20,307.24 302.46,303.98 310.27,304.37 313.53,305.93 311.57,308.54 308.97,311.15 305.71,312.45 301.80,313.10 299.85,311.15" fill="#34f0d0" stroke="#34f0d0" stroke-width="0.3" stroke-linejoin="round"/><polygon points="301.80,304.37 305.71,302.68 309.62,303.59 308.97,306.59 305.06,307.89 302.46,307.24" fill="#ccf438" stroke="#ccf438" stroke-width="0.3" stroke-linejoin="round"/><ellipse cx="306.36" cy="305.93" rx="0.52" ry="0.52" fill="#ff8800"/><polygon points="290.08,320.92 293.99,318.31 298.55,315.70 299.20,317.01 294.64,319.61 290.73,321.83" fill="#34f0d0" stroke="#34f0d0" stroke-width="0.3" stroke-linejoin="round"/><polygon points="298.55,305.93 301.15,305.41 301.41,307.24 298.81,307.50" fill="#0000cc" stroke="#0000cc" stroke-width="0.3" stroke-linejoin="round"/><polygon points="310.27,305.28 313.53,305.67 313.27,306.98 310.27,306.72" fill="#0000cc" stroke="#0000cc" stroke-width="0.3" stroke-linejoin="round"/><polygon points="286.17,321.57 288.78,321.31 288.78,323.52 286.43,323.65" fill="#0000cc" stroke="#0000cc" stroke-width="0.3" stroke-linejoin="round"/><polyline points="314.83,309.58 318.09,308.54" fill="none" stroke="#0000cc" stroke-width="0.52" stroke-linecap="round"/><polyline points="271.19,316.62 273.15,315.31" fill="none" stroke="#0000cc" stroke-width="0.52" stroke-linecap="round"/><ellipse cx="260.12" cy="325.74" rx="0.39" ry="0.39" fill="#0000cc"/><ellipse cx="286.17" cy="332.38" rx="0.52" ry="0.52" fill="#0000cc"/><ellipse cx="205.80" cy="303.98" rx="1.04" ry="1.30" fill="#0000cc"/><ellipse cx="210.36" cy="303.98" rx="0.39" ry="0.39" fill="#0000cc"/><ellipse cx="217.52" cy="304.37" rx="1.04" ry="1.04" fill="#0000cc"/><ellipse cx="211.01" cy="317.40" rx="1.56" ry="1.04" fill="#34f0d0"/><ellipse cx="212.70" cy="317.14" rx="0.78" ry="0.65" fill="#1480f8"/><ellipse cx="214.26" cy="299.42" rx="0.26" ry="0.26" fill="#0000cc"/><ellipse cx="219.21" cy="317.92" rx="0.26" ry="0.26" fill="#0000cc"/><polygon points="239.02,360.63 241.62,359.59 242.27,361.93 240.06,362.59" fill="#1480f8" stroke="#1480f8" stroke-width="0.3" stroke-linejoin="round"/><polygon points="242.27,357.38 244.23,356.72 244.75,359.07 242.66,359.33" fill="#34f0d0" stroke="#34f0d0" stroke-width="0.3" stroke-linejoin="round"/><polygon points="245.27,354.12 247.48,353.60 247.87,355.68 245.53,356.07" fill="#0000cc" stroke="#0000cc" stroke-width="0.3" stroke-linejoin="round"/><polygon points="237.71,364.54 240.32,363.89 240.97,365.84 238.36,366.49" fill="#34f0d0" stroke="#34f0d0" stroke-width="0.3" stroke-linejoin="round"/><polygon points="235.11,366.49 237.06,365.84 237.45,367.80 235.50,368.19" fill="#1480f8" stroke="#1480f8" stroke-width="0.3" stroke-linejoin="round"/></g></g>
</g>
<text x="17.70" y="96.60" font-size="4.2" text-anchor="middle">YN</text>
<text x="46.40" y="80.70" font-size="4.2" text-anchor="middle">GZ</text>
<text x="54.10" y="93.70" font-size="4.2" text-anchor="middle">GX</text>
<text x="69.40" y="55.80" font-size="4.2" text-anchor="middle">HuB</text>
<text x="96.20" y="55.80" font-size="4.2" text-anchor="middle">AH</text>
<text x="107.40" y="51.30" font-size="4.2" text-anchor="middle">JS</text>
<text x="6.10" y="9.30" font-size="5.9">(h)</text>
<rect x="0" y="0" width="135.70" height="112.70" fill="none" stroke="#8a8a8a" stroke-width="0.9"/>
<text x="-1.4" y="6.39" font-size="4.7" text-anchor="end">42°N</text>
<text x="-1.4" y="20.46" font-size="4.7" text-anchor="end">39°N</text>
<text x="-1.4" y="34.53" font-size="4.7" text-anchor="end">36°N</text>
<text x="-1.4" y="48.60" font-size="4.7" text-anchor="end">33°N</text>
<text x="-1.4" y="62.67" font-size="4.7" text-anchor="end">30°N</text>
<text x="-1.4" y="76.74" font-size="4.7" text-anchor="end">27°N</text>
<text x="-1.4" y="90.81" font-size="4.7" text-anchor="end">24°N</text>
<text x="-1.4" y="104.88" font-size="4.7" text-anchor="end">21°N</text>
<text x="14.01" y="118.00" font-size="4.7" text-anchor="middle">100°E</text>
<text x="37.37" y="118.00" font-size="4.7" text-anchor="middle">105°E</text>
<text x="60.73" y="118.00" font-size="4.7" text-anchor="middle">110°E</text>
<text x="84.08" y="118.00" font-size="4.7" text-anchor="middle">115°E</text>
<text x="107.44" y="118.00" font-size="4.7" text-anchor="middle">120°E</text>
<text x="130.80" y="118.00" font-size="4.7" text-anchor="middle">125°E</text>
<text x="67.85" y="-2.0" font-size="5.8" text-anchor="middle">2020-08-24 16:00</text>

</g>
<g transform="translate(339.30 289.10)">
<g clip-path="url(#cp)">
<g fill="none" stroke-linejoin="round"><g stroke="#d0d0d0" stroke-width="0.9"><path d="M40.17 112.56 L41.57 109.75 L43.91 106.93 L45.78 104.59 L48.11 103.18 L50.45 101.30 L51.62 100.60 L53.72 100.13 L55.59 100.37 L56.99 101.07 L58.86 100.37 L60.26 101.30 L59.56 103.65 L60.26 105.99 L61.66 106.70 L63.06 106.46 L62.83 104.59 L62.59 102.71 L64.46 101.30 L68.20 100.60 L71.00 99.43 L74.27 98.96 L76.14 98.02 L77.54 95.68 L78.24 96.61 L80.35 97.08 L81.75 96.14 L84.08 95.21 L86.89 94.74 L90.16 94.03 L92.02 92.86 L93.89 91.45 L96.23 90.05 L98.10 87.23 L100.90 85.83 L102.77 83.48 L105.10 82.07 L105.57 79.26 L107.44 76.92 L109.31 74.10 L111.18 70.82 L113.51 69.41 L115.38 66.60 L116.31 64.25 L116.78 61.44 L113.98 60.03 L111.18 59.33 L113.51 57.69 L116.31 56.75 L115.38 54.40 L116.31 52.76 L113.98 50.65 L111.64 48.31 L110.24 45.96 L108.84 42.21 L105.57 39.86 L103.70 38.46 L104.64 36.58 L106.97 34.71 L109.31 32.36 L111.64 30.95 L114.91 29.08 L118.65 28.61 L119.12 26.73 L116.78 25.79 L113.51 25.33 L110.71 24.39 L107.91 26.26 L105.57 27.67 L102.77 26.73 L102.30 24.39 L99.50 22.51 L96.70 21.10 L96.23 18.76 L98.56 17.82 L102.30 17.82 L104.17 16.41 L106.50 14.54 L110.24 12.66 L112.11 10.32 L114.91 9.85 L117.72 11.26 L116.31 13.13 L114.91 15.95 L113.51 17.82 L112.58 19.70 L114.91 19.23 L117.25 17.82 L120.52 16.41 L123.79 15.48 L127.53 14.54 L128.93 15.95 L131.26 16.41 L132.66 17.82 L131.73 20.17 L130.80 22.04 L132.66 23.45 L136.40 24.86"/><path d="M107.91 93.80 L108.84 96.14 L110.71 98.49 L111.64 96.61 L113.04 94.74 L114.45 91.45 L114.91 89.11 L116.31 86.30 L116.31 84.42 L114.45 83.01 L112.11 84.42 L110.71 86.30 L108.37 90.05 L107.91 93.80 Z"/><path d="M54.19 113.03 L54.65 111.15 L56.99 109.28 L58.86 107.87 L61.66 107.40 L64.00 107.87 L65.40 109.51 L64.00 112.09 L63.06 113.50"/><path d="M51.62 100.60 L49.52 100.37 L47.65 99.66 L45.31 98.49 L45.54 96.61 L44.84 94.27 L42.04 94.03 L40.17 93.33 L38.77 92.39 L36.90 93.80 L35.03 94.74 L32.70 96.14 L30.83 94.74 L28.96 95.68 L27.09 95.68 L25.22 95.68 L24.06 96.61"/><path d="M24.06 96.61 L22.42 96.38 L21.49 98.02 L21.95 101.77 L19.62 100.83 L19.39 100.37"/><path d="M19.39 100.37 L16.82 101.07 L14.95 100.37 L13.78 98.25 L10.74 98.02 L11.68 94.27 L9.34 92.86 L8.88 90.05 L7.94 88.64 L4.67 87.70 L2.80 89.58 L2.34 87.70 L3.27 85.36 L3.74 83.01 L5.61 81.61 L7.94 79.26 L7.94 75.04 L7.01 72.23 L5.61 71.29 L2.80 68.94 L-0.47 69.41"/><path d="M24.06 96.61 L25.22 98.96 L27.56 99.90 L26.63 102.24 L28.96 104.12 L31.30 104.59 L34.57 105.99 L35.50 107.87 L32.70 109.75 L35.03 112.09 L36.90 113.50"/><path d="M19.39 100.37 L16.82 104.12 L14.48 105.99 L16.35 107.40 L16.82 110.21 L19.62 110.21 L19.15 113.50"/><path d="M14.48 105.99 L11.68 107.40 L8.88 108.81 L5.61 109.28 L3.74 111.62 L2.80 114.44"/><path d="M-0.93 1.17 L0.93 0.94 L4.67 1.88 L11.68 1.88 L17.75 1.64 L22.42 2.34 L26.63 4.22 L31.30 5.16 L35.03 5.39 L37.37 6.57 L42.04 4.69 L46.71 3.28 L51.38 2.58 L56.06 2.58 L60.73 1.88 L63.53 0.47 L64.93 -0.94"/><path d="M127.53 14.54 L130.33 11.72 L133.60 9.85 L136.40 7.50"/><path d="M130.33 23.92 L134.07 23.92 L136.40 24.39"/></g><g stroke="#e5e5e5" stroke-width="0.7"><path d="M7.94 72.69 L7.47 69.41 L9.34 66.13 L10.28 64.72 L11.21 68.47 L14.48 70.35 L15.88 72.69 L18.22 72.23 L19.62 76.45 L22.42 79.26 L26.16 77.85 L28.03 75.04 L30.36 72.23 L33.63 71.29 L35.03 72.23"/><path d="M35.03 72.23 L33.63 75.51 L35.50 77.38 L34.57 79.73 L35.03 82.54 L35.50 85.36"/><path d="M38.77 92.39 L40.17 88.64 L37.37 86.76 L35.50 85.36 L38.30 84.89 L42.04 85.36 L44.84 83.48 L48.11 82.54 L51.38 81.61 L54.19 82.54 L57.46 80.67 L58.86 79.73"/><path d="M58.86 79.73 L57.46 77.38 L58.39 74.10 L56.99 72.23 L57.92 68.94 L56.99 66.13 L54.19 67.54 L52.79 65.19 L50.45 64.72 L46.71 65.66 L43.91 68.00 L41.11 69.88 L38.30 69.41 L35.03 72.23"/><path d="M38.30 69.41 L39.71 64.25 L40.64 61.44 L42.04 59.56 L44.84 59.09 L47.65 55.34 L51.38 52.53 L54.19 51.12 L57.46 53.47"/><path d="M57.46 53.47 L61.19 54.40 L58.39 58.16 L56.99 60.97 L55.12 63.78 L56.99 66.13"/><path d="M58.39 62.85 L63.06 61.44 L66.80 60.97 L71.00 62.85 L74.74 63.31 L78.48 64.72 L79.41 66.13"/><path d="M58.86 79.73 L60.73 78.32 L64.46 79.73 L66.33 82.07 L68.20 84.42 L71.94 85.36 L74.74 83.01 L78.01 83.01 L80.35 81.61"/><path d="M80.35 81.61 L79.41 78.32 L78.48 75.04 L79.41 72.69 L77.54 70.35 L78.94 67.54 L79.41 66.13"/><path d="M68.20 84.42 L67.73 87.23 L70.07 89.58 L67.73 92.39 L66.33 95.21 L64.00 97.08 L62.13 98.96 L60.26 100.83"/><path d="M80.35 81.61 L83.15 83.48 L85.48 85.83 L88.75 85.36 L91.09 86.30 L92.49 88.17 L94.36 91.45"/><path d="M91.09 86.30 L90.16 83.01 L90.62 79.73 L92.96 76.92 L95.76 73.63 L99.03 70.82 L100.43 68.94"/><path d="M100.43 68.94 L102.77 70.82 L105.57 72.23 L109.31 74.10"/><path d="M100.43 68.94 L99.03 66.13 L98.10 64.72 L95.29 63.31 L92.02 62.85 L89.22 61.91"/><path d="M79.41 66.13 L83.15 64.25 L86.42 61.91 L89.22 61.91"/><path d="M98.10 64.72 L101.83 61.44 L104.17 58.62 L105.57 55.81 L109.77 56.28 L112.11 56.28 L113.51 57.69"/><path d="M111.64 56.28 L112.58 53.47 L115.38 54.40"/><path d="M104.17 58.62 L103.70 54.87 L101.83 53.47 L100.43 50.65 L102.77 49.24 L100.90 46.90 L98.10 45.49 L97.16 42.21 L91.56 39.86"/><path d="M89.22 61.91 L87.82 59.09 L88.29 56.28 L85.48 54.40 L83.62 52.06 L86.42 49.71 L87.35 46.90 L86.89 44.09 L88.75 41.27 L91.56 39.86"/><path d="M63.53 47.84 L66.80 46.90 L69.60 48.78 L72.87 49.71 L77.08 52.53 L80.35 52.53 L83.62 52.06"/><path d="M54.19 51.12 L57.46 48.78 L61.66 48.78 L63.53 47.84"/><path d="M54.19 51.12 L49.05 48.78 L44.38 48.31 L39.71 48.31 L42.04 45.96 L44.38 43.62 L44.38 40.80 L46.71 38.46 L49.05 37.05 L53.72 36.11 L54.65 31.42 L51.38 30.02 L49.05 27.67 L49.52 23.92"/><path d="M39.71 48.31 L34.57 46.90 L31.30 44.09 L27.09 41.27 L23.36 42.21 L21.95 45.96 L17.75 48.31 L13.08 47.37 L9.34 46.90 L7.94 51.59 L8.88 56.28 L9.34 60.97 L10.28 64.72"/><path d="M27.09 41.27 L25.69 38.46 L28.03 35.17 L26.63 32.83 L25.22 30.48 L28.03 28.14 L24.76 24.39 L19.62 22.51 L11.68 19.23 L7.01 16.41 L0.00 17.82"/><path d="M0.93 0.94 L6.07 7.03 L12.15 10.32 L14.48 14.07 L18.22 16.88 L22.42 18.29 L26.16 17.82 L29.43 16.88 L32.70 18.29 L30.83 22.51 L33.63 25.33"/><path d="M33.63 25.33 L35.50 26.26 L38.77 28.14 L39.71 31.42 L42.04 34.24 L44.38 36.11 L46.25 33.77 L46.25 31.89 L48.11 29.08 L49.52 23.92 L46.25 21.10 L45.78 18.29 L43.91 17.35 L42.04 19.70 L40.17 22.51 L37.37 24.86 L33.63 25.33"/><path d="M49.52 23.92 L53.72 25.33 L58.39 22.04 L62.59 18.76 L65.86 15.95 L63.53 20.17 L62.59 25.79 L63.06 30.48 L62.59 34.71 L61.66 37.99 L63.53 39.40"/><path d="M63.53 39.40 L65.40 43.15 L65.40 45.02 L63.53 47.84"/><path d="M63.53 39.40 L67.73 37.99 L72.40 36.58 L77.08 35.17 L79.88 32.83"/><path d="M79.88 32.83 L78.01 29.08 L78.94 24.86 L79.88 21.10 L81.75 16.41 L79.41 14.07 L80.81 11.26 L77.54 11.72 L74.74 12.19 L71.00 12.19 L67.27 13.13 L65.86 15.95"/><path d="M79.88 32.83 L82.21 32.36 L85.48 32.83 L86.89 35.64 L88.75 39.40 L91.56 39.86"/><path d="M91.56 39.86 L94.83 38.93 L98.10 39.40 L100.90 37.52 L103.70 38.46"/><path d="M85.48 32.83 L88.29 28.61 L91.09 25.79 L94.83 23.92 L96.70 21.10"/><path d="M80.81 11.26 L79.41 7.97 L85.95 5.63 L88.75 4.22 L92.96 3.75 L95.29 2.34 L98.10 1.88 L99.50 4.22 L103.70 6.10 L106.50 10.32 L105.10 13.13 L104.17 16.41"/><path d="M103.70 6.10 L107.44 5.16 L111.18 3.28 L115.38 2.34 L119.12 0.94 L121.45 -0.47"/><path d="M136.40 7.50 L132.66 4.22 L129.86 1.88 L127.53 -0.47"/><path d="M86.42 15.95 L88.75 13.13 L90.62 9.85 L95.29 11.26 L94.36 13.60 L92.96 15.95 L89.69 16.41 L86.42 15.95"/><path d="M94.36 13.60 L97.16 15.48 L96.23 18.76 L96.70 21.10 L93.43 20.17 L92.96 15.95"/></g></g>
<g transform="translate(-339.30 -289.10)"><mask id="m8" maskUnits="userSpaceOnUse" x="0" y="0" width="522" height="550"><rect width="522" height="550" fill="#fff"/><rect width="522" height="550" fill="#000" filter="url(#spk2)"/></mask><g mask="url(#m8)"><polygon points="348.12,360.63 350.07,359.98 350.72,364.54 354.63,366.49 358.54,367.80 362.45,369.75 366.36,371.70 370.26,373.01 374.17,374.31 378.08,375.61 378.73,377.57 376.13,379.52 372.22,379.91 368.31,379.52 365.05,378.87 361.15,377.57 357.24,376.92 353.33,377.57 350.07,378.87 348.38,377.57" fill="#1480f8" stroke="#1480f8" stroke-width="0.3" stroke-linejoin="round"/><polygon points="348.38,364.54 352.03,365.84 357.24,368.45 362.45,371.05 367.66,373.01 372.87,374.70 376.78,376.26 375.48,378.22 370.26,377.57 365.05,376.26 359.84,375.22 354.63,374.96 349.42,374.70" fill="#34f0d0" stroke="#34f0d0" stroke-width="0.3" stroke-linejoin="round"/><polygon points="348.38,367.15 352.03,367.80 355.93,369.75 358.54,371.70 355.93,373.66 352.03,374.31 348.77,373.66" fill="#ccf438" stroke="#ccf438" stroke-width="0.3" stroke-linejoin="round"/><polygon points="363.75,373.01 368.96,374.31 374.17,376.00 373.52,377.31 368.31,376.26 364.01,374.70" fill="#ccf438" stroke="#ccf438" stroke-width="0.3" stroke-linejoin="round"/><polygon points="348.77,374.31 353.33,374.70 357.24,375.61 361.15,376.26 359.84,378.87 355.93,379.13 352.03,378.61 349.16,378.22" fill="#0000cc" stroke="#0000cc" stroke-width="0.3" stroke-linejoin="round"/><polygon points="365.05,377.57 368.96,378.22 368.31,379.91 365.05,379.13" fill="#0000cc" stroke="#0000cc" stroke-width="0.3" stroke-linejoin="round"/><ellipse cx="350.98" cy="371.70" rx="0.65" ry="0.52" fill="#ff8800"/><polygon points="348.77,382.78 351.38,382.13 353.33,384.08 354.63,387.34 352.03,389.29 349.16,388.64" fill="#1480f8" stroke="#1480f8" stroke-width="0.3" stroke-linejoin="round"/><polygon points="349.42,385.38 352.68,385.12 353.33,387.73 350.07,388.25" fill="#34f0d0" stroke="#34f0d0" stroke-width="0.3" stroke-linejoin="round"/><polygon points="381.99,375.61 385.90,373.66 389.80,371.70 393.71,370.40 395.67,371.70 394.36,374.96 391.11,376.92 387.20,378.22 383.29,378.22" fill="#1480f8" stroke="#1480f8" stroke-width="0.3" stroke-linejoin="round"/><polygon points="383.94,375.61 387.85,373.92 392.41,372.36 394.36,373.01 391.11,375.22 386.55,376.92" fill="#34f0d0" stroke="#34f0d0" stroke-width="0.3" stroke-linejoin="round"/><polygon points="387.20,374.70 390.46,374.31 390.85,376.00 387.46,376.52" fill="#ccf438" stroke="#ccf438" stroke-width="0.3" stroke-linejoin="round"/><polygon points="389.15,376.00 393.06,374.31 393.71,376.26 390.46,378.22 387.85,378.22" fill="#0000cc" stroke="#0000cc" stroke-width="0.3" stroke-linejoin="round"/><ellipse cx="357.89" cy="358.68" rx="1.04" ry="0.78" fill="#34f0d0"/><ellipse cx="358.54" cy="359.33" rx="0.52" ry="0.39" fill="#1480f8"/><ellipse cx="348.77" cy="361.28" rx="0.65" ry="0.65" fill="#1480f8"/><ellipse cx="365.70" cy="364.54" rx="0.65" ry="0.52" fill="#0000cc"/><ellipse cx="383.29" cy="365.58" rx="0.65" ry="0.52" fill="#0000cc"/><ellipse cx="387.20" cy="363.24" rx="0.52" ry="0.52" fill="#0000cc"/><ellipse cx="359.84" cy="389.29" rx="0.52" ry="0.39" fill="#0000cc"/><ellipse cx="358.54" cy="353.47" rx="0.39" ry="0.39" fill="#0000cc"/><polyline points="421.05,346.93 421.05,349.54" fill="none" stroke="#0000cc" stroke-width="0.91" stroke-linecap="round"/><polygon points="413.24,357.62 415.58,355.79 415.84,358.01" fill="#0000cc" stroke="#0000cc" stroke-width="0.3" stroke-linejoin="round"/><ellipse cx="440.59" cy="333.26" rx="0.52" ry="0.52" fill="#0000cc"/><ellipse cx="429.52" cy="370.38" rx="0.52" ry="0.52" fill="#0000cc"/><ellipse cx="432.78" cy="374.94" rx="0.78" ry="0.65" fill="#34f0d0"/><polygon points="447.50,378.85 448.67,378.46 449.45,385.36 447.76,385.75" fill="#1480f8" stroke="#1480f8" stroke-width="0.3" stroke-linejoin="round"/><ellipse cx="448.41" cy="383.41" rx="0.65" ry="0.78" fill="#34f0d0"/><polygon points="457.15,303.33 461.71,302.29 468.23,303.98 472.13,307.24 474.74,308.54 472.13,310.49 468.23,311.80 464.32,313.75 460.41,315.70 456.50,317.66 451.29,320.26 447.38,322.22 444.13,324.17 441.52,324.43 441.13,322.87 444.78,320.26 448.69,317.66 452.59,315.05 455.85,312.45 456.50,307.24" fill="#1480f8" stroke="#1480f8" stroke-width="0.3" stroke-linejoin="round"/><polygon points="457.80,303.98 463.02,302.68 468.23,304.63 469.53,307.24 466.92,310.49 463.02,312.45 459.11,313.75 456.50,313.10 457.15,308.54" fill="#34f0d0" stroke="#34f0d0" stroke-width="0.3" stroke-linejoin="round"/><polygon points="459.11,305.28 462.36,303.33 465.62,303.98 466.27,307.24 463.02,309.19 459.76,308.54" fill="#ccf438" stroke="#ccf438" stroke-width="0.3" stroke-linejoin="round"/><ellipse cx="462.36" cy="305.67" rx="0.65" ry="0.52" fill="#ff8800"/><polygon points="442.17,323.52 446.08,320.92 451.29,317.66 455.20,315.05 455.85,316.36 451.94,318.96 446.73,322.22 442.82,324.82" fill="#34f0d0" stroke="#34f0d0" stroke-width="0.3" stroke-linejoin="round"/><polygon points="466.92,305.93 470.83,307.24 470.57,309.84 467.57,309.58" fill="#0000cc" stroke="#0000cc" stroke-width="0.3" stroke-linejoin="round"/><polygon points="441.13,321.57 442.95,321.31 442.95,323.13 441.39,323.13" fill="#0000cc" stroke="#0000cc" stroke-width="0.3" stroke-linejoin="round"/><polyline points="465.62,313.49 470.83,312.45" fill="none" stroke="#0000cc" stroke-width="0.52" stroke-linecap="round"/><polyline points="418.46,323.91 421.98,320.26" fill="none" stroke="#0000cc" stroke-width="0.78" stroke-linecap="round"/><polyline points="431.75,313.23 434.36,312.19" fill="none" stroke="#0000cc" stroke-width="0.65" stroke-linecap="round"/><ellipse cx="440.87" cy="333.29" rx="0.52" ry="0.52" fill="#0000cc"/><ellipse cx="445.43" cy="326.13" rx="0.39" ry="0.39" fill="#0000cc"/><polygon points="363.49,303.33 365.05,302.29 366.62,302.81 365.70,304.37 367.01,305.28 365.05,305.93 363.75,305.15" fill="#0000cc" stroke="#0000cc" stroke-width="0.3" stroke-linejoin="round"/><ellipse cx="369.61" cy="305.28" rx="0.52" ry="0.52" fill="#0000cc"/><ellipse cx="374.82" cy="305.93" rx="0.39" ry="0.39" fill="#0000cc"/><ellipse cx="368.70" cy="318.31" rx="1.30" ry="1.04" fill="#34f0d0"/><ellipse cx="370.00" cy="318.70" rx="0.78" ry="0.78" fill="#1480f8"/><ellipse cx="357.24" cy="296.56" rx="0.39" ry="0.39" fill="#0000cc"/><ellipse cx="372.61" cy="300.72" rx="0.26" ry="0.26" fill="#0000cc"/><ellipse cx="377.43" cy="318.70" rx="0.26" ry="0.26" fill="#0000cc"/><polygon points="392.64,353.77 394.56,353.24 396.48,354.54 396.09,356.84 394.18,357.38 392.87,356.07" fill="#34f0d0" stroke="#34f0d0" stroke-width="0.3" stroke-linejoin="round"/><ellipse cx="394.41" cy="355.31" rx="0.84" ry="0.84" fill="#ccf438"/><polygon points="398.39,353.39 400.31,352.24 402.22,352.78 401.84,354.54 399.92,355.08" fill="#1480f8" stroke="#1480f8" stroke-width="0.3" stroke-linejoin="round"/><polygon points="399.54,356.84 401.84,356.46 403.37,357.99 402.61,360.29 400.31,360.67 399.31,358.75" fill="#1480f8" stroke="#1480f8" stroke-width="0.3" stroke-linejoin="round"/><ellipse cx="401.07" cy="358.22" rx="0.77" ry="0.77" fill="#34f0d0"/><polygon points="397.78,363.51 399.92,362.43 401.84,362.97 401.30,364.50 398.77,364.73" fill="#1480f8" stroke="#1480f8" stroke-width="0.3" stroke-linejoin="round"/><ellipse cx="399.77" cy="363.51" rx="0.61" ry="0.61" fill="#34f0d0"/><ellipse cx="395.17" cy="367.18" rx="0.61" ry="0.61" fill="#34f0d0"/><ellipse cx="383.07" cy="365.80" rx="0.46" ry="0.46" fill="#0000cc"/><ellipse cx="387.66" cy="362.97" rx="0.46" ry="0.46" fill="#0000cc"/><polygon points="406.05,349.18 408.35,347.26 410.65,347.64 412.95,348.41 415.25,348.79 415.63,350.71 413.72,351.48 411.42,351.86 409.12,351.48 407.20,350.71" fill="#1480f8" stroke="#1480f8" stroke-width="0.3" stroke-linejoin="round"/><polygon points="408.74,349.56 411.03,349.18 411.80,350.71 409.89,351.48" fill="#ccf438" stroke="#ccf438" stroke-width="0.3" stroke-linejoin="round"/><polygon points="412.95,348.64 414.87,348.95 415.10,350.33 413.33,350.17" fill="#0000cc" stroke="#0000cc" stroke-width="0.3" stroke-linejoin="round"/><ellipse cx="408.51" cy="347.87" rx="0.46" ry="0.46" fill="#0000cc"/><ellipse cx="414.48" cy="357.22" rx="0.77" ry="0.92" fill="#0000cc"/></g></g>
</g>
<text x="17.20" y="96.40" font-size="4.2" text-anchor="middle">YN</text>
<text x="47.70" y="78.10" font-size="4.2" text-anchor="middle">GZ</text>
<text x="58.70" y="92.40" font-size="4.2" text-anchor="middle">GX</text>
<text x="72.90" y="55.80" font-size="4.2" text-anchor="middle">HuB</text>
<text x="95.50" y="55.60" font-size="4.2" text-anchor="middle">AH</text>
<text x="107.60" y="51.20" font-size="4.2" text-anchor="middle">JS</text>
<text x="6.10" y="9.30" font-size="5.9">(i)</text>
<rect x="0" y="0" width="135.70" height="112.70" fill="none" stroke="#8a8a8a" stroke-width="0.9"/>
<text x="-1.4" y="6.39" font-size="4.7" text-anchor="end">42°N</text>
<text x="-1.4" y="20.46" font-size="4.7" text-anchor="end">39°N</text>
<text x="-1.4" y="34.53" font-size="4.7" text-anchor="end">36°N</text>
<text x="-1.4" y="48.60" font-size="4.7" text-anchor="end">33°N</text>
<text x="-1.4" y="62.67" font-size="4.7" text-anchor="end">30°N</text>
<text x="-1.4" y="76.74" font-size="4.7" text-anchor="end">27°N</text>
<text x="-1.4" y="90.81" font-size="4.7" text-anchor="end">24°N</text>
<text x="-1.4" y="104.88" font-size="4.7" text-anchor="end">21°N</text>
<text x="14.01" y="118.00" font-size="4.7" text-anchor="middle">100°E</text>
<text x="37.37" y="118.00" font-size="4.7" text-anchor="middle">105°E</text>
<text x="60.73" y="118.00" font-size="4.7" text-anchor="middle">110°E</text>
<text x="84.08" y="118.00" font-size="4.7" text-anchor="middle">115°E</text>
<text x="107.44" y="118.00" font-size="4.7" text-anchor="middle">120°E</text>
<text x="130.80" y="118.00" font-size="4.7" text-anchor="middle">125°E</text>
<text x="67.85" y="-2.0" font-size="5.8" text-anchor="middle">2020-08-24 17:00</text>

</g>
<g transform="translate(28.50 417.00)">
<g clip-path="url(#cp)">
<g fill="none" stroke-linejoin="round"><g stroke="#d0d0d0" stroke-width="0.9"><path d="M40.17 112.56 L41.57 109.75 L43.91 106.93 L45.78 104.59 L48.11 103.18 L50.45 101.30 L51.62 100.60 L53.72 100.13 L55.59 100.37 L56.99 101.07 L58.86 100.37 L60.26 101.30 L59.56 103.65 L60.26 105.99 L61.66 106.70 L63.06 106.46 L62.83 104.59 L62.59 102.71 L64.46 101.30 L68.20 100.60 L71.00 99.43 L74.27 98.96 L76.14 98.02 L77.54 95.68 L78.24 96.61 L80.35 97.08 L81.75 96.14 L84.08 95.21 L86.89 94.74 L90.16 94.03 L92.02 92.86 L93.89 91.45 L96.23 90.05 L98.10 87.23 L100.90 85.83 L102.77 83.48 L105.10 82.07 L105.57 79.26 L107.44 76.92 L109.31 74.10 L111.18 70.82 L113.51 69.41 L115.38 66.60 L116.31 64.25 L116.78 61.44 L113.98 60.03 L111.18 59.33 L113.51 57.69 L116.31 56.75 L115.38 54.40 L116.31 52.76 L113.98 50.65 L111.64 48.31 L110.24 45.96 L108.84 42.21 L105.57 39.86 L103.70 38.46 L104.64 36.58 L106.97 34.71 L109.31 32.36 L111.64 30.95 L114.91 29.08 L118.65 28.61 L119.12 26.73 L116.78 25.79 L113.51 25.33 L110.71 24.39 L107.91 26.26 L105.57 27.67 L102.77 26.73 L102.30 24.39 L99.50 22.51 L96.70 21.10 L96.23 18.76 L98.56 17.82 L102.30 17.82 L104.17 16.41 L106.50 14.54 L110.24 12.66 L112.11 10.32 L114.91 9.85 L117.72 11.26 L116.31 13.13 L114.91 15.95 L113.51 17.82 L112.58 19.70 L114.91 19.23 L117.25 17.82 L120.52 16.41 L123.79 15.48 L127.53 14.54 L128.93 15.95 L131.26 16.41 L132.66 17.82 L131.73 20.17 L130.80 22.04 L132.66 23.45 L136.40 24.86"/><path d="M107.91 93.80 L108.84 96.14 L110.71 98.49 L111.64 96.61 L113.04 94.74 L114.45 91.45 L114.91 89.11 L116.31 86.30 L116.31 84.42 L114.45 83.01 L112.11 84.42 L110.71 86.30 L108.37 90.05 L107.91 93.80 Z"/><path d="M54.19 113.03 L54.65 111.15 L56.99 109.28 L58.86 107.87 L61.66 107.40 L64.00 107.87 L65.40 109.51 L64.00 112.09 L63.06 113.50"/><path d="M51.62 100.60 L49.52 100.37 L47.65 99.66 L45.31 98.49 L45.54 96.61 L44.84 94.27 L42.04 94.03 L40.17 93.33 L38.77 92.39 L36.90 93.80 L35.03 94.74 L32.70 96.14 L30.83 94.74 L28.96 95.68 L27.09 95.68 L25.22 95.68 L24.06 96.61"/><path d="M24.06 96.61 L22.42 96.38 L21.49 98.02 L21.95 101.77 L19.62 100.83 L19.39 100.37"/><path d="M19.39 100.37 L16.82 101.07 L14.95 100.37 L13.78 98.25 L10.74 98.02 L11.68 94.27 L9.34 92.86 L8.88 90.05 L7.94 88.64 L4.67 87.70 L2.80 89.58 L2.34 87.70 L3.27 85.36 L3.74 83.01 L5.61 81.61 L7.94 79.26 L7.94 75.04 L7.01 72.23 L5.61 71.29 L2.80 68.94 L-0.47 69.41"/><path d="M24.06 96.61 L25.22 98.96 L27.56 99.90 L26.63 102.24 L28.96 104.12 L31.30 104.59 L34.57 105.99 L35.50 107.87 L32.70 109.75 L35.03 112.09 L36.90 113.50"/><path d="M19.39 100.37 L16.82 104.12 L14.48 105.99 L16.35 107.40 L16.82 110.21 L19.62 110.21 L19.15 113.50"/><path d="M14.48 105.99 L11.68 107.40 L8.88 108.81 L5.61 109.28 L3.74 111.62 L2.80 114.44"/><path d="M-0.93 1.17 L0.93 0.94 L4.67 1.88 L11.68 1.88 L17.75 1.64 L22.42 2.34 L26.63 4.22 L31.30 5.16 L35.03 5.39 L37.37 6.57 L42.04 4.69 L46.71 3.28 L51.38 2.58 L56.06 2.58 L60.73 1.88 L63.53 0.47 L64.93 -0.94"/><path d="M127.53 14.54 L130.33 11.72 L133.60 9.85 L136.40 7.50"/><path d="M130.33 23.92 L134.07 23.92 L136.40 24.39"/></g><g stroke="#e5e5e5" stroke-width="0.7"><path d="M7.94 72.69 L7.47 69.41 L9.34 66.13 L10.28 64.72 L11.21 68.47 L14.48 70.35 L15.88 72.69 L18.22 72.23 L19.62 76.45 L22.42 79.26 L26.16 77.85 L28.03 75.04 L30.36 72.23 L33.63 71.29 L35.03 72.23"/><path d="M35.03 72.23 L33.63 75.51 L35.50 77.38 L34.57 79.73 L35.03 82.54 L35.50 85.36"/><path d="M38.77 92.39 L40.17 88.64 L37.37 86.76 L35.50 85.36 L38.30 84.89 L42.04 85.36 L44.84 83.48 L48.11 82.54 L51.38 81.61 L54.19 82.54 L57.46 80.67 L58.86 79.73"/><path d="M58.86 79.73 L57.46 77.38 L58.39 74.10 L56.99 72.23 L57.92 68.94 L56.99 66.13 L54.19 67.54 L52.79 65.19 L50.45 64.72 L46.71 65.66 L43.91 68.00 L41.11 69.88 L38.30 69.41 L35.03 72.23"/><path d="M38.30 69.41 L39.71 64.25 L40.64 61.44 L42.04 59.56 L44.84 59.09 L47.65 55.34 L51.38 52.53 L54.19 51.12 L57.46 53.47"/><path d="M57.46 53.47 L61.19 54.40 L58.39 58.16 L56.99 60.97 L55.12 63.78 L56.99 66.13"/><path d="M58.39 62.85 L63.06 61.44 L66.80 60.97 L71.00 62.85 L74.74 63.31 L78.48 64.72 L79.41 66.13"/><path d="M58.86 79.73 L60.73 78.32 L64.46 79.73 L66.33 82.07 L68.20 84.42 L71.94 85.36 L74.74 83.01 L78.01 83.01 L80.35 81.61"/><path d="M80.35 81.61 L79.41 78.32 L78.48 75.04 L79.41 72.69 L77.54 70.35 L78.94 67.54 L79.41 66.13"/><path d="M68.20 84.42 L67.73 87.23 L70.07 89.58 L67.73 92.39 L66.33 95.21 L64.00 97.08 L62.13 98.96 L60.26 100.83"/><path d="M80.35 81.61 L83.15 83.48 L85.48 85.83 L88.75 85.36 L91.09 86.30 L92.49 88.17 L94.36 91.45"/><path d="M91.09 86.30 L90.16 83.01 L90.62 79.73 L92.96 76.92 L95.76 73.63 L99.03 70.82 L100.43 68.94"/><path d="M100.43 68.94 L102.77 70.82 L105.57 72.23 L109.31 74.10"/><path d="M100.43 68.94 L99.03 66.13 L98.10 64.72 L95.29 63.31 L92.02 62.85 L89.22 61.91"/><path d="M79.41 66.13 L83.15 64.25 L86.42 61.91 L89.22 61.91"/><path d="M98.10 64.72 L101.83 61.44 L104.17 58.62 L105.57 55.81 L109.77 56.28 L112.11 56.28 L113.51 57.69"/><path d="M111.64 56.28 L112.58 53.47 L115.38 54.40"/><path d="M104.17 58.62 L103.70 54.87 L101.83 53.47 L100.43 50.65 L102.77 49.24 L100.90 46.90 L98.10 45.49 L97.16 42.21 L91.56 39.86"/><path d="M89.22 61.91 L87.82 59.09 L88.29 56.28 L85.48 54.40 L83.62 52.06 L86.42 49.71 L87.35 46.90 L86.89 44.09 L88.75 41.27 L91.56 39.86"/><path d="M63.53 47.84 L66.80 46.90 L69.60 48.78 L72.87 49.71 L77.08 52.53 L80.35 52.53 L83.62 52.06"/><path d="M54.19 51.12 L57.46 48.78 L61.66 48.78 L63.53 47.84"/><path d="M54.19 51.12 L49.05 48.78 L44.38 48.31 L39.71 48.31 L42.04 45.96 L44.38 43.62 L44.38 40.80 L46.71 38.46 L49.05 37.05 L53.72 36.11 L54.65 31.42 L51.38 30.02 L49.05 27.67 L49.52 23.92"/><path d="M39.71 48.31 L34.57 46.90 L31.30 44.09 L27.09 41.27 L23.36 42.21 L21.95 45.96 L17.75 48.31 L13.08 47.37 L9.34 46.90 L7.94 51.59 L8.88 56.28 L9.34 60.97 L10.28 64.72"/><path d="M27.09 41.27 L25.69 38.46 L28.03 35.17 L26.63 32.83 L25.22 30.48 L28.03 28.14 L24.76 24.39 L19.62 22.51 L11.68 19.23 L7.01 16.41 L0.00 17.82"/><path d="M0.93 0.94 L6.07 7.03 L12.15 10.32 L14.48 14.07 L18.22 16.88 L22.42 18.29 L26.16 17.82 L29.43 16.88 L32.70 18.29 L30.83 22.51 L33.63 25.33"/><path d="M33.63 25.33 L35.50 26.26 L38.77 28.14 L39.71 31.42 L42.04 34.24 L44.38 36.11 L46.25 33.77 L46.25 31.89 L48.11 29.08 L49.52 23.92 L46.25 21.10 L45.78 18.29 L43.91 17.35 L42.04 19.70 L40.17 22.51 L37.37 24.86 L33.63 25.33"/><path d="M49.52 23.92 L53.72 25.33 L58.39 22.04 L62.59 18.76 L65.86 15.95 L63.53 20.17 L62.59 25.79 L63.06 30.48 L62.59 34.71 L61.66 37.99 L63.53 39.40"/><path d="M63.53 39.40 L65.40 43.15 L65.40 45.02 L63.53 47.84"/><path d="M63.53 39.40 L67.73 37.99 L72.40 36.58 L77.08 35.17 L79.88 32.83"/><path d="M79.88 32.83 L78.01 29.08 L78.94 24.86 L79.88 21.10 L81.75 16.41 L79.41 14.07 L80.81 11.26 L77.54 11.72 L74.74 12.19 L71.00 12.19 L67.27 13.13 L65.86 15.95"/><path d="M79.88 32.83 L82.21 32.36 L85.48 32.83 L86.89 35.64 L88.75 39.40 L91.56 39.86"/><path d="M91.56 39.86 L94.83 38.93 L98.10 39.40 L100.90 37.52 L103.70 38.46"/><path d="M85.48 32.83 L88.29 28.61 L91.09 25.79 L94.83 23.92 L96.70 21.10"/><path d="M80.81 11.26 L79.41 7.97 L85.95 5.63 L88.75 4.22 L92.96 3.75 L95.29 2.34 L98.10 1.88 L99.50 4.22 L103.70 6.10 L106.50 10.32 L105.10 13.13 L104.17 16.41"/><path d="M103.70 6.10 L107.44 5.16 L111.18 3.28 L115.38 2.34 L119.12 0.94 L121.45 -0.47"/><path d="M136.40 7.50 L132.66 4.22 L129.86 1.88 L127.53 -0.47"/><path d="M86.42 15.95 L88.75 13.13 L90.62 9.85 L95.29 11.26 L94.36 13.60 L92.96 15.95 L89.69 16.41 L86.42 15.95"/><path d="M94.36 13.60 L97.16 15.48 L96.23 18.76 L96.70 21.10 L93.43 20.17 L92.96 15.95"/></g></g>
<g clip-path="url(#dom)"><g transform="translate(-28.50 -417.00)"><mask id="m9" maskUnits="userSpaceOnUse" x="0" y="0" width="522" height="550"><rect width="522" height="550" fill="#fff"/><rect width="522" height="550" fill="#000" filter="url(#spk1)"/><polygon points="87.72,509.83 89.48,508.59 91.03,509.31 90.83,511.90 88.76,512.72 87.72,511.69" fill="#000" stroke="#000" stroke-width="0.3" stroke-linejoin="round"/><polygon points="94.66,510.34 96.21,510.03 96.93,512.10 95.38,513.14" fill="#000" stroke="#000" stroke-width="0.3" stroke-linejoin="round"/><polygon points="67.76,509.00 69.83,508.59 71.38,509.62 69.83,510.66 68.07,510.45" fill="#000" stroke="#000" stroke-width="0.3" stroke-linejoin="round"/><polygon points="64.14,509.62 66.00,509.41 66.21,511.07 64.66,511.48" fill="#000" stroke="#000" stroke-width="0.3" stroke-linejoin="round"/><polygon points="98.79,497.41 103.45,495.34 108.62,496.38 109.66,501.55 107.59,504.66 103.45,505.69 100.55,504.86 97.45,501.03" fill="#000" stroke="#000" stroke-width="0.3" stroke-linejoin="round"/><polygon points="108.62,497.41 111.72,497.93 114.00,497.21 114.00,502.38 110.69,503.41 108.62,501.55" fill="#000" stroke="#000" stroke-width="0.3" stroke-linejoin="round"/><polygon points="102.41,486.24 105.52,485.83 106.55,488.62 104.28,489.97 102.62,488.62" fill="#000" stroke="#000" stroke-width="0.3" stroke-linejoin="round"/><polygon points="91.03,489.14 93.62,488.93 94.14,490.69 91.55,491.00" fill="#000" stroke="#000" stroke-width="0.3" stroke-linejoin="round"/><polygon points="123.45,513.45 125.00,512.72 125.52,514.48 123.97,515.00" fill="#000" stroke="#000" stroke-width="0.3" stroke-linejoin="round"/><polygon points="126.55,510.86 128.10,510.24 128.62,512.10 126.97,512.52" fill="#000" stroke="#000" stroke-width="0.3" stroke-linejoin="round"/><polygon points="129.45,508.59 130.90,507.97 131.31,509.83 129.86,510.24" fill="#000" stroke="#000" stroke-width="0.3" stroke-linejoin="round"/><polygon points="131.93,506.21 133.38,505.48 133.79,507.24 132.34,507.76" fill="#000" stroke="#000" stroke-width="0.3" stroke-linejoin="round"/><polygon points="110.00,504.66 113.10,505.17 116.21,505.69 120.34,507.24 123.45,508.79 120.34,510.03 116.21,509.41 112.07,508.38 110.00,507.76" fill="#000" stroke="#000" stroke-width="0.3" stroke-linejoin="round"/><polygon points="116.21,491.21 120.34,490.17 125.52,489.66 130.69,491.21 134.83,493.28 135.86,496.38 133.28,497.93 130.69,499.28 126.55,500.52 122.41,502.59 118.28,503.62 116.21,500.52 117.24,496.38" fill="#000" stroke="#000" stroke-width="0.3" stroke-linejoin="round"/><polygon points="100.55,483.07 103.24,482.76 103.66,484.83 100.97,485.14" fill="#000" stroke="#000" stroke-width="0.3" stroke-linejoin="round"/><polygon points="107.38,479.14 110.48,478.72 110.90,481.00 107.79,481.41" fill="#000" stroke="#000" stroke-width="0.3" stroke-linejoin="round"/><polygon points="147.08,470.57 148.61,470.03 148.94,472.76 147.30,473.30" fill="#000" stroke="#000" stroke-width="0.3" stroke-linejoin="round"/><polygon points="112.83,478.00 115.93,477.17 119.03,478.52 119.24,481.62 115.93,482.66 113.34,481.31" fill="#000" stroke="#000" stroke-width="0.3" stroke-linejoin="round"/><polygon points="122.14,468.48 125.03,468.17 125.45,470.55 122.66,470.97" fill="#000" stroke="#000" stroke-width="0.3" stroke-linejoin="round"/><polygon points="115.93,470.76 118.83,470.24 119.24,473.66 116.45,474.07" fill="#000" stroke="#000" stroke-width="0.3" stroke-linejoin="round"/><polygon points="113.86,474.38 115.72,474.07 115.93,475.93 114.07,476.14" fill="#000" stroke="#000" stroke-width="0.3" stroke-linejoin="round"/><polygon points="119.03,476.45 121.10,476.14 121.31,479.03 119.24,479.24" fill="#000" stroke="#000" stroke-width="0.3" stroke-linejoin="round"/><polygon points="104.55,481.62 108.69,481.31 108.90,483.69 104.76,484.00" fill="#000" stroke="#000" stroke-width="0.3" stroke-linejoin="round"/><polygon points="101.45,479.03 104.03,478.83 104.34,480.90 101.66,481.10" fill="#000" stroke="#000" stroke-width="0.3" stroke-linejoin="round"/><polygon points="126.28,473.86 128.86,473.66 128.97,475.93 126.48,476.14" fill="#000" stroke="#000" stroke-width="0.3" stroke-linejoin="round"/><polygon points="122.14,482.14 126.07,481.72 126.28,483.69 122.34,484.00" fill="#000" stroke="#000" stroke-width="0.3" stroke-linejoin="round"/><polygon points="108.69,478.00 111.28,477.48 111.79,479.55 109.21,480.07" fill="#000" stroke="#000" stroke-width="0.3" stroke-linejoin="round"/><polygon points="106.62,486.28 110.55,485.86 110.76,488.34 106.83,488.55" fill="#000" stroke="#000" stroke-width="0.3" stroke-linejoin="round"/><polygon points="118.00,487.31 121.93,486.90 122.14,489.38 118.21,489.59" fill="#000" stroke="#000" stroke-width="0.3" stroke-linejoin="round"/></mask><g mask="url(#m9)"><polygon points="63.10,508.28 64.66,507.24 67.24,508.79 69.83,508.28 72.41,507.24 75.52,505.17 78.62,503.10 81.72,501.55 84.83,500.52 87.41,499.48 90.00,498.97 92.07,499.48 94.14,497.93 95.69,498.45 96.72,500.52 98.79,505.17 101.38,506.72 104.48,506.21 108.62,504.66 114.00,503.10 114.00,522.66 96.21,520.38 80.69,518.10 64.14,516.45" fill="#0000c4" stroke="#0000c4" stroke-width="0.3" stroke-linejoin="round"/><polygon points="88.97,487.59 91.03,486.86 94.14,487.90 97.24,486.86 99.31,485.00 114.00,485.00 114.00,495.34 111.72,496.90 109.66,494.83 108.10,492.24 105.52,490.69 103.45,489.14 101.38,490.69 100.34,493.79 97.76,493.07 94.14,493.07 91.03,492.45 89.79,491.00" fill="#0000c4" stroke="#0000c4" stroke-width="0.3" stroke-linejoin="round"/><polygon points="63.10,509.00 64.66,507.55 67.24,509.00 69.83,508.48 72.41,507.45 75.52,505.38 78.62,503.31 81.72,501.76 84.83,500.72 87.10,500.52 91.03,502.07 93.10,504.66 91.03,506.72 87.93,507.76 85.86,509.83 84.83,512.93 84.31,517.28 64.14,516.24" fill="#0042f8" stroke="#0042f8" stroke-width="0.3" stroke-linejoin="round"/><polygon points="64.14,514.17 72.41,514.79 80.69,515.72 91.03,517.07 101.38,518.31 114.00,519.97 114.00,522.66 96.21,520.38 80.69,518.10 64.14,516.45" fill="#0cb8f8" stroke="#0cb8f8" stroke-width="0.3" stroke-linejoin="round"/><polygon points="94.14,511.90 99.31,510.86 103.45,512.10 101.38,515.00 96.21,516.03" fill="#0042f8" stroke="#0042f8" stroke-width="0.3" stroke-linejoin="round"/><polygon points="104.48,508.79 109.66,507.24 113.79,506.72 113.79,511.90 108.62,512.93" fill="#0042f8" stroke="#0042f8" stroke-width="0.3" stroke-linejoin="round"/><polygon points="78.62,504.14 82.24,502.79 84.83,503.10 84.31,505.69 82.76,508.79 81.21,510.86 79.14,509.83 78.41,506.72" fill="#0cb8f8" stroke="#0cb8f8" stroke-width="0.3" stroke-linejoin="round"/><polygon points="80.17,505.69 82.24,504.86 82.76,506.72 81.21,508.59 80.17,507.76" fill="#0042f8" stroke="#0042f8" stroke-width="0.3" stroke-linejoin="round"/><polygon points="105.52,519.14 109.66,517.07 114.00,516.03 114.00,522.24 108.62,521.41" fill="#0cb8f8" stroke="#0cb8f8" stroke-width="0.3" stroke-linejoin="round"/><polygon points="108.62,519.14 111.72,518.31 114.00,517.90 114.00,520.69 110.69,520.69" fill="#40f0c0" stroke="#40f0c0" stroke-width="0.3" stroke-linejoin="round"/><polygon points="66.21,512.72 68.07,512.52 68.28,514.79 66.41,515.00" fill="#0cb8f8" stroke="#0cb8f8" stroke-width="0.3" stroke-linejoin="round"/><polygon points="85.86,516.03 91.03,516.55 95.17,517.90 91.03,518.62 86.90,517.90" fill="#0cb8f8" stroke="#0cb8f8" stroke-width="0.3" stroke-linejoin="round"/><polygon points="110.00,502.59 114.14,504.14 118.28,505.17 122.41,504.14 125.52,501.55 128.62,500.00 131.72,499.48 133.79,497.93 136.38,494.83 137.93,492.24 137.41,489.14 140.00,487.90 144.14,488.62 145.17,491.21 144.14,495.34 141.55,499.48 138.97,503.62 137.93,507.76 138.14,512.93 137.41,518.10 136.90,522.24 136.69,525.24 110.00,522.14" fill="#0000c4" stroke="#0000c4" stroke-width="0.3" stroke-linejoin="round"/><polygon points="110.00,485.00 127.59,485.00 126.55,488.10 122.41,489.14 119.31,491.21 116.21,490.69 114.14,493.28 110.00,494.31" fill="#0000c4" stroke="#0000c4" stroke-width="0.3" stroke-linejoin="round"/><polygon points="110.00,494.83 113.10,494.31 116.21,496.38 116.72,499.48 114.14,501.03 110.00,500.52" fill="#0000c4" stroke="#0000c4" stroke-width="0.3" stroke-linejoin="round"/><polygon points="110.00,518.10 114.14,516.03 119.31,517.07 121.38,520.69 118.28,523.28 113.10,524.10 110.00,523.48" fill="#0cb8f8" stroke="#0cb8f8" stroke-width="0.3" stroke-linejoin="round"/><polygon points="112.07,519.14 115.17,518.31 117.24,520.17 114.14,521.72" fill="#40f0c0" stroke="#40f0c0" stroke-width="0.3" stroke-linejoin="round"/><polygon points="120.34,516.03 127.59,515.00 132.76,516.03 133.79,520.17 128.62,522.24 122.41,521.72" fill="#0042f8" stroke="#0042f8" stroke-width="0.3" stroke-linejoin="round"/><polygon points="110.00,520.69 120.34,521.41 130.69,522.76 136.69,523.48 136.69,525.24 110.00,522.14" fill="#0cb8f8" stroke="#0cb8f8" stroke-width="0.3" stroke-linejoin="round"/><polygon points="125.52,504.66 130.69,502.59 134.83,503.62 135.86,508.79 132.76,511.90 128.62,510.86" fill="#0042f8" stroke="#0042f8" stroke-width="0.3" stroke-linejoin="round"/><polygon points="98.28,477.07 101.38,475.00 105.52,472.93 108.62,466.72 111.72,465.69 114.00,465.17 114.00,487.41 103.45,487.41 101.38,484.31 98.28,481.21" fill="#0000c4" stroke="#0000c4" stroke-width="0.3" stroke-linejoin="round"/><polygon points="101.38,477.28 104.48,476.55 106.03,478.62 104.48,480.38 101.90,479.97" fill="#0cb8f8" stroke="#0cb8f8" stroke-width="0.3" stroke-linejoin="round"/><polygon points="147.84,465.66 150.03,461.84 151.67,460.75 153.30,461.29 152.76,463.48 151.12,467.30 150.03,471.67 148.94,476.03 147.84,480.40 146.75,484.77 145.66,483.68 145.11,479.31 144.90,474.94 146.21,470.57" fill="#0000c4" stroke="#0000c4" stroke-width="0.3" stroke-linejoin="round"/><polygon points="148.17,459.66 149.26,457.47 150.57,458.02 150.03,461.29 148.61,461.84" fill="#0000c4" stroke="#0000c4" stroke-width="0.3" stroke-linejoin="round"/><polygon points="145.11,465.66 146.75,464.57 147.30,466.75 145.66,467.30" fill="#0000c4" stroke="#0000c4" stroke-width="0.3" stroke-linejoin="round"/><polygon points="98.34,478.00 100.41,476.45 103.52,475.41 106.10,473.86 108.69,472.31 110.24,470.24 108.69,467.66 109.21,466.41 111.28,466.62 113.34,468.17 115.41,467.66 117.48,465.59 119.03,463.52 121.10,461.97 123.69,460.93 126.28,459.38 128.86,457.31 129.90,454.72 131.45,455.24 130.93,458.34 133.52,459.90 135.59,460.93 136.10,463.52 134.55,465.59 134.03,468.69 131.97,470.24 130.41,472.31 128.86,474.90 128.34,478.00 127.31,480.07 127.83,483.17 129.38,486.28 130.41,490.41 100.41,490.41 98.34,487.31 97.31,483.17" fill="#0000c4" stroke="#0000c4" stroke-width="0.3" stroke-linejoin="round"/><polygon points="119.03,464.55 123.17,462.48 127.31,460.93 131.45,460.41 134.55,462.48 133.52,466.62 131.45,469.72 129.38,472.83 127.31,475.93 124.21,476.97 121.10,475.41 119.03,472.83 118.00,468.69" fill="#0042f8" stroke="#0042f8" stroke-width="0.3" stroke-linejoin="round"/><polygon points="122.14,471.79 124.72,470.97 126.48,472.83 125.24,475.10 122.66,475.10" fill="#0cb8f8" stroke="#0cb8f8" stroke-width="0.3" stroke-linejoin="round"/><polygon points="128.86,463.52 131.24,463.31 131.66,466.10 129.38,466.83" fill="#0cb8f8" stroke="#0cb8f8" stroke-width="0.3" stroke-linejoin="round"/><polygon points="124.21,461.66 127.31,461.24 128.14,463.00 125.24,463.52" fill="#0cb8f8" stroke="#0cb8f8" stroke-width="0.3" stroke-linejoin="round"/><polygon points="100.41,477.17 103.52,476.76 104.34,478.62 101.45,479.24" fill="#0cb8f8" stroke="#0cb8f8" stroke-width="0.3" stroke-linejoin="round"/></g></g>
<polygon points="56.00,101.60 57.73,100.13 59.47,98.66 61.20,98.34 62.93,98.53 64.67,98.73 66.40,98.93 68.13,99.14 69.87,99.35 71.60,99.57 73.33,99.80 75.07,100.03 76.80,100.27 78.53,100.51 80.27,100.76 82.00,101.01 83.73,101.27 85.47,101.53 87.20,101.81 88.93,102.08 90.67,102.36 92.40,102.65 94.13,102.94 95.87,103.24 97.60,103.55 99.33,103.86 101.07,104.17 102.80,104.49 104.53,104.82 106.27,105.15 108.00,105.49 108.00,109.59 106.27,109.25 104.53,108.92 102.80,108.59 101.07,108.27 99.33,107.96 97.60,107.65 95.87,107.34 94.13,107.04 92.40,106.75 90.67,106.46 88.93,106.18 87.20,105.91 85.47,105.63 83.73,105.37 82.00,105.11 80.27,104.86 78.53,104.61 76.80,104.37 75.07,104.13 73.33,103.90 71.60,103.67 69.87,103.45 68.13,103.24 66.40,103.03 64.67,102.83 62.93,102.63 61.20,102.44 59.47,102.26 57.73,102.08 56.00,101.90" fill="#0cb8f8" mask="url(#ms9)"/>
</g>
</g>
<text x="18.50" y="90.00" font-size="4.2" text-anchor="middle">YN</text>
<text x="44.20" y="78.40" font-size="4.2" text-anchor="middle">GZ</text>
<text x="53.50" y="92.00" font-size="4.2" text-anchor="middle">GX</text>
<text x="69.00" y="56.90" font-size="4.2" text-anchor="middle">HuB</text>
<text x="108.40" y="53.80" font-size="4.2" text-anchor="middle">JS</text>
<text x="9.90" y="7.60" font-size="5.9">(j)</text>
<rect x="0" y="0" width="135.70" height="112.70" fill="none" stroke="#8a8a8a" stroke-width="0.9"/>
<text x="-1.4" y="6.39" font-size="4.7" text-anchor="end">42°N</text>
<text x="-1.4" y="20.46" font-size="4.7" text-anchor="end">39°N</text>
<text x="-1.4" y="34.53" font-size="4.7" text-anchor="end">36°N</text>
<text x="-1.4" y="48.60" font-size="4.7" text-anchor="end">33°N</text>
<text x="-1.4" y="62.67" font-size="4.7" text-anchor="end">30°N</text>
<text x="-1.4" y="76.74" font-size="4.7" text-anchor="end">27°N</text>
<text x="-1.4" y="90.81" font-size="4.7" text-anchor="end">24°N</text>
<text x="-1.4" y="104.88" font-size="4.7" text-anchor="end">21°N</text>
<text x="14.01" y="118.00" font-size="4.7" text-anchor="middle">100°E</text>
<text x="37.37" y="118.00" font-size="4.7" text-anchor="middle">105°E</text>
<text x="60.73" y="118.00" font-size="4.7" text-anchor="middle">110°E</text>
<text x="84.08" y="118.00" font-size="4.7" text-anchor="middle">115°E</text>
<text x="107.44" y="118.00" font-size="4.7" text-anchor="middle">120°E</text>
<text x="130.80" y="118.00" font-size="4.7" text-anchor="middle">125°E</text>
<text x="67.85" y="-2.0" font-size="5.8" text-anchor="middle">2020-08-24 15:00</text>

</g>
<g transform="translate(183.50 417.00)">
<g clip-path="url(#cp)">
<g fill="none" stroke-linejoin="round"><g stroke="#d0d0d0" stroke-width="0.9"><path d="M40.17 112.56 L41.57 109.75 L43.91 106.93 L45.78 104.59 L48.11 103.18 L50.45 101.30 L51.62 100.60 L53.72 100.13 L55.59 100.37 L56.99 101.07 L58.86 100.37 L60.26 101.30 L59.56 103.65 L60.26 105.99 L61.66 106.70 L63.06 106.46 L62.83 104.59 L62.59 102.71 L64.46 101.30 L68.20 100.60 L71.00 99.43 L74.27 98.96 L76.14 98.02 L77.54 95.68 L78.24 96.61 L80.35 97.08 L81.75 96.14 L84.08 95.21 L86.89 94.74 L90.16 94.03 L92.02 92.86 L93.89 91.45 L96.23 90.05 L98.10 87.23 L100.90 85.83 L102.77 83.48 L105.10 82.07 L105.57 79.26 L107.44 76.92 L109.31 74.10 L111.18 70.82 L113.51 69.41 L115.38 66.60 L116.31 64.25 L116.78 61.44 L113.98 60.03 L111.18 59.33 L113.51 57.69 L116.31 56.75 L115.38 54.40 L116.31 52.76 L113.98 50.65 L111.64 48.31 L110.24 45.96 L108.84 42.21 L105.57 39.86 L103.70 38.46 L104.64 36.58 L106.97 34.71 L109.31 32.36 L111.64 30.95 L114.91 29.08 L118.65 28.61 L119.12 26.73 L116.78 25.79 L113.51 25.33 L110.71 24.39 L107.91 26.26 L105.57 27.67 L102.77 26.73 L102.30 24.39 L99.50 22.51 L96.70 21.10 L96.23 18.76 L98.56 17.82 L102.30 17.82 L104.17 16.41 L106.50 14.54 L110.24 12.66 L112.11 10.32 L114.91 9.85 L117.72 11.26 L116.31 13.13 L114.91 15.95 L113.51 17.82 L112.58 19.70 L114.91 19.23 L117.25 17.82 L120.52 16.41 L123.79 15.48 L127.53 14.54 L128.93 15.95 L131.26 16.41 L132.66 17.82 L131.73 20.17 L130.80 22.04 L132.66 23.45 L136.40 24.86"/><path d="M107.91 93.80 L108.84 96.14 L110.71 98.49 L111.64 96.61 L113.04 94.74 L114.45 91.45 L114.91 89.11 L116.31 86.30 L116.31 84.42 L114.45 83.01 L112.11 84.42 L110.71 86.30 L108.37 90.05 L107.91 93.80 Z"/><path d="M54.19 113.03 L54.65 111.15 L56.99 109.28 L58.86 107.87 L61.66 107.40 L64.00 107.87 L65.40 109.51 L64.00 112.09 L63.06 113.50"/><path d="M51.62 100.60 L49.52 100.37 L47.65 99.66 L45.31 98.49 L45.54 96.61 L44.84 94.27 L42.04 94.03 L40.17 93.33 L38.77 92.39 L36.90 93.80 L35.03 94.74 L32.70 96.14 L30.83 94.74 L28.96 95.68 L27.09 95.68 L25.22 95.68 L24.06 96.61"/><path d="M24.06 96.61 L22.42 96.38 L21.49 98.02 L21.95 101.77 L19.62 100.83 L19.39 100.37"/><path d="M19.39 100.37 L16.82 101.07 L14.95 100.37 L13.78 98.25 L10.74 98.02 L11.68 94.27 L9.34 92.86 L8.88 90.05 L7.94 88.64 L4.67 87.70 L2.80 89.58 L2.34 87.70 L3.27 85.36 L3.74 83.01 L5.61 81.61 L7.94 79.26 L7.94 75.04 L7.01 72.23 L5.61 71.29 L2.80 68.94 L-0.47 69.41"/><path d="M24.06 96.61 L25.22 98.96 L27.56 99.90 L26.63 102.24 L28.96 104.12 L31.30 104.59 L34.57 105.99 L35.50 107.87 L32.70 109.75 L35.03 112.09 L36.90 113.50"/><path d="M19.39 100.37 L16.82 104.12 L14.48 105.99 L16.35 107.40 L16.82 110.21 L19.62 110.21 L19.15 113.50"/><path d="M14.48 105.99 L11.68 107.40 L8.88 108.81 L5.61 109.28 L3.74 111.62 L2.80 114.44"/><path d="M-0.93 1.17 L0.93 0.94 L4.67 1.88 L11.68 1.88 L17.75 1.64 L22.42 2.34 L26.63 4.22 L31.30 5.16 L35.03 5.39 L37.37 6.57 L42.04 4.69 L46.71 3.28 L51.38 2.58 L56.06 2.58 L60.73 1.88 L63.53 0.47 L64.93 -0.94"/><path d="M127.53 14.54 L130.33 11.72 L133.60 9.85 L136.40 7.50"/><path d="M130.33 23.92 L134.07 23.92 L136.40 24.39"/></g><g stroke="#e5e5e5" stroke-width="0.7"><path d="M7.94 72.69 L7.47 69.41 L9.34 66.13 L10.28 64.72 L11.21 68.47 L14.48 70.35 L15.88 72.69 L18.22 72.23 L19.62 76.45 L22.42 79.26 L26.16 77.85 L28.03 75.04 L30.36 72.23 L33.63 71.29 L35.03 72.23"/><path d="M35.03 72.23 L33.63 75.51 L35.50 77.38 L34.57 79.73 L35.03 82.54 L35.50 85.36"/><path d="M38.77 92.39 L40.17 88.64 L37.37 86.76 L35.50 85.36 L38.30 84.89 L42.04 85.36 L44.84 83.48 L48.11 82.54 L51.38 81.61 L54.19 82.54 L57.46 80.67 L58.86 79.73"/><path d="M58.86 79.73 L57.46 77.38 L58.39 74.10 L56.99 72.23 L57.92 68.94 L56.99 66.13 L54.19 67.54 L52.79 65.19 L50.45 64.72 L46.71 65.66 L43.91 68.00 L41.11 69.88 L38.30 69.41 L35.03 72.23"/><path d="M38.30 69.41 L39.71 64.25 L40.64 61.44 L42.04 59.56 L44.84 59.09 L47.65 55.34 L51.38 52.53 L54.19 51.12 L57.46 53.47"/><path d="M57.46 53.47 L61.19 54.40 L58.39 58.16 L56.99 60.97 L55.12 63.78 L56.99 66.13"/><path d="M58.39 62.85 L63.06 61.44 L66.80 60.97 L71.00 62.85 L74.74 63.31 L78.48 64.72 L79.41 66.13"/><path d="M58.86 79.73 L60.73 78.32 L64.46 79.73 L66.33 82.07 L68.20 84.42 L71.94 85.36 L74.74 83.01 L78.01 83.01 L80.35 81.61"/><path d="M80.35 81.61 L79.41 78.32 L78.48 75.04 L79.41 72.69 L77.54 70.35 L78.94 67.54 L79.41 66.13"/><path d="M68.20 84.42 L67.73 87.23 L70.07 89.58 L67.73 92.39 L66.33 95.21 L64.00 97.08 L62.13 98.96 L60.26 100.83"/><path d="M80.35 81.61 L83.15 83.48 L85.48 85.83 L88.75 85.36 L91.09 86.30 L92.49 88.17 L94.36 91.45"/><path d="M91.09 86.30 L90.16 83.01 L90.62 79.73 L92.96 76.92 L95.76 73.63 L99.03 70.82 L100.43 68.94"/><path d="M100.43 68.94 L102.77 70.82 L105.57 72.23 L109.31 74.10"/><path d="M100.43 68.94 L99.03 66.13 L98.10 64.72 L95.29 63.31 L92.02 62.85 L89.22 61.91"/><path d="M79.41 66.13 L83.15 64.25 L86.42 61.91 L89.22 61.91"/><path d="M98.10 64.72 L101.83 61.44 L104.17 58.62 L105.57 55.81 L109.77 56.28 L112.11 56.28 L113.51 57.69"/><path d="M111.64 56.28 L112.58 53.47 L115.38 54.40"/><path d="M104.17 58.62 L103.70 54.87 L101.83 53.47 L100.43 50.65 L102.77 49.24 L100.90 46.90 L98.10 45.49 L97.16 42.21 L91.56 39.86"/><path d="M89.22 61.91 L87.82 59.09 L88.29 56.28 L85.48 54.40 L83.62 52.06 L86.42 49.71 L87.35 46.90 L86.89 44.09 L88.75 41.27 L91.56 39.86"/><path d="M63.53 47.84 L66.80 46.90 L69.60 48.78 L72.87 49.71 L77.08 52.53 L80.35 52.53 L83.62 52.06"/><path d="M54.19 51.12 L57.46 48.78 L61.66 48.78 L63.53 47.84"/><path d="M54.19 51.12 L49.05 48.78 L44.38 48.31 L39.71 48.31 L42.04 45.96 L44.38 43.62 L44.38 40.80 L46.71 38.46 L49.05 37.05 L53.72 36.11 L54.65 31.42 L51.38 30.02 L49.05 27.67 L49.52 23.92"/><path d="M39.71 48.31 L34.57 46.90 L31.30 44.09 L27.09 41.27 L23.36 42.21 L21.95 45.96 L17.75 48.31 L13.08 47.37 L9.34 46.90 L7.94 51.59 L8.88 56.28 L9.34 60.97 L10.28 64.72"/><path d="M27.09 41.27 L25.69 38.46 L28.03 35.17 L26.63 32.83 L25.22 30.48 L28.03 28.14 L24.76 24.39 L19.62 22.51 L11.68 19.23 L7.01 16.41 L0.00 17.82"/><path d="M0.93 0.94 L6.07 7.03 L12.15 10.32 L14.48 14.07 L18.22 16.88 L22.42 18.29 L26.16 17.82 L29.43 16.88 L32.70 18.29 L30.83 22.51 L33.63 25.33"/><path d="M33.63 25.33 L35.50 26.26 L38.77 28.14 L39.71 31.42 L42.04 34.24 L44.38 36.11 L46.25 33.77 L46.25 31.89 L48.11 29.08 L49.52 23.92 L46.25 21.10 L45.78 18.29 L43.91 17.35 L42.04 19.70 L40.17 22.51 L37.37 24.86 L33.63 25.33"/><path d="M49.52 23.92 L53.72 25.33 L58.39 22.04 L62.59 18.76 L65.86 15.95 L63.53 20.17 L62.59 25.79 L63.06 30.48 L62.59 34.71 L61.66 37.99 L63.53 39.40"/><path d="M63.53 39.40 L65.40 43.15 L65.40 45.02 L63.53 47.84"/><path d="M63.53 39.40 L67.73 37.99 L72.40 36.58 L77.08 35.17 L79.88 32.83"/><path d="M79.88 32.83 L78.01 29.08 L78.94 24.86 L79.88 21.10 L81.75 16.41 L79.41 14.07 L80.81 11.26 L77.54 11.72 L74.74 12.19 L71.00 12.19 L67.27 13.13 L65.86 15.95"/><path d="M79.88 32.83 L82.21 32.36 L85.48 32.83 L86.89 35.64 L88.75 39.40 L91.56 39.86"/><path d="M91.56 39.86 L94.83 38.93 L98.10 39.40 L100.90 37.52 L103.70 38.46"/><path d="M85.48 32.83 L88.29 28.61 L91.09 25.79 L94.83 23.92 L96.70 21.10"/><path d="M80.81 11.26 L79.41 7.97 L85.95 5.63 L88.75 4.22 L92.96 3.75 L95.29 2.34 L98.10 1.88 L99.50 4.22 L103.70 6.10 L106.50 10.32 L105.10 13.13 L104.17 16.41"/><path d="M103.70 6.10 L107.44 5.16 L111.18 3.28 L115.38 2.34 L119.12 0.94 L121.45 -0.47"/><path d="M136.40 7.50 L132.66 4.22 L129.86 1.88 L127.53 -0.47"/><path d="M86.42 15.95 L88.75 13.13 L90.62 9.85 L95.29 11.26 L94.36 13.60 L92.96 15.95 L89.69 16.41 L86.42 15.95"/><path d="M94.36 13.60 L97.16 15.48 L96.23 18.76 L96.70 21.10 L93.43 20.17 L92.96 15.95"/></g></g>
<g clip-path="url(#dom)"><g transform="translate(-183.50 -417.00)"><mask id="m10" maskUnits="userSpaceOnUse" x="0" y="0" width="522" height="550"><rect width="522" height="550" fill="#fff"/><rect width="522" height="550" fill="#000" filter="url(#spk1)"/><polygon points="243.96,507.17 247.22,506.52 248.13,509.78 245.26,511.08 243.70,509.78" fill="#000" stroke="#000" stroke-width="0.3" stroke-linejoin="round"/><polygon points="258.29,482.42 262.20,481.12 263.50,484.38 260.25,485.68" fill="#000" stroke="#000" stroke-width="0.3" stroke-linejoin="round"/><polygon points="268.71,477.21 272.62,475.91 275.23,479.82 271.32,482.42 268.71,481.12" fill="#000" stroke="#000" stroke-width="0.3" stroke-linejoin="round"/><polygon points="280.52,512.59 285.17,512.28 285.38,514.97 280.83,515.38" fill="#000" stroke="#000" stroke-width="0.3" stroke-linejoin="round"/><polygon points="268.21,469.83 271.31,468.79 273.38,470.86 271.31,473.45 268.72,472.93" fill="#000" stroke="#000" stroke-width="0.3" stroke-linejoin="round"/><polygon points="276.48,464.66 279.07,463.62 280.10,466.21 277.52,467.24" fill="#000" stroke="#000" stroke-width="0.3" stroke-linejoin="round"/><polygon points="270.28,477.07 273.38,476.03 274.93,478.62 272.34,480.69 270.28,479.66" fill="#000" stroke="#000" stroke-width="0.3" stroke-linejoin="round"/><polygon points="275.97,475.00 278.55,473.97 279.59,476.03 277.52,477.59" fill="#000" stroke="#000" stroke-width="0.3" stroke-linejoin="round"/><polygon points="279.59,479.14 282.17,478.31 282.48,481.21 280.10,482.24" fill="#000" stroke="#000" stroke-width="0.3" stroke-linejoin="round"/><polygon points="264.07,473.97 266.14,473.45 267.17,476.03 264.59,476.55" fill="#000" stroke="#000" stroke-width="0.3" stroke-linejoin="round"/><polygon points="272.34,467.24 274.93,466.21 275.97,468.28 273.38,469.31" fill="#000" stroke="#000" stroke-width="0.3" stroke-linejoin="round"/><polygon points="301.31,463.62 302.86,463.10 303.17,465.69 301.83,466.21" fill="#000" stroke="#000" stroke-width="0.3" stroke-linejoin="round"/><polygon points="300.79,469.31 302.86,468.28 303.90,470.86 301.83,471.90" fill="#000" stroke="#000" stroke-width="0.3" stroke-linejoin="round"/></mask><g mask="url(#m10)"><polygon points="218.56,509.78 219.86,507.82 221.82,508.48 224.42,507.17 228.33,505.22 232.24,503.26 236.15,501.31 240.05,499.62 243.96,498.70 247.87,499.36 251.00,500.14 251.00,520.85 218.56,517.85" fill="#0000c4" stroke="#0000c4" stroke-width="0.3" stroke-linejoin="round"/><polygon points="221.82,509.78 227.03,507.82 232.24,505.87 237.45,503.92 242.66,503.26 246.57,504.57 249.17,507.17 246.57,511.08 240.05,512.38 233.54,513.69 227.03,513.69 221.82,513.03" fill="#0042f8" stroke="#0042f8" stroke-width="0.3" stroke-linejoin="round"/><polygon points="227.03,515.64 240.05,516.94 251.00,518.38 251.00,520.85 227.03,517.33" fill="#0cb8f8" stroke="#0cb8f8" stroke-width="0.3" stroke-linejoin="round"/><polygon points="242.92,500.01 244.74,499.62 245.26,504.57 243.44,504.83" fill="#0cb8f8" stroke="#0cb8f8" stroke-width="0.3" stroke-linejoin="round"/><polygon points="246.57,492.84 249.17,490.24 253.08,488.93 255.69,486.33 256.99,482.42 258.29,479.82 260.90,477.86 263.50,475.91 267.41,474.61 271.32,473.30 275.23,472.00 282.00,472.00 282.00,477.21 279.13,478.51 275.23,477.86 271.32,479.82 268.71,482.42 266.11,485.03 263.50,486.33 260.90,486.33 258.94,488.93 257.64,492.84 254.38,493.49 250.48,493.49" fill="#0000c4" stroke="#0000c4" stroke-width="0.3" stroke-linejoin="round"/><polygon points="250.00,500.17 254.14,499.66 258.28,501.72 260.34,503.79 263.45,502.24 266.55,501.72 268.62,503.79 268.10,507.41 270.69,510.00 274.83,510.00 277.93,508.45 281.03,507.41 284.14,507.10 287.24,506.38 290.34,504.83 291.17,511.03 291.69,524.69 250.00,520.66" fill="#0000c4" stroke="#0000c4" stroke-width="0.3" stroke-linejoin="round"/><polygon points="250.00,500.69 256.21,500.69 262.41,504.83 265.52,511.03 260.34,514.14 250.00,514.14" fill="#0042f8" stroke="#0042f8" stroke-width="0.3" stroke-linejoin="round"/><polygon points="272.76,511.03 281.03,510.00 287.24,509.48 289.31,513.10 281.03,514.66 274.83,514.14" fill="#0042f8" stroke="#0042f8" stroke-width="0.3" stroke-linejoin="round"/><polygon points="250.00,516.21 260.34,515.38 270.69,516.21 281.03,517.45 291.38,518.90 291.69,524.69 250.00,520.66" fill="#0cb8f8" stroke="#0cb8f8" stroke-width="0.3" stroke-linejoin="round"/><polygon points="256.21,518.07 262.41,517.24 264.48,519.31 258.28,520.34" fill="#40f0c0" stroke="#40f0c0" stroke-width="0.3" stroke-linejoin="round"/><polygon points="275.86,519.31 281.03,518.79 282.07,520.86 276.90,521.38" fill="#40f0c0" stroke="#40f0c0" stroke-width="0.3" stroke-linejoin="round"/><polygon points="263.45,483.10 266.55,481.55 270.69,482.07 274.83,481.03 278.97,482.07 283.10,483.10 284.14,485.17 281.03,487.24 276.90,487.76 272.76,489.31 268.62,490.86 265.52,489.83 263.45,487.24" fill="#0000c4" stroke="#0000c4" stroke-width="0.3" stroke-linejoin="round"/><polygon points="254.14,481.03 258.28,480.00 260.34,483.10 258.28,486.21 255.17,485.69" fill="#0000c4" stroke="#0000c4" stroke-width="0.3" stroke-linejoin="round"/><polygon points="250.00,488.28 253.10,487.24 256.21,489.31 255.69,492.93 252.07,493.45 250.00,492.41" fill="#0000c4" stroke="#0000c4" stroke-width="0.3" stroke-linejoin="round"/><polygon points="265.52,497.07 268.10,494.69 271.72,495.00 273.28,497.59 271.72,500.17 268.10,500.69 266.03,499.66" fill="#0000c4" stroke="#0000c4" stroke-width="0.3" stroke-linejoin="round"/><polygon points="291.90,492.41 293.45,489.31 297.07,487.76 300.69,488.79 299.66,491.38 297.07,493.45 295.52,497.59 293.45,501.72 291.90,505.86 290.34,510.00 288.28,511.03 288.79,506.90 290.86,501.72 293.45,496.55" fill="#0000c4" stroke="#0000c4" stroke-width="0.3" stroke-linejoin="round"/><polygon points="277.93,504.83 281.03,503.28 284.14,500.69 287.24,500.17 288.79,502.24 286.21,504.83 283.10,506.38 279.48,507.10" fill="#0000c4" stroke="#0000c4" stroke-width="0.3" stroke-linejoin="round"/><polygon points="263.55,466.72 266.14,465.17 269.24,464.14 272.34,463.10 274.41,461.55 277.52,459.48 280.62,457.93 283.21,456.38 284.24,454.31 285.79,454.83 285.28,457.41 286.83,459.48 289.41,460.52 290.97,462.07 289.93,464.66 287.86,465.69 286.83,468.28 285.28,470.86 283.72,472.93 282.69,476.03 281.14,479.14 279.59,482.24 277.52,485.34 274.41,487.41 262.00,487.41 262.00,471.90" fill="#0000c4" stroke="#0000c4" stroke-width="0.3" stroke-linejoin="round"/><polygon points="274.41,463.62 279.59,461.55 283.72,461.55 285.79,465.69 282.69,470.86 278.55,472.93 275.45,469.83" fill="#0042f8" stroke="#0042f8" stroke-width="0.3" stroke-linejoin="round"/><polygon points="277.52,471.38 280.62,470.34 281.66,472.93 279.07,474.48 277.52,473.76" fill="#0cb8f8" stroke="#0cb8f8" stroke-width="0.3" stroke-linejoin="round"/><polygon points="281.66,460.52 284.24,459.48 285.28,462.07 283.21,463.62" fill="#0cb8f8" stroke="#0cb8f8" stroke-width="0.3" stroke-linejoin="round"/><polygon points="298.72,475.00 300.28,470.86 301.83,466.72 302.86,462.59 303.90,458.45 304.93,455.34 306.48,454.52 307.00,456.38 305.97,459.48 307.52,460.52 309.59,460.52 310.10,462.59 308.55,465.69 307.00,469.83 305.45,473.97 304.41,478.10 303.38,481.72 302.55,481.21 301.83,478.10 300.28,477.07" fill="#0000c4" stroke="#0000c4" stroke-width="0.3" stroke-linejoin="round"/></g></g>
<polygon points="38.00,100.12 40.33,98.07 42.67,96.65 45.00,96.83 47.33,97.01 49.67,97.21 52.00,97.42 54.33,97.64 56.67,97.87 59.00,98.11 61.33,98.36 63.67,98.62 66.00,98.89 68.33,99.17 70.67,99.46 73.00,99.76 75.33,100.07 77.67,100.39 80.00,100.72 82.33,101.06 84.67,101.41 87.00,101.77 89.33,102.15 91.67,102.53 94.00,102.92 96.33,103.32 98.67,103.74 101.00,104.16 103.33,104.59 105.67,105.04 108.00,105.49 108.00,109.59 105.67,109.14 103.33,108.69 101.00,108.26 98.67,107.84 96.33,107.42 94.00,107.02 91.67,106.63 89.33,106.25 87.00,105.87 84.67,105.51 82.33,105.16 80.00,104.82 77.67,104.49 75.33,104.17 73.00,103.86 70.67,103.56 68.33,103.27 66.00,102.99 63.67,102.72 61.33,102.46 59.00,102.21 56.67,101.97 54.33,101.74 52.00,101.52 49.67,101.31 47.33,101.11 45.00,100.93 42.67,100.75 40.33,100.58 38.00,100.42" fill="#0cb8f8" mask="url(#ms10)"/>
</g>
</g>
<text x="18.50" y="90.00" font-size="4.2" text-anchor="middle">YN</text>
<text x="44.20" y="78.40" font-size="4.2" text-anchor="middle">GZ</text>
<text x="53.90" y="94.50" font-size="4.2" text-anchor="middle">GX</text>
<text x="69.00" y="56.90" font-size="4.2" text-anchor="middle">HuB</text>
<text x="109.40" y="51.40" font-size="4.2" text-anchor="middle">JS</text>
<text x="9.90" y="7.60" font-size="5.9">(k)</text>
<rect x="0" y="0" width="135.70" height="112.70" fill="none" stroke="#8a8a8a" stroke-width="0.9"/>
<text x="-1.4" y="6.39" font-size="4.7" text-anchor="end">42°N</text>
<text x="-1.4" y="20.46" font-size="4.7" text-anchor="end">39°N</text>
<text x="-1.4" y="34.53" font-size="4.7" text-anchor="end">36°N</text>
<text x="-1.4" y="48.60" font-size="4.7" text-anchor="end">33°N</text>
<text x="-1.4" y="62.67" font-size="4.7" text-anchor="end">30°N</text>
<text x="-1.4" y="76.74" font-size="4.7" text-anchor="end">27°N</text>
<text x="-1.4" y="90.81" font-size="4.7" text-anchor="end">24°N</text>
<text x="-1.4" y="104.88" font-size="4.7" text-anchor="end">21°N</text>
<text x="14.01" y="118.00" font-size="4.7" text-anchor="middle">100°E</text>
<text x="37.37" y="118.00" font-size="4.7" text-anchor="middle">105°E</text>
<text x="60.73" y="118.00" font-size="4.7" text-anchor="middle">110°E</text>
<text x="84.08" y="118.00" font-size="4.7" text-anchor="middle">115°E</text>
<text x="107.44" y="118.00" font-size="4.7" text-anchor="middle">120°E</text>
<text x="130.80" y="118.00" font-size="4.7" text-anchor="middle">125°E</text>
<text x="67.85" y="-2.0" font-size="5.8" text-anchor="middle">2020-08-24 16:00</text>

</g>
<g transform="translate(339.30 417.00)">
<g clip-path="url(#cp)">
<g fill="none" stroke-linejoin="round"><g stroke="#d0d0d0" stroke-width="0.9"><path d="M40.17 112.56 L41.57 109.75 L43.91 106.93 L45.78 104.59 L48.11 103.18 L50.45 101.30 L51.62 100.60 L53.72 100.13 L55.59 100.37 L56.99 101.07 L58.86 100.37 L60.26 101.30 L59.56 103.65 L60.26 105.99 L61.66 106.70 L63.06 106.46 L62.83 104.59 L62.59 102.71 L64.46 101.30 L68.20 100.60 L71.00 99.43 L74.27 98.96 L76.14 98.02 L77.54 95.68 L78.24 96.61 L80.35 97.08 L81.75 96.14 L84.08 95.21 L86.89 94.74 L90.16 94.03 L92.02 92.86 L93.89 91.45 L96.23 90.05 L98.10 87.23 L100.90 85.83 L102.77 83.48 L105.10 82.07 L105.57 79.26 L107.44 76.92 L109.31 74.10 L111.18 70.82 L113.51 69.41 L115.38 66.60 L116.31 64.25 L116.78 61.44 L113.98 60.03 L111.18 59.33 L113.51 57.69 L116.31 56.75 L115.38 54.40 L116.31 52.76 L113.98 50.65 L111.64 48.31 L110.24 45.96 L108.84 42.21 L105.57 39.86 L103.70 38.46 L104.64 36.58 L106.97 34.71 L109.31 32.36 L111.64 30.95 L114.91 29.08 L118.65 28.61 L119.12 26.73 L116.78 25.79 L113.51 25.33 L110.71 24.39 L107.91 26.26 L105.57 27.67 L102.77 26.73 L102.30 24.39 L99.50 22.51 L96.70 21.10 L96.23 18.76 L98.56 17.82 L102.30 17.82 L104.17 16.41 L106.50 14.54 L110.24 12.66 L112.11 10.32 L114.91 9.85 L117.72 11.26 L116.31 13.13 L114.91 15.95 L113.51 17.82 L112.58 19.70 L114.91 19.23 L117.25 17.82 L120.52 16.41 L123.79 15.48 L127.53 14.54 L128.93 15.95 L131.26 16.41 L132.66 17.82 L131.73 20.17 L130.80 22.04 L132.66 23.45 L136.40 24.86"/><path d="M107.91 93.80 L108.84 96.14 L110.71 98.49 L111.64 96.61 L113.04 94.74 L114.45 91.45 L114.91 89.11 L116.31 86.30 L116.31 84.42 L114.45 83.01 L112.11 84.42 L110.71 86.30 L108.37 90.05 L107.91 93.80 Z"/><path d="M54.19 113.03 L54.65 111.15 L56.99 109.28 L58.86 107.87 L61.66 107.40 L64.00 107.87 L65.40 109.51 L64.00 112.09 L63.06 113.50"/><path d="M51.62 100.60 L49.52 100.37 L47.65 99.66 L45.31 98.49 L45.54 96.61 L44.84 94.27 L42.04 94.03 L40.17 93.33 L38.77 92.39 L36.90 93.80 L35.03 94.74 L32.70 96.14 L30.83 94.74 L28.96 95.68 L27.09 95.68 L25.22 95.68 L24.06 96.61"/><path d="M24.06 96.61 L22.42 96.38 L21.49 98.02 L21.95 101.77 L19.62 100.83 L19.39 100.37"/><path d="M19.39 100.37 L16.82 101.07 L14.95 100.37 L13.78 98.25 L10.74 98.02 L11.68 94.27 L9.34 92.86 L8.88 90.05 L7.94 88.64 L4.67 87.70 L2.80 89.58 L2.34 87.70 L3.27 85.36 L3.74 83.01 L5.61 81.61 L7.94 79.26 L7.94 75.04 L7.01 72.23 L5.61 71.29 L2.80 68.94 L-0.47 69.41"/><path d="M24.06 96.61 L25.22 98.96 L27.56 99.90 L26.63 102.24 L28.96 104.12 L31.30 104.59 L34.57 105.99 L35.50 107.87 L32.70 109.75 L35.03 112.09 L36.90 113.50"/><path d="M19.39 100.37 L16.82 104.12 L14.48 105.99 L16.35 107.40 L16.82 110.21 L19.62 110.21 L19.15 113.50"/><path d="M14.48 105.99 L11.68 107.40 L8.88 108.81 L5.61 109.28 L3.74 111.62 L2.80 114.44"/><path d="M-0.93 1.17 L0.93 0.94 L4.67 1.88 L11.68 1.88 L17.75 1.64 L22.42 2.34 L26.63 4.22 L31.30 5.16 L35.03 5.39 L37.37 6.57 L42.04 4.69 L46.71 3.28 L51.38 2.58 L56.06 2.58 L60.73 1.88 L63.53 0.47 L64.93 -0.94"/><path d="M127.53 14.54 L130.33 11.72 L133.60 9.85 L136.40 7.50"/><path d="M130.33 23.92 L134.07 23.92 L136.40 24.39"/></g><g stroke="#e5e5e5" stroke-width="0.7"><path d="M7.94 72.69 L7.47 69.41 L9.34 66.13 L10.28 64.72 L11.21 68.47 L14.48 70.35 L15.88 72.69 L18.22 72.23 L19.62 76.45 L22.42 79.26 L26.16 77.85 L28.03 75.04 L30.36 72.23 L33.63 71.29 L35.03 72.23"/><path d="M35.03 72.23 L33.63 75.51 L35.50 77.38 L34.57 79.73 L35.03 82.54 L35.50 85.36"/><path d="M38.77 92.39 L40.17 88.64 L37.37 86.76 L35.50 85.36 L38.30 84.89 L42.04 85.36 L44.84 83.48 L48.11 82.54 L51.38 81.61 L54.19 82.54 L57.46 80.67 L58.86 79.73"/><path d="M58.86 79.73 L57.46 77.38 L58.39 74.10 L56.99 72.23 L57.92 68.94 L56.99 66.13 L54.19 67.54 L52.79 65.19 L50.45 64.72 L46.71 65.66 L43.91 68.00 L41.11 69.88 L38.30 69.41 L35.03 72.23"/><path d="M38.30 69.41 L39.71 64.25 L40.64 61.44 L42.04 59.56 L44.84 59.09 L47.65 55.34 L51.38 52.53 L54.19 51.12 L57.46 53.47"/><path d="M57.46 53.47 L61.19 54.40 L58.39 58.16 L56.99 60.97 L55.12 63.78 L56.99 66.13"/><path d="M58.39 62.85 L63.06 61.44 L66.80 60.97 L71.00 62.85 L74.74 63.31 L78.48 64.72 L79.41 66.13"/><path d="M58.86 79.73 L60.73 78.32 L64.46 79.73 L66.33 82.07 L68.20 84.42 L71.94 85.36 L74.74 83.01 L78.01 83.01 L80.35 81.61"/><path d="M80.35 81.61 L79.41 78.32 L78.48 75.04 L79.41 72.69 L77.54 70.35 L78.94 67.54 L79.41 66.13"/><path d="M68.20 84.42 L67.73 87.23 L70.07 89.58 L67.73 92.39 L66.33 95.21 L64.00 97.08 L62.13 98.96 L60.26 100.83"/><path d="M80.35 81.61 L83.15 83.48 L85.48 85.83 L88.75 85.36 L91.09 86.30 L92.49 88.17 L94.36 91.45"/><path d="M91.09 86.30 L90.16 83.01 L90.62 79.73 L92.96 76.92 L95.76 73.63 L99.03 70.82 L100.43 68.94"/><path d="M100.43 68.94 L102.77 70.82 L105.57 72.23 L109.31 74.10"/><path d="M100.43 68.94 L99.03 66.13 L98.10 64.72 L95.29 63.31 L92.02 62.85 L89.22 61.91"/><path d="M79.41 66.13 L83.15 64.25 L86.42 61.91 L89.22 61.91"/><path d="M98.10 64.72 L101.83 61.44 L104.17 58.62 L105.57 55.81 L109.77 56.28 L112.11 56.28 L113.51 57.69"/><path d="M111.64 56.28 L112.58 53.47 L115.38 54.40"/><path d="M104.17 58.62 L103.70 54.87 L101.83 53.47 L100.43 50.65 L102.77 49.24 L100.90 46.90 L98.10 45.49 L97.16 42.21 L91.56 39.86"/><path d="M89.22 61.91 L87.82 59.09 L88.29 56.28 L85.48 54.40 L83.62 52.06 L86.42 49.71 L87.35 46.90 L86.89 44.09 L88.75 41.27 L91.56 39.86"/><path d="M63.53 47.84 L66.80 46.90 L69.60 48.78 L72.87 49.71 L77.08 52.53 L80.35 52.53 L83.62 52.06"/><path d="M54.19 51.12 L57.46 48.78 L61.66 48.78 L63.53 47.84"/><path d="M54.19 51.12 L49.05 48.78 L44.38 48.31 L39.71 48.31 L42.04 45.96 L44.38 43.62 L44.38 40.80 L46.71 38.46 L49.05 37.05 L53.72 36.11 L54.65 31.42 L51.38 30.02 L49.05 27.67 L49.52 23.92"/><path d="M39.71 48.31 L34.57 46.90 L31.30 44.09 L27.09 41.27 L23.36 42.21 L21.95 45.96 L17.75 48.31 L13.08 47.37 L9.34 46.90 L7.94 51.59 L8.88 56.28 L9.34 60.97 L10.28 64.72"/><path d="M27.09 41.27 L25.69 38.46 L28.03 35.17 L26.63 32.83 L25.22 30.48 L28.03 28.14 L24.76 24.39 L19.62 22.51 L11.68 19.23 L7.01 16.41 L0.00 17.82"/><path d="M0.93 0.94 L6.07 7.03 L12.15 10.32 L14.48 14.07 L18.22 16.88 L22.42 18.29 L26.16 17.82 L29.43 16.88 L32.70 18.29 L30.83 22.51 L33.63 25.33"/><path d="M33.63 25.33 L35.50 26.26 L38.77 28.14 L39.71 31.42 L42.04 34.24 L44.38 36.11 L46.25 33.77 L46.25 31.89 L48.11 29.08 L49.52 23.92 L46.25 21.10 L45.78 18.29 L43.91 17.35 L42.04 19.70 L40.17 22.51 L37.37 24.86 L33.63 25.33"/><path d="M49.52 23.92 L53.72 25.33 L58.39 22.04 L62.59 18.76 L65.86 15.95 L63.53 20.17 L62.59 25.79 L63.06 30.48 L62.59 34.71 L61.66 37.99 L63.53 39.40"/><path d="M63.53 39.40 L65.40 43.15 L65.40 45.02 L63.53 47.84"/><path d="M63.53 39.40 L67.73 37.99 L72.40 36.58 L77.08 35.17 L79.88 32.83"/><path d="M79.88 32.83 L78.01 29.08 L78.94 24.86 L79.88 21.10 L81.75 16.41 L79.41 14.07 L80.81 11.26 L77.54 11.72 L74.74 12.19 L71.00 12.19 L67.27 13.13 L65.86 15.95"/><path d="M79.88 32.83 L82.21 32.36 L85.48 32.83 L86.89 35.64 L88.75 39.40 L91.56 39.86"/><path d="M91.56 39.86 L94.83 38.93 L98.10 39.40 L100.90 37.52 L103.70 38.46"/><path d="M85.48 32.83 L88.29 28.61 L91.09 25.79 L94.83 23.92 L96.70 21.10"/><path d="M80.81 11.26 L79.41 7.97 L85.95 5.63 L88.75 4.22 L92.96 3.75 L95.29 2.34 L98.10 1.88 L99.50 4.22 L103.70 6.10 L106.50 10.32 L105.10 13.13 L104.17 16.41"/><path d="M103.70 6.10 L107.44 5.16 L111.18 3.28 L115.38 2.34 L119.12 0.94 L121.45 -0.47"/><path d="M136.40 7.50 L132.66 4.22 L129.86 1.88 L127.53 -0.47"/><path d="M86.42 15.95 L88.75 13.13 L90.62 9.85 L95.29 11.26 L94.36 13.60 L92.96 15.95 L89.69 16.41 L86.42 15.95"/><path d="M94.36 13.60 L97.16 15.48 L96.23 18.76 L96.70 21.10 L93.43 20.17 L92.96 15.95"/></g></g>
<g clip-path="url(#dom)"><g transform="translate(-339.30 -417.00)"><mask id="m11" maskUnits="userSpaceOnUse" x="0" y="0" width="522" height="550"><rect width="522" height="550" fill="#fff"/><rect width="522" height="550" fill="#000" filter="url(#spk1)"/><polygon points="399.31,504.57 402.57,503.92 403.87,507.17 401.26,509.13 399.31,507.82" fill="#000" stroke="#000" stroke-width="0.3" stroke-linejoin="round"/><polygon points="405.17,507.17 407.78,506.52 409.08,509.78 407.13,511.73 404.91,510.43" fill="#000" stroke="#000" stroke-width="0.3" stroke-linejoin="round"/><polygon points="401.26,509.78 403.87,509.52 404.13,511.73 401.92,512.38" fill="#000" stroke="#000" stroke-width="0.3" stroke-linejoin="round"/><polygon points="386.28,514.99 388.89,514.73 389.28,516.94 386.67,517.33" fill="#000" stroke="#000" stroke-width="0.3" stroke-linejoin="round"/><polygon points="416.90,479.82 419.50,478.51 421.46,481.12 418.85,483.07" fill="#000" stroke="#000" stroke-width="0.3" stroke-linejoin="round"/><polygon points="424.71,477.21 428.62,475.91 430.57,479.16 427.97,481.77 425.36,481.12" fill="#000" stroke="#000" stroke-width="0.3" stroke-linejoin="round"/><polygon points="431.23,481.12 435.13,479.82 436.44,483.07 433.18,484.38" fill="#000" stroke="#000" stroke-width="0.3" stroke-linejoin="round"/><polygon points="409.08,507.17 412.99,506.13 415.59,508.48 411.69,510.04" fill="#000" stroke="#000" stroke-width="0.3" stroke-linejoin="round"/><polygon points="419.50,504.57 422.11,504.05 422.76,506.13 420.15,506.65" fill="#000" stroke="#000" stroke-width="0.3" stroke-linejoin="round"/><polygon points="422.07,468.79 425.17,467.97 427.24,469.83 425.17,471.90 422.59,471.38" fill="#000" stroke="#000" stroke-width="0.3" stroke-linejoin="round"/><polygon points="429.31,466.72 432.41,465.69 433.45,468.28 430.86,469.31" fill="#000" stroke="#000" stroke-width="0.3" stroke-linejoin="round"/><polygon points="423.10,476.03 426.21,475.00 427.76,477.59 425.17,479.14 423.10,478.62" fill="#000" stroke="#000" stroke-width="0.3" stroke-linejoin="round"/><polygon points="428.28,479.14 431.38,478.10 432.41,480.69 429.83,482.24" fill="#000" stroke="#000" stroke-width="0.3" stroke-linejoin="round"/><polygon points="436.55,464.66 439.14,464.14 439.66,466.21 437.07,466.72" fill="#000" stroke="#000" stroke-width="0.3" stroke-linejoin="round"/><polygon points="434.48,476.03 437.59,475.21 438.10,477.90 435.31,478.31" fill="#000" stroke="#000" stroke-width="0.3" stroke-linejoin="round"/><polygon points="429.31,471.90 430.86,471.38 431.38,473.97 429.52,474.28" fill="#000" stroke="#000" stroke-width="0.3" stroke-linejoin="round"/><polygon points="456.21,472.93 458.28,472.10 458.79,475.00 456.72,475.52" fill="#000" stroke="#000" stroke-width="0.3" stroke-linejoin="round"/><polygon points="459.83,467.76 461.38,466.93 461.59,469.31 460.14,469.62" fill="#000" stroke="#000" stroke-width="0.3" stroke-linejoin="round"/><polygon points="437.59,511.90 440.69,510.86 442.24,512.93 440.17,515.00 437.79,514.48" fill="#000" stroke="#000" stroke-width="0.3" stroke-linejoin="round"/><polygon points="441.72,507.76 443.28,505.69 444.31,508.28 442.76,510.34" fill="#000" stroke="#000" stroke-width="0.3" stroke-linejoin="round"/></mask><g mask="url(#m11)"><polygon points="375.86,513.03 377.82,510.43 381.07,509.13 384.33,507.17 388.24,504.57 392.15,502.61 396.05,500.92 399.96,500.01 403.87,500.01 407.13,499.36 409.08,501.31 412.99,503.92 416.90,505.22 420.80,503.26 423.41,501.31 426.02,500.01 428.62,501.31 431.23,503.26 435.13,502.61 438.00,501.31 438.00,526.71 422.11,524.11 409.08,522.15 396.05,519.94 383.03,517.85 375.86,516.29" fill="#0000c4" stroke="#0000c4" stroke-width="0.3" stroke-linejoin="round"/><polygon points="377.82,513.69 383.03,511.08 388.24,508.48 392.15,507.17 396.05,506.52 399.96,508.48 399.96,513.69 394.75,515.64 388.24,516.94 381.72,516.94 377.82,516.29" fill="#0042f8" stroke="#0042f8" stroke-width="0.3" stroke-linejoin="round"/><polygon points="393.45,517.59 403.87,516.94 414.29,514.99 422.11,513.03 428.62,512.38 438.00,511.08 438.00,526.71 422.11,524.11 409.08,522.15 393.45,519.55" fill="#0cb8f8" stroke="#0cb8f8" stroke-width="0.3" stroke-linejoin="round"/><polygon points="424.71,514.99 431.23,514.47 431.49,518.64 425.36,518.90" fill="#40f0c0" stroke="#40f0c0" stroke-width="0.3" stroke-linejoin="round"/><polygon points="407.78,517.59 412.99,517.07 413.25,519.68 408.04,519.94" fill="#40f0c0" stroke="#40f0c0" stroke-width="0.3" stroke-linejoin="round"/><polygon points="403.22,492.19 406.48,490.89 409.08,488.93 411.03,486.33 412.99,482.42 414.29,479.16 416.90,477.21 420.80,475.26 423.41,473.30 427.32,472.65 429.92,472.00 438.00,472.00 438.00,487.63 435.13,488.93 432.53,486.33 429.92,485.03 427.32,486.33 424.71,487.63 422.11,486.33 419.50,485.03 416.90,487.63 415.59,490.24 412.99,492.19 409.08,492.84 405.17,493.10" fill="#0000c4" stroke="#0000c4" stroke-width="0.3" stroke-linejoin="round"/><polygon points="422.11,495.45 424.71,493.49 427.32,494.15 427.97,498.05 426.02,500.66 422.76,500.01" fill="#0000c4" stroke="#0000c4" stroke-width="0.3" stroke-linejoin="round"/><polygon points="420.00,465.69 423.10,464.66 426.21,464.14 429.31,463.10 432.41,461.55 435.52,459.48 438.10,457.93 440.17,458.45 439.66,462.07 442.24,463.10 444.83,462.59 445.86,464.66 444.31,466.72 443.28,469.83 441.21,471.90 440.69,475.00 439.66,478.10 438.10,481.21 436.55,484.31 434.48,487.41 420.00,487.41" fill="#0000c4" stroke="#0000c4" stroke-width="0.3" stroke-linejoin="round"/><polygon points="430.34,469.83 438.62,467.24 440.69,470.86 438.62,476.03 432.41,477.07" fill="#0042f8" stroke="#0042f8" stroke-width="0.3" stroke-linejoin="round"/><polygon points="432.41,470.86 435.52,469.83 437.59,470.86 437.07,473.97 434.48,475.52 432.41,474.48" fill="#0cb8f8" stroke="#0cb8f8" stroke-width="0.3" stroke-linejoin="round"/><polygon points="454.14,473.97 455.69,469.83 457.76,466.72 459.83,464.66 461.38,462.59 463.45,460.52 465.52,459.48 466.03,461.55 463.97,465.69 462.41,469.83 460.86,473.97 459.83,478.10 458.79,481.21 457.76,480.17 456.21,477.07" fill="#0000c4" stroke="#0000c4" stroke-width="0.3" stroke-linejoin="round"/><polygon points="455.69,460.52 458.28,456.90 460.86,454.31 462.41,452.76 462.93,454.31 460.86,457.41 458.28,460.52 456.72,461.55" fill="#0000c4" stroke="#0000c4" stroke-width="0.3" stroke-linejoin="round"/><polygon points="452.59,463.62 454.14,463.10 454.66,465.17 452.90,465.48" fill="#0000c4" stroke="#0000c4" stroke-width="0.3" stroke-linejoin="round"/><polygon points="450.00,454.83 451.03,454.10 451.55,456.38 450.52,456.90" fill="#0000c4" stroke="#0000c4" stroke-width="0.3" stroke-linejoin="round"/><polygon points="420.00,485.00 435.52,485.00 433.45,487.07 430.34,488.62 426.21,488.10 423.10,489.14 420.00,489.66" fill="#0000c4" stroke="#0000c4" stroke-width="0.3" stroke-linejoin="round"/><polygon points="421.03,495.34 423.62,493.28 427.24,493.79 428.28,496.90 426.21,500.52 423.10,501.03 421.03,498.97" fill="#0000c4" stroke="#0000c4" stroke-width="0.3" stroke-linejoin="round"/><polygon points="420.00,504.14 422.59,503.62 424.14,506.72 423.10,510.34 420.00,510.86" fill="#0000c4" stroke="#0000c4" stroke-width="0.3" stroke-linejoin="round"/><polygon points="420.00,511.90 425.17,510.86 430.34,509.83 434.48,507.24 437.59,504.66 440.69,502.07 443.28,499.48 444.83,500.00 443.79,504.66 445.34,509.83 444.83,512.93 446.38,513.97 447.93,514.48 448.45,517.07 447.52,524.72 420.00,522.14" fill="#0000c4" stroke="#0000c4" stroke-width="0.3" stroke-linejoin="round"/><polygon points="445.86,508.79 447.41,505.69 448.97,502.59 451.03,499.48 452.07,496.38 451.03,494.31 448.97,493.28 450.00,489.14 453.10,487.07 456.21,488.10 455.69,491.21 454.14,495.34 453.10,499.48 450.52,503.62 448.45,507.24 447.41,510.86 446.38,512.41" fill="#0000c4" stroke="#0000c4" stroke-width="0.3" stroke-linejoin="round"/><polygon points="420.00,515.00 426.21,514.48 432.41,516.03 438.62,517.07 444.83,516.03 447.93,515.00 447.72,524.52 420.00,521.93" fill="#0cb8f8" stroke="#0cb8f8" stroke-width="0.3" stroke-linejoin="round"/><polygon points="422.07,517.07 426.21,516.66 426.41,519.97 422.28,520.17" fill="#40f0c0" stroke="#40f0c0" stroke-width="0.3" stroke-linejoin="round"/><polygon points="430.34,519.14 434.48,518.93 434.69,522.03 430.55,522.24" fill="#40f0c0" stroke="#40f0c0" stroke-width="0.3" stroke-linejoin="round"/><polygon points="435.52,518.10 443.79,517.90 445.34,521.21 437.59,522.24" fill="#0042f8" stroke="#0042f8" stroke-width="0.3" stroke-linejoin="round"/></g></g>
<polygon points="48.00,100.87 50.00,99.14 52.00,97.42 54.00,97.61 56.00,97.80 58.00,98.00 60.00,98.21 62.00,98.43 64.00,98.65 66.00,98.89 68.00,99.12 70.00,99.37 72.00,99.63 74.00,99.89 76.00,100.16 78.00,100.43 80.00,100.72 82.00,101.01 84.00,101.31 86.00,101.62 88.00,101.93 90.00,102.25 92.00,102.58 94.00,102.92 96.00,103.27 98.00,103.62 100.00,103.98 102.00,104.35 104.00,104.72 106.00,105.10 108.00,105.49 108.00,109.59 106.00,109.20 104.00,108.82 102.00,108.45 100.00,108.08 98.00,107.72 96.00,107.37 94.00,107.02 92.00,106.68 90.00,106.35 88.00,106.03 86.00,105.72 84.00,105.41 82.00,105.11 80.00,104.82 78.00,104.53 76.00,104.26 74.00,103.99 72.00,103.73 70.00,103.47 68.00,103.22 66.00,102.99 64.00,102.75 62.00,102.53 60.00,102.31 58.00,102.10 56.00,101.90 54.00,101.71 52.00,101.52 50.00,101.34 48.00,101.17" fill="#0cb8f8" mask="url(#ms11)"/>
</g>
</g>
<text x="18.50" y="90.00" font-size="4.2" text-anchor="middle">YN</text>
<text x="45.90" y="78.10" font-size="4.2" text-anchor="middle">GZ</text>
<text x="54.80" y="93.60" font-size="4.2" text-anchor="middle">GX</text>
<text x="71.50" y="56.00" font-size="4.2" text-anchor="middle">HuB</text>
<text x="90.00" y="46.50" font-size="4.2" text-anchor="middle">AH</text>
<text x="107.00" y="46.50" font-size="4.2" text-anchor="middle">JS</text>
<text x="9.90" y="7.60" font-size="5.9">(l)</text>
<rect x="0" y="0" width="135.70" height="112.70" fill="none" stroke="#8a8a8a" stroke-width="0.9"/>
<text x="-1.4" y="6.39" font-size="4.7" text-anchor="end">42°N</text>
<text x="-1.4" y="20.46" font-size="4.7" text-anchor="end">39°N</text>
<text x="-1.4" y="34.53" font-size="4.7" text-anchor="end">36°N</text>
<text x="-1.4" y="48.60" font-size="4.7" text-anchor="end">33°N</text>
<text x="-1.4" y="62.67" font-size="4.7" text-anchor="end">30°N</text>
<text x="-1.4" y="76.74" font-size="4.7" text-anchor="end">27°N</text>
<text x="-1.4" y="90.81" font-size="4.7" text-anchor="end">24°N</text>
<text x="-1.4" y="104.88" font-size="4.7" text-anchor="end">21°N</text>
<text x="14.01" y="118.00" font-size="4.7" text-anchor="middle">100°E</text>
<text x="37.37" y="118.00" font-size="4.7" text-anchor="middle">105°E</text>
<text x="60.73" y="118.00" font-size="4.7" text-anchor="middle">110°E</text>
<text x="84.08" y="118.00" font-size="4.7" text-anchor="middle">115°E</text>
<text x="107.44" y="118.00" font-size="4.7" text-anchor="middle">120°E</text>
<text x="130.80" y="118.00" font-size="4.7" text-anchor="middle">125°E</text>
<text x="67.85" y="-2.0" font-size="5.8" text-anchor="middle">2020-08-24 17:00</text>

</g>
<ellipse cx="285.80" cy="74.10" rx="15.90" ry="11.80" fill="none" stroke="#4f4fa6" stroke-width="0.95"/>
<ellipse cx="442.40" cy="74.20" rx="17.60" ry="13.30" fill="none" stroke="#4f4fa6" stroke-width="0.95"/>
<ellipse cx="284.00" cy="205.60" rx="15.90" ry="12.20" fill="none" stroke="#4f4fa6" stroke-width="0.95"/>
<ellipse cx="442.70" cy="202.70" rx="17.70" ry="13.50" fill="none" stroke="#4f4fa6" stroke-width="0.95"/>
<rect x="-12.6" y="-1.75" width="25.2" height="3.5" rx="1.75" fill="none" stroke="#b42828" stroke-width="0.85" transform="translate(228.80 244.60) rotate(-45.5)"/>
<rect x="-12.6" y="-1.75" width="25.2" height="3.5" rx="1.75" fill="none" stroke="#b42828" stroke-width="0.85" transform="translate(384.90 244.20) rotate(-45.5)"/>
<rect x="482.60" y="368.03" width="3.90" height="11.62" fill="#0000d4"/><rect x="482.60" y="356.47" width="3.90" height="11.62" fill="#0080ff"/><rect x="482.60" y="344.90" width="3.90" height="11.62" fill="#2affd4"/><rect x="482.60" y="333.33" width="3.90" height="11.62" fill="#d4ff2a"/><rect x="482.60" y="321.77" width="3.90" height="11.62" fill="#ff8000"/><rect x="482.60" y="310.20" width="3.90" height="11.62" fill="#d40000"/><line x1="486.50" x2="487.40" y1="379.60" y2="379.60" stroke="#333" stroke-width="0.4"/><text x="488.50" y="381.40" font-size="5.00">0</text><line x1="486.50" x2="487.40" y1="368.03" y2="368.03" stroke="#333" stroke-width="0.4"/><text x="488.50" y="369.83" font-size="5.00">10</text><line x1="486.50" x2="487.40" y1="356.47" y2="356.47" stroke="#333" stroke-width="0.4"/><text x="488.50" y="358.27" font-size="5.00">20</text><line x1="486.50" x2="487.40" y1="344.90" y2="344.90" stroke="#333" stroke-width="0.4"/><text x="488.50" y="346.70" font-size="5.00">30</text><line x1="486.50" x2="487.40" y1="333.33" y2="333.33" stroke="#333" stroke-width="0.4"/><text x="488.50" y="335.13" font-size="5.00">40</text><line x1="486.50" x2="487.40" y1="321.77" y2="321.77" stroke="#333" stroke-width="0.4"/><text x="488.50" y="323.57" font-size="5.00">50</text><line x1="486.50" x2="487.40" y1="310.20" y2="310.20" stroke="#333" stroke-width="0.4"/><text x="488.50" y="312.00" font-size="5.00">60</text><text x="487.00" y="388.71" font-size="4.20" text-anchor="middle">(unit: dBZ)</text>
<rect x="484.20" y="498.64" width="3.70" height="8.71" fill="#0000bf"/><rect x="484.20" y="489.98" width="3.70" height="8.71" fill="#0040ff"/><rect x="484.20" y="481.31" width="3.70" height="8.71" fill="#00bfff"/><rect x="484.20" y="472.65" width="3.70" height="8.71" fill="#40ffbf"/><rect x="484.20" y="463.99" width="3.70" height="8.71" fill="#bfff40"/><rect x="484.20" y="455.32" width="3.70" height="8.71" fill="#ffbf00"/><rect x="484.20" y="446.66" width="3.70" height="8.71" fill="#ff4000"/><rect x="484.20" y="438.00" width="3.70" height="8.71" fill="#bf0000"/><line x1="487.90" x2="488.80" y1="507.30" y2="507.30" stroke="#333" stroke-width="0.4"/><text x="489.90" y="508.99" font-size="4.70">1000</text><line x1="487.90" x2="488.80" y1="498.64" y2="498.64" stroke="#333" stroke-width="0.4"/><text x="489.90" y="500.33" font-size="4.70">1500</text><line x1="487.90" x2="488.80" y1="489.98" y2="489.98" stroke="#333" stroke-width="0.4"/><text x="489.90" y="491.67" font-size="4.70">2000</text><line x1="487.90" x2="488.80" y1="481.31" y2="481.31" stroke="#333" stroke-width="0.4"/><text x="489.90" y="483.00" font-size="4.70">2500</text><line x1="487.90" x2="488.80" y1="472.65" y2="472.65" stroke="#333" stroke-width="0.4"/><text x="489.90" y="474.34" font-size="4.70">3000</text><line x1="487.90" x2="488.80" y1="463.99" y2="463.99" stroke="#333" stroke-width="0.4"/><text x="489.90" y="465.68" font-size="4.70">3500</text><line x1="487.90" x2="488.80" y1="455.32" y2="455.32" stroke="#333" stroke-width="0.4"/><text x="489.90" y="457.02" font-size="4.70">4000</text><line x1="487.90" x2="488.80" y1="446.66" y2="446.66" stroke="#333" stroke-width="0.4"/><text x="489.90" y="448.35" font-size="4.70">4500</text><line x1="487.90" x2="488.80" y1="438.00" y2="438.00" stroke="#333" stroke-width="0.4"/><text x="489.90" y="439.69" font-size="4.70">5000</text><text x="487.90" y="518.18" font-size="4.40" text-anchor="middle">(unit: J/kg)</text>
</svg></body></html>
